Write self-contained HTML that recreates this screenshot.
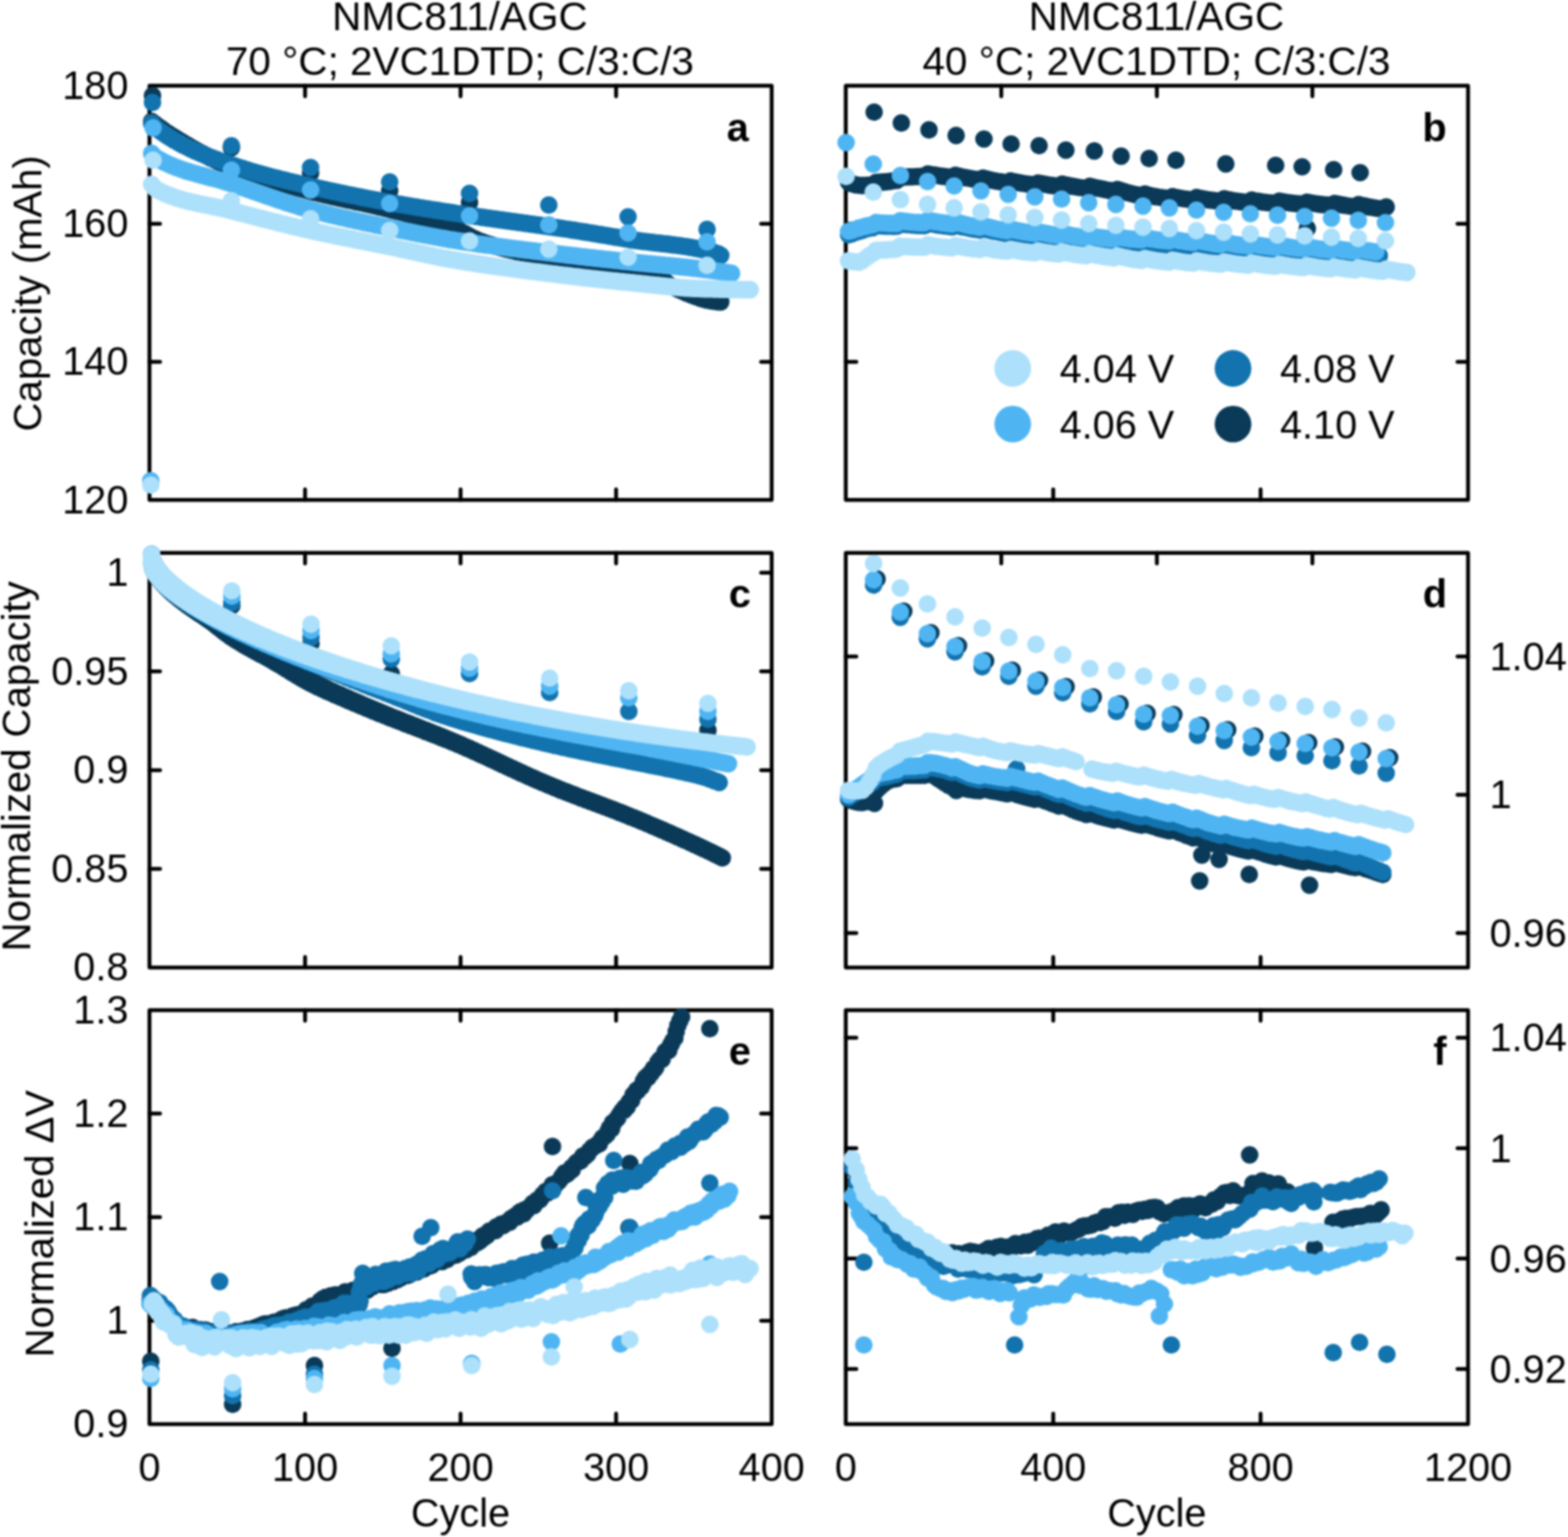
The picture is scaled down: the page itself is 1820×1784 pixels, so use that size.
<!DOCTYPE html>
<html><head><meta charset="utf-8"><title>NMC811/AGC capacity and normalized data</title>
<style>html,body{margin:0;padding:0;background:#fff;}svg{display:block;}#w{filter:blur(0.8px);}
text{font-family:'Liberation Sans', Arial, Helvetica, sans-serif;fill:#000;}</style></head>
<body><div id="w"><svg width="1820" height="1784" viewBox="0 0 1820 1784">
<rect width="1820" height="1784" fill="#fff"/>
<path d="M354.1 99.5V111.8M534.6 99.5V111.8M715.1 99.5V111.8M354.1 580.2V567.9M534.6 580.2V567.9M715.1 580.2V567.9M173.5 259.7H185.8M173.5 420H185.8M895.7 259.7H883.4M895.7 420H883.4" stroke="#000" stroke-width="4.5" stroke-linecap="round" fill="none"/>
<rect x="173.5" y="99.5" width="722.2" height="480.7" fill="none" stroke="#000" stroke-width="4.5" stroke-linejoin="round"/>
<path d="M1162.2 99.5V111.8M1342.8 99.5V111.8M1523.3 99.5V111.8M1222.5 580.2V567.9M1463.2 580.2V567.9M981.7 259.7H994M981.7 420H994M1704 259.7H1691.7M1704 420H1691.7" stroke="#000" stroke-width="4.5" stroke-linecap="round" fill="none"/>
<rect x="981.7" y="99.5" width="722.3" height="480.7" fill="none" stroke="#000" stroke-width="4.5" stroke-linejoin="round"/>
<path d="M354.1 641.8V654.1M534.6 641.8V654.1M715.1 641.8V654.1M354.1 1123V1110.7M534.6 1123V1110.7M715.1 1123V1110.7M173.5 664.7H185.8M173.5 779.3H185.8M173.5 893.9H185.8M173.5 1008.4H185.8M895.7 664.7H883.4M895.7 779.3H883.4M895.7 893.9H883.4M895.7 1008.4H883.4" stroke="#000" stroke-width="4.5" stroke-linecap="round" fill="none"/>
<rect x="173.5" y="641.8" width="722.2" height="481.2" fill="none" stroke="#000" stroke-width="4.5" stroke-linejoin="round"/>
<path d="M1162.2 641.8V654.1M1342.8 641.8V654.1M1523.3 641.8V654.1M1222.5 1123V1110.7M1463.2 1123V1110.7M981.7 762.1H994M981.7 922.5H994M981.7 1082.9H994M1704 762.1H1691.7M1704 922.5H1691.7M1704 1082.9H1691.7" stroke="#000" stroke-width="4.5" stroke-linecap="round" fill="none"/>
<rect x="981.7" y="641.8" width="722.3" height="481.2" fill="none" stroke="#000" stroke-width="4.5" stroke-linejoin="round"/>
<path d="M354.1 1172.5V1184.8M534.6 1172.5V1184.8M715.1 1172.5V1184.8M354.1 1653V1640.7M534.6 1653V1640.7M715.1 1653V1640.7M173.5 1292.6H185.8M173.5 1412.8H185.8M173.5 1532.9H185.8M895.7 1292.6H883.4M895.7 1412.8H883.4M895.7 1532.9H883.4" stroke="#000" stroke-width="4.5" stroke-linecap="round" fill="none"/>
<rect x="173.5" y="1172.5" width="722.2" height="480.5" fill="none" stroke="#000" stroke-width="4.5" stroke-linejoin="round"/>
<path d="M1222.5 1172.5V1184.8M1463.2 1172.5V1184.8M1222.5 1653V1640.7M1463.2 1653V1640.7M981.7 1204.5H994M981.7 1332.7H994M981.7 1460.8H994M981.7 1588.9H994M1704 1204.5H1691.7M1704 1332.7H1691.7M1704 1460.8H1691.7M1704 1588.9H1691.7" stroke="#000" stroke-width="4.5" stroke-linecap="round" fill="none"/>
<rect x="981.7" y="1172.5" width="722.3" height="480.5" fill="none" stroke="#000" stroke-width="4.5" stroke-linejoin="round"/>
<path d="M176 141h.01M177.8 142.4h.01M179.6 143.7h.01M181.4 145.1h.01M183.2 146.4h.01M185 147.7h.01M186.8 149h.01M188.6 150.3h.01M190.4 151.6h.01M192.2 152.9h.01M194 154.1h.01M195.8 155.3h.01M197.6 156.5h.01M199.4 157.6h.01M201.2 158.7h.01M203 159.8h.01M204.8 160.9h.01M206.6 162h.01M208.4 163.1h.01M210.2 164.2h.01M212 165.3h.01M213.8 166.4h.01M215.6 167.4h.01M217.4 168.5h.01M219.2 169.5h.01M221 170.6h.01M222.8 171.6h.01M224.6 172.6h.01M226.4 173.6h.01M228.2 174.6h.01M230 175.6h.01M231.8 176.6h.01M233.6 177.6h.01M235.4 178.5h.01M237.2 179.5h.01M239 180.4h.01M240.8 181.4h.01M242.6 182.3h.01M244.4 183.2h.01M246.2 184.1h.01M248 184.9h.01M249.8 185.8h.01M251.6 186.7h.01M253.4 187.5h.01M255.2 188.3h.01M257 189.1h.01M258.8 189.9h.01M260.6 190.7h.01M262.4 191.5h.01M264.2 192.2h.01M266 193h.01M267.8 193.7h.01M269.6 194.4h.01M271.4 195.1h.01M273.2 195.8h.01M275 196.4h.01M276.8 197.1h.01M278.6 197.8h.01M280.4 198.4h.01M282.2 199.1h.01M284 199.7h.01M285.8 200.3h.01M287.6 200.9h.01M289.4 201.6h.01M291.2 202.2h.01M293 202.8h.01M294.8 203.4h.01M296.6 203.9h.01M298.4 204.5h.01M300.2 205.1h.01M302 205.7h.01M303.8 206.2h.01M305.6 206.8h.01M307.4 207.3h.01M309.2 207.9h.01M311 208.4h.01M312.8 209h.01M314.6 209.5h.01M316.4 210h.01M318.2 210.5h.01M320 211.1h.01M321.8 211.6h.01M323.6 212.1h.01M325.4 212.6h.01M327.2 213.1h.01M329 213.6h.01M330.8 214.1h.01M332.6 214.6h.01M334.4 215.1h.01M336.2 215.6h.01M338 216.1h.01M339.8 216.5h.01M341.6 217h.01M343.4 217.5h.01M345.2 218h.01M347 218.5h.01M348.8 218.9h.01M350.6 219.4h.01M352.4 219.9h.01M354.2 220.3h.01M356 220.8h.01M357.8 221.3h.01M359.6 221.8h.01M361.4 222.2h.01M363.2 222.7h.01M365 223.2h.01M366.8 223.6h.01M368.6 224.1h.01M370.4 224.5h.01M372.2 224.9h.01M374 225.4h.01M375.8 225.8h.01M377.6 226.2h.01M379.4 226.6h.01M381.2 227.1h.01M383 227.5h.01M384.8 227.9h.01M386.6 228.3h.01M388.4 228.7h.01M390.2 229.1h.01M392 229.5h.01M393.8 229.9h.01M395.6 230.3h.01M397.4 230.7h.01M399.2 231.1h.01M401 231.5h.01M402.8 231.9h.01M404.6 232.2h.01M406.4 232.6h.01M408.2 233h.01M410 233.4h.01M411.8 233.8h.01M413.6 234.2h.01M415.4 234.6h.01M417.2 235h.01M419 235.4h.01M420.8 235.7h.01M422.6 236.1h.01M424.4 236.5h.01M426.2 236.9h.01M428 237.3h.01M429.8 237.7h.01M431.6 238.1h.01M433.4 238.5h.01M435.2 239h.01M437 239.4h.01M438.8 239.8h.01M440.6 240.2h.01M442.4 240.6h.01M444.2 241.1h.01M446 241.5h.01M447.8 242h.01M449.6 242.4h.01M451.4 242.8h.01M453.2 243.3h.01M455 243.8h.01M456.8 244.2h.01M458.6 244.7h.01M460.4 245.1h.01M462.2 245.6h.01M464 246h.01M465.8 246.4h.01M467.6 246.9h.01M469.4 247.3h.01M471.2 247.8h.01M473 248.2h.01M474.8 248.7h.01M476.6 249.2h.01M478.4 249.6h.01M480.2 250.1h.01M482 250.5h.01M483.8 251h.01M485.6 251.5h.01M487.4 252h.01M489.2 252.5h.01M491 252.9h.01M492.8 253.4h.01M494.6 253.9h.01M496.4 254.5h.01M498.2 255h.01M500 255.5h.01M501.8 256h.01M503.6 256.6h.01M505.4 257.1h.01M507.2 257.7h.01M509 258.3h.01M510.8 258.8h.01M512.6 259.4h.01M514.4 260h.01M516.2 260.7h.01M518 261.3h.01M519.8 261.9h.01M521.6 262.6h.01M523.4 263.3h.01M525.2 264.1h.01M527 264.9h.01M528.8 265.8h.01M530.6 266.6h.01M532.4 267.5h.01M534.2 268.5h.01M536 269.4h.01M537.8 270.4h.01M539.6 271.3h.01M541.4 272.3h.01M543.2 273.3h.01M545 274.2h.01M546.8 275.1h.01M548.6 276.1h.01M550.4 276.9h.01M552.2 277.8h.01M554 278.6h.01M555.8 279.4h.01M557.6 280.1h.01M559.4 280.8h.01M561.2 281.4h.01M563 282h.01M564.8 282.6h.01M566.6 283.2h.01M568.4 283.8h.01M570.2 284.3h.01M572 284.9h.01M573.8 285.4h.01M575.6 285.9h.01M577.4 286.4h.01M579.2 286.9h.01M581 287.4h.01M582.8 287.9h.01M584.6 288.4h.01M586.4 288.8h.01M588.2 289.3h.01M590 289.7h.01M591.8 290.1h.01M593.6 290.6h.01M595.4 291h.01M597.2 291.4h.01M599 291.8h.01M600.8 292.2h.01M602.6 292.6h.01M604.4 292.9h.01M606.2 293.3h.01M608 293.7h.01M609.8 294h.01M611.6 294.4h.01M613.4 294.7h.01M615.2 295.1h.01M617 295.4h.01M618.8 295.7h.01M620.6 296.1h.01M622.4 296.4h.01M624.2 296.7h.01M626 297h.01M627.8 297.3h.01M629.6 297.6h.01M631.4 297.9h.01M633.2 298.2h.01M635 298.5h.01M636.8 298.8h.01M638.6 299h.01M640.4 299.3h.01M642.2 299.6h.01M644 299.9h.01M645.8 300.1h.01M647.6 300.4h.01M649.4 300.6h.01M651.2 300.9h.01M653 301.1h.01M654.8 301.3h.01M656.6 301.5h.01M658.4 301.7h.01M660.2 302h.01M662 302.2h.01M663.8 302.4h.01M665.6 302.6h.01M667.4 302.8h.01M669.2 302.9h.01M671 303.1h.01M672.8 303.3h.01M674.6 303.5h.01M676.4 303.7h.01M678.2 303.8h.01M680 304h.01M681.8 304.2h.01M683.6 304.4h.01M685.4 304.6h.01M687.2 304.7h.01M689 304.9h.01M690.8 305.1h.01M692.6 305.3h.01M694.4 305.5h.01M696.2 305.6h.01M698 305.8h.01M699.8 306h.01M701.6 306.2h.01M703.4 306.4h.01M705.2 306.6h.01M707 306.9h.01M708.8 307.1h.01M710.6 307.3h.01M712.4 307.5h.01M714.2 307.8h.01M716 308h.01M717.8 308.2h.01M719.6 308.5h.01M721.4 308.8h.01M723.2 309h.01M725 309.3h.01M726.8 309.6h.01M728.6 309.9h.01M730.4 310.2h.01M732.2 310.6h.01M734 310.9h.01M735.8 311.2h.01M737.6 311.6h.01M739.4 312h.01M741.2 312.4h.01M743 312.8h.01M744.8 313.2h.01M746.6 313.7h.01M748.4 314.2h.01M750.2 314.7h.01M752 315.2h.01M753.8 315.8h.01M755.6 316.4h.01M757.4 317h.01M759.2 317.7h.01M761 318.4h.01M762.8 319.4h.01M764.6 320.6h.01M766.4 321.9h.01M768.2 323.4h.01M770 324.9h.01M771.8 326.4h.01M773.6 328h.01M775.4 329.4h.01M777.2 330.8h.01M779 331.9h.01M780.8 332.9h.01M782.6 333.7h.01M784.4 334.6h.01M786.2 335.4h.01M788 336.2h.01M789.8 337h.01M791.6 337.8h.01M793.4 338.6h.01M795.2 339.4h.01M797 340.2h.01M798.8 340.9h.01M800.6 341.6h.01M802.4 342.4h.01M804.2 343.1h.01M806 343.7h.01M807.8 344.4h.01M809.6 345h.01M811.4 345.6h.01M813.2 346.2h.01M815 346.8h.01M816.8 347.3h.01M818.6 347.8h.01M820.4 348.2h.01M822.2 348.6h.01M824 349h.01M825.8 349.3h.01M827.6 349.6h.01M829.4 349.9h.01M831.2 350.1h.01M833 350.3h.01M834.8 350.4h.01M836.6 350.5h.01M177 111h.01M268.6 171.6h.01M360.5 200.7h.01M452.3 221.6h.01M545 235h.01" stroke="#0a3a58" stroke-width="20.4" stroke-linecap="round" fill="none"/>
<path d="M176 143h.01M177.8 145.1h.01M179.6 147.2h.01M181.4 148.8h.01M183.2 150.2h.01M185 151.5h.01M186.8 152.8h.01M188.6 154h.01M190.4 155.3h.01M192.2 156.5h.01M194 157.7h.01M195.8 158.8h.01M197.6 160h.01M199.4 161.1h.01M201.2 162.2h.01M203 163.2h.01M204.8 164.3h.01M206.6 165.3h.01M208.4 166.3h.01M210.2 167.2h.01M212 168.2h.01M213.8 169.1h.01M215.6 170h.01M217.4 170.9h.01M219.2 171.8h.01M221 172.7h.01M222.8 173.5h.01M224.6 174.3h.01M226.4 175.2h.01M228.2 175.9h.01M230 176.7h.01M231.8 177.5h.01M233.6 178.3h.01M235.4 179h.01M237.2 179.7h.01M239 180.5h.01M240.8 181.2h.01M242.6 181.9h.01M244.4 182.6h.01M246.2 183.2h.01M248 183.9h.01M249.8 184.6h.01M251.6 185.3h.01M253.4 185.9h.01M255.2 186.6h.01M257 187.2h.01M258.8 187.8h.01M260.6 188.5h.01M262.4 189.1h.01M264.2 189.8h.01M266 190.4h.01M267.8 191h.01M269.6 191.6h.01M271.4 192.3h.01M273.2 192.9h.01M275 193.5h.01M276.8 194.1h.01M278.6 194.7h.01M280.4 195.3h.01M282.2 195.8h.01M284 196.4h.01M285.8 197h.01M287.6 197.5h.01M289.4 198.1h.01M291.2 198.6h.01M293 199.2h.01M294.8 199.7h.01M296.6 200.2h.01M298.4 200.7h.01M300.2 201.2h.01M302 201.7h.01M303.8 202.2h.01M305.6 202.7h.01M307.4 203.2h.01M309.2 203.7h.01M311 204.2h.01M312.8 204.7h.01M314.6 205.2h.01M316.4 205.6h.01M318.2 206.1h.01M320 206.5h.01M321.8 207h.01M323.6 207.5h.01M325.4 207.9h.01M327.2 208.4h.01M329 208.8h.01M330.8 209.3h.01M332.6 209.7h.01M334.4 210.1h.01M336.2 210.6h.01M338 211h.01M339.8 211.4h.01M341.6 211.9h.01M343.4 212.3h.01M345.2 212.7h.01M347 213.1h.01M348.8 213.6h.01M350.6 214h.01M352.4 214.4h.01M354.2 214.8h.01M356 215.2h.01M357.8 215.7h.01M359.6 216.1h.01M361.4 216.5h.01M363.2 216.9h.01M365 217.3h.01M366.8 217.8h.01M368.6 218.2h.01M370.4 218.6h.01M372.2 219h.01M374 219.4h.01M375.8 219.8h.01M377.6 220.2h.01M379.4 220.6h.01M381.2 221h.01M383 221.4h.01M384.8 221.8h.01M386.6 222.2h.01M388.4 222.5h.01M390.2 222.9h.01M392 223.3h.01M393.8 223.7h.01M395.6 224.1h.01M397.4 224.5h.01M399.2 224.8h.01M401 225.2h.01M402.8 225.6h.01M404.6 225.9h.01M406.4 226.3h.01M408.2 226.7h.01M410 227h.01M411.8 227.4h.01M413.6 227.8h.01M415.4 228.1h.01M417.2 228.5h.01M419 228.8h.01M420.8 229.2h.01M422.6 229.5h.01M424.4 229.9h.01M426.2 230.2h.01M428 230.6h.01M429.8 230.9h.01M431.6 231.3h.01M433.4 231.6h.01M435.2 231.9h.01M437 232.3h.01M438.8 232.6h.01M440.6 233h.01M442.4 233.3h.01M444.2 233.6h.01M446 234h.01M447.8 234.3h.01M449.6 234.6h.01M451.4 234.9h.01M453.2 235.3h.01M455 235.6h.01M456.8 235.9h.01M458.6 236.2h.01M460.4 236.5h.01M462.2 236.9h.01M464 237.2h.01M465.8 237.5h.01M467.6 237.8h.01M469.4 238.1h.01M471.2 238.4h.01M473 238.7h.01M474.8 239h.01M476.6 239.3h.01M478.4 239.6h.01M480.2 239.9h.01M482 240.2h.01M483.8 240.5h.01M485.6 240.8h.01M487.4 241.1h.01M489.2 241.4h.01M491 241.7h.01M492.8 242h.01M494.6 242.3h.01M496.4 242.6h.01M498.2 242.8h.01M500 243.1h.01M501.8 243.4h.01M503.6 243.7h.01M505.4 244h.01M507.2 244.3h.01M509 244.5h.01M510.8 244.8h.01M512.6 245.1h.01M514.4 245.4h.01M516.2 245.7h.01M518 245.9h.01M519.8 246.2h.01M521.6 246.5h.01M523.4 246.8h.01M525.2 247h.01M527 247.3h.01M528.8 247.6h.01M530.6 247.9h.01M532.4 248.1h.01M534.2 248.4h.01M536 248.7h.01M537.8 249h.01M539.6 249.2h.01M541.4 249.5h.01M543.2 249.8h.01M545 250.1h.01M546.8 250.3h.01M548.6 250.6h.01M550.4 250.9h.01M552.2 251.1h.01M554 251.4h.01M555.8 251.6h.01M557.6 251.9h.01M559.4 252.2h.01M561.2 252.4h.01M563 252.7h.01M564.8 252.9h.01M566.6 253.2h.01M568.4 253.4h.01M570.2 253.7h.01M572 254h.01M573.8 254.2h.01M575.6 254.5h.01M577.4 254.7h.01M579.2 255h.01M581 255.2h.01M582.8 255.5h.01M584.6 255.7h.01M586.4 256h.01M588.2 256.2h.01M590 256.5h.01M591.8 256.7h.01M593.6 257h.01M595.4 257.2h.01M597.2 257.4h.01M599 257.7h.01M600.8 257.9h.01M602.6 258.2h.01M604.4 258.4h.01M606.2 258.7h.01M608 258.9h.01M609.8 259.2h.01M611.6 259.4h.01M613.4 259.7h.01M615.2 259.9h.01M617 260.2h.01M618.8 260.4h.01M620.6 260.7h.01M622.4 260.9h.01M624.2 261.2h.01M626 261.4h.01M627.8 261.7h.01M629.6 261.9h.01M631.4 262.2h.01M633.2 262.5h.01M635 262.7h.01M636.8 263h.01M638.6 263.2h.01M640.4 263.5h.01M642.2 263.7h.01M644 264h.01M645.8 264.3h.01M647.6 264.5h.01M649.4 264.8h.01M651.2 265.1h.01M653 265.3h.01M654.8 265.6h.01M656.6 265.9h.01M658.4 266.1h.01M660.2 266.4h.01M662 266.7h.01M663.8 267h.01M665.6 267.2h.01M667.4 267.5h.01M669.2 267.8h.01M671 268.1h.01M672.8 268.4h.01M674.6 268.7h.01M676.4 268.9h.01M678.2 269.2h.01M680 269.5h.01M681.8 269.8h.01M683.6 270.1h.01M685.4 270.4h.01M687.2 270.7h.01M689 271h.01M690.8 271.3h.01M692.6 271.6h.01M694.4 271.9h.01M696.2 272.2h.01M698 272.5h.01M699.8 272.8h.01M701.6 273.1h.01M703.4 273.4h.01M705.2 273.7h.01M707 274h.01M708.8 274.3h.01M710.6 274.6h.01M712.4 274.9h.01M714.2 275.2h.01M716 275.5h.01M717.8 275.8h.01M719.6 276.1h.01M721.4 276.4h.01M723.2 276.7h.01M725 277h.01M726.8 277.3h.01M728.6 277.6h.01M730.4 277.9h.01M732.2 278.2h.01M734 278.5h.01M735.8 278.7h.01M737.6 279h.01M739.4 279.3h.01M741.2 279.5h.01M743 279.7h.01M744.8 280h.01M746.6 280.2h.01M748.4 280.4h.01M750.2 280.6h.01M752 280.8h.01M753.8 281.1h.01M755.6 281.3h.01M757.4 281.5h.01M759.2 281.7h.01M761 281.9h.01M762.8 282.1h.01M764.6 282.3h.01M766.4 282.5h.01M768.2 282.7h.01M770 282.9h.01M771.8 283.1h.01M773.6 283.3h.01M775.4 283.5h.01M777.2 283.7h.01M779 283.9h.01M780.8 284.2h.01M782.6 284.4h.01M784.4 284.6h.01M786.2 284.9h.01M788 285.1h.01M789.8 285.3h.01M791.6 285.6h.01M793.4 285.9h.01M795.2 286.1h.01M797 286.4h.01M798.8 286.7h.01M800.6 287h.01M802.4 287.3h.01M804.2 287.6h.01M806 287.9h.01M807.8 288.3h.01M809.6 288.6h.01M811.4 289h.01M813.2 289.3h.01M815 289.7h.01M816.8 290.1h.01M818.6 290.5h.01M820.4 291h.01M822.2 291.4h.01M824 291.9h.01M825.8 292.3h.01M827.6 292.8h.01M829.4 293.3h.01M831.2 293.9h.01M833 294.4h.01M834.8 295.3h.01M836.6 296.5h.01M177 119h.01M268.6 169.3h.01M360.5 194.4h.01M452.3 211.1h.01M545 224.5h.01M637 238h.01M729 251.6h.01M820.7 266.2h.01" stroke="#1273ae" stroke-width="20.4" stroke-linecap="round" fill="none"/>
<path d="M176 178h.01M177.8 180h.01M179.6 181.9h.01M181.4 183.2h.01M183.2 184.3h.01M185 185.3h.01M186.8 186.3h.01M188.6 187.2h.01M190.4 188.2h.01M192.2 189h.01M194 189.9h.01M195.8 190.7h.01M197.6 191.5h.01M199.4 192.3h.01M201.2 193h.01M203 193.8h.01M204.8 194.5h.01M206.6 195.1h.01M208.4 195.8h.01M210.2 196.4h.01M212 197h.01M213.8 197.6h.01M215.6 198.2h.01M217.4 198.8h.01M219.2 199.3h.01M221 199.9h.01M222.8 200.4h.01M224.6 200.9h.01M226.4 201.4h.01M228.2 201.9h.01M230 202.4h.01M231.8 202.9h.01M233.6 203.4h.01M235.4 203.8h.01M237.2 204.3h.01M239 204.8h.01M240.8 205.2h.01M242.6 205.7h.01M244.4 206.2h.01M246.2 206.7h.01M248 207.1h.01M249.8 207.6h.01M251.6 208.1h.01M253.4 208.6h.01M255.2 209.1h.01M257 209.6h.01M258.8 210.1h.01M260.6 210.7h.01M262.4 211.2h.01M264.2 211.8h.01M266 212.3h.01M267.8 212.9h.01M269.6 213.5h.01M271.4 214.1h.01M273.2 214.8h.01M275 215.4h.01M276.8 216h.01M278.6 216.6h.01M280.4 217.2h.01M282.2 217.9h.01M284 218.5h.01M285.8 219.1h.01M287.6 219.7h.01M289.4 220.4h.01M291.2 221h.01M293 221.6h.01M294.8 222.3h.01M296.6 222.9h.01M298.4 223.5h.01M300.2 224.1h.01M302 224.8h.01M303.8 225.4h.01M305.6 226h.01M307.4 226.7h.01M309.2 227.3h.01M311 227.9h.01M312.8 228.5h.01M314.6 229.1h.01M316.4 229.8h.01M318.2 230.4h.01M320 231h.01M321.8 231.6h.01M323.6 232.2h.01M325.4 232.8h.01M327.2 233.4h.01M329 234h.01M330.8 234.6h.01M332.6 235.2h.01M334.4 235.7h.01M336.2 236.3h.01M338 236.9h.01M339.8 237.5h.01M341.6 238h.01M343.4 238.6h.01M345.2 239.1h.01M347 239.7h.01M348.8 240.2h.01M350.6 240.7h.01M352.4 241.2h.01M354.2 241.8h.01M356 242.3h.01M357.8 242.8h.01M359.6 243.3h.01M361.4 243.7h.01M363.2 244.2h.01M365 244.7h.01M366.8 245.2h.01M368.6 245.6h.01M370.4 246.1h.01M372.2 246.6h.01M374 247h.01M375.8 247.5h.01M377.6 247.9h.01M379.4 248.4h.01M381.2 248.8h.01M383 249.2h.01M384.8 249.7h.01M386.6 250.1h.01M388.4 250.5h.01M390.2 251h.01M392 251.4h.01M393.8 251.8h.01M395.6 252.2h.01M397.4 252.6h.01M399.2 253h.01M401 253.4h.01M402.8 253.8h.01M404.6 254.2h.01M406.4 254.7h.01M408.2 255h.01M410 255.4h.01M411.8 255.8h.01M413.6 256.2h.01M415.4 256.6h.01M417.2 257h.01M419 257.4h.01M420.8 257.8h.01M422.6 258.2h.01M424.4 258.6h.01M426.2 258.9h.01M428 259.3h.01M429.8 259.7h.01M431.6 260.1h.01M433.4 260.5h.01M435.2 260.8h.01M437 261.2h.01M438.8 261.6h.01M440.6 262h.01M442.4 262.3h.01M444.2 262.7h.01M446 263.1h.01M447.8 263.5h.01M449.6 263.8h.01M451.4 264.2h.01M453.2 264.6h.01M455 265h.01M456.8 265.3h.01M458.6 265.7h.01M460.4 266.1h.01M462.2 266.5h.01M464 266.8h.01M465.8 267.2h.01M467.6 267.6h.01M469.4 268h.01M471.2 268.3h.01M473 268.7h.01M474.8 269.1h.01M476.6 269.4h.01M478.4 269.8h.01M480.2 270.2h.01M482 270.5h.01M483.8 270.9h.01M485.6 271.3h.01M487.4 271.6h.01M489.2 272h.01M491 272.3h.01M492.8 272.7h.01M494.6 273h.01M496.4 273.4h.01M498.2 273.7h.01M500 274.1h.01M501.8 274.4h.01M503.6 274.8h.01M505.4 275.1h.01M507.2 275.4h.01M509 275.8h.01M510.8 276.1h.01M512.6 276.4h.01M514.4 276.7h.01M516.2 277h.01M518 277.3h.01M519.8 277.7h.01M521.6 278h.01M523.4 278.3h.01M525.2 278.6h.01M527 278.8h.01M528.8 279.1h.01M530.6 279.4h.01M532.4 279.7h.01M534.2 280h.01M536 280.2h.01M537.8 280.5h.01M539.6 280.8h.01M541.4 281.1h.01M543.2 281.3h.01M545 281.6h.01M546.8 281.9h.01M548.6 282.1h.01M550.4 282.4h.01M552.2 282.6h.01M554 282.9h.01M555.8 283.2h.01M557.6 283.4h.01M559.4 283.7h.01M561.2 283.9h.01M563 284.2h.01M564.8 284.4h.01M566.6 284.6h.01M568.4 284.9h.01M570.2 285.1h.01M572 285.4h.01M573.8 285.6h.01M575.6 285.8h.01M577.4 286.1h.01M579.2 286.3h.01M581 286.6h.01M582.8 286.8h.01M584.6 287h.01M586.4 287.2h.01M588.2 287.5h.01M590 287.7h.01M591.8 287.9h.01M593.6 288.2h.01M595.4 288.4h.01M597.2 288.6h.01M599 288.8h.01M600.8 289.1h.01M602.6 289.3h.01M604.4 289.5h.01M606.2 289.7h.01M608 289.9h.01M609.8 290.2h.01M611.6 290.4h.01M613.4 290.6h.01M615.2 290.8h.01M617 291h.01M618.8 291.3h.01M620.6 291.5h.01M622.4 291.7h.01M624.2 291.9h.01M626 292.1h.01M627.8 292.3h.01M629.6 292.6h.01M631.4 292.8h.01M633.2 293h.01M635 293.2h.01M636.8 293.4h.01M638.6 293.6h.01M640.4 293.8h.01M642.2 294.1h.01M644 294.3h.01M645.8 294.5h.01M647.6 294.7h.01M649.4 294.9h.01M651.2 295.1h.01M653 295.4h.01M654.8 295.6h.01M656.6 295.8h.01M658.4 296h.01M660.2 296.2h.01M662 296.4h.01M663.8 296.6h.01M665.6 296.8h.01M667.4 297h.01M669.2 297.2h.01M671 297.5h.01M672.8 297.7h.01M674.6 297.9h.01M676.4 298.1h.01M678.2 298.3h.01M680 298.5h.01M681.8 298.7h.01M683.6 298.9h.01M685.4 299.1h.01M687.2 299.3h.01M689 299.5h.01M690.8 299.7h.01M692.6 299.9h.01M694.4 300.1h.01M696.2 300.3h.01M698 300.5h.01M699.8 300.7h.01M701.6 300.9h.01M703.4 301.1h.01M705.2 301.3h.01M707 301.4h.01M708.8 301.6h.01M710.6 301.8h.01M712.4 302h.01M714.2 302.2h.01M716 302.4h.01M717.8 302.6h.01M719.6 302.8h.01M721.4 303h.01M723.2 303.2h.01M725 303.4h.01M726.8 303.6h.01M728.6 303.8h.01M730.4 303.9h.01M732.2 304.1h.01M734 304.3h.01M735.8 304.5h.01M737.6 304.7h.01M739.4 304.9h.01M741.2 305h.01M743 305.2h.01M744.8 305.4h.01M746.6 305.6h.01M748.4 305.7h.01M750.2 305.9h.01M752 306.1h.01M753.8 306.2h.01M755.6 306.4h.01M757.4 306.6h.01M759.2 306.8h.01M761 306.9h.01M762.8 307.1h.01M764.6 307.3h.01M766.4 307.4h.01M768.2 307.6h.01M770 307.8h.01M771.8 307.9h.01M773.6 308.1h.01M775.4 308.3h.01M777.2 308.4h.01M779 308.6h.01M780.8 308.8h.01M782.6 309h.01M784.4 309.1h.01M786.2 309.3h.01M788 309.5h.01M789.8 309.7h.01M791.6 309.9h.01M793.4 310h.01M795.2 310.2h.01M797 310.4h.01M798.8 310.6h.01M800.6 310.8h.01M802.4 311h.01M804.2 311.2h.01M806 311.4h.01M807.8 311.6h.01M809.6 311.8h.01M811.4 312h.01M813.2 312.2h.01M815 312.4h.01M816.8 312.7h.01M818.6 312.9h.01M820.4 313.1h.01M822.2 313.4h.01M824 313.6h.01M825.8 313.8h.01M827.6 314.1h.01M829.4 314.3h.01M831.2 314.6h.01M833 314.9h.01M834.8 315.1h.01M836.6 315.4h.01M838.4 315.6h.01M840.2 315.9h.01M842 316.2h.01M843.8 316.5h.01M845.6 316.7h.01M847.4 317h.01M849.2 317.3h.01M177.7 148.5h.01M268.6 197.5h.01M360.5 220.5h.01M452.3 236.2h.01M545 250.6h.01M637 261h.01M729 270.4h.01M820.7 280.8h.01M175 558h.01" stroke="#4fb5f2" stroke-width="20.4" stroke-linecap="round" fill="none"/>
<path d="M176 214h.01M177.8 216.2h.01M179.6 218.4h.01M181.4 219.7h.01M183.2 220.7h.01M185 221.6h.01M186.8 222.5h.01M188.6 223.4h.01M190.4 224.2h.01M192.2 225h.01M194 225.7h.01M195.8 226.5h.01M197.6 227.2h.01M199.4 227.8h.01M201.2 228.5h.01M203 229.1h.01M204.8 229.7h.01M206.6 230.3h.01M208.4 230.8h.01M210.2 231.4h.01M212 231.9h.01M213.8 232.4h.01M215.6 232.9h.01M217.4 233.3h.01M219.2 233.8h.01M221 234.2h.01M222.8 234.6h.01M224.6 235h.01M226.4 235.4h.01M228.2 235.8h.01M230 236.2h.01M231.8 236.6h.01M233.6 237h.01M235.4 237.3h.01M237.2 237.7h.01M239 238h.01M240.8 238.4h.01M242.6 238.8h.01M244.4 239.1h.01M246.2 239.5h.01M248 239.8h.01M249.8 240.2h.01M251.6 240.6h.01M253.4 240.9h.01M255.2 241.3h.01M257 241.7h.01M258.8 242.1h.01M260.6 242.5h.01M262.4 242.9h.01M264.2 243.4h.01M266 243.8h.01M267.8 244.3h.01M269.6 244.8h.01M271.4 245.2h.01M273.2 245.7h.01M275 246.2h.01M276.8 246.7h.01M278.6 247.2h.01M280.4 247.6h.01M282.2 248.1h.01M284 248.6h.01M285.8 249.1h.01M287.6 249.5h.01M289.4 250h.01M291.2 250.5h.01M293 250.9h.01M294.8 251.4h.01M296.6 251.9h.01M298.4 252.3h.01M300.2 252.8h.01M302 253.3h.01M303.8 253.7h.01M305.6 254.2h.01M307.4 254.7h.01M309.2 255.1h.01M311 255.6h.01M312.8 256h.01M314.6 256.5h.01M316.4 256.9h.01M318.2 257.4h.01M320 257.8h.01M321.8 258.3h.01M323.6 258.7h.01M325.4 259.2h.01M327.2 259.6h.01M329 260.1h.01M330.8 260.5h.01M332.6 261h.01M334.4 261.4h.01M336.2 261.8h.01M338 262.3h.01M339.8 262.7h.01M341.6 263.1h.01M343.4 263.5h.01M345.2 264h.01M347 264.4h.01M348.8 264.8h.01M350.6 265.2h.01M352.4 265.7h.01M354.2 266.1h.01M356 266.5h.01M357.8 266.9h.01M359.6 267.3h.01M361.4 267.7h.01M363.2 268.1h.01M365 268.5h.01M366.8 268.9h.01M368.6 269.3h.01M370.4 269.7h.01M372.2 270.1h.01M374 270.5h.01M375.8 270.8h.01M377.6 271.2h.01M379.4 271.6h.01M381.2 272h.01M383 272.4h.01M384.8 272.7h.01M386.6 273.1h.01M388.4 273.5h.01M390.2 273.9h.01M392 274.2h.01M393.8 274.6h.01M395.6 275h.01M397.4 275.3h.01M399.2 275.7h.01M401 276h.01M402.8 276.4h.01M404.6 276.8h.01M406.4 277.1h.01M408.2 277.5h.01M410 277.8h.01M411.8 278.2h.01M413.6 278.6h.01M415.4 278.9h.01M417.2 279.3h.01M419 279.6h.01M420.8 280h.01M422.6 280.3h.01M424.4 280.7h.01M426.2 281h.01M428 281.4h.01M429.8 281.8h.01M431.6 282.1h.01M433.4 282.5h.01M435.2 282.8h.01M437 283.2h.01M438.8 283.6h.01M440.6 283.9h.01M442.4 284.3h.01M444.2 284.6h.01M446 285h.01M447.8 285.4h.01M449.6 285.7h.01M451.4 286.1h.01M453.2 286.5h.01M455 286.9h.01M456.8 287.2h.01M458.6 287.6h.01M460.4 288h.01M462.2 288.4h.01M464 288.8h.01M465.8 289.2h.01M467.6 289.6h.01M469.4 289.9h.01M471.2 290.3h.01M473 290.7h.01M474.8 291.1h.01M476.6 291.5h.01M478.4 291.9h.01M480.2 292.3h.01M482 292.7h.01M483.8 293.1h.01M485.6 293.5h.01M487.4 293.9h.01M489.2 294.3h.01M491 294.7h.01M492.8 295.1h.01M494.6 295.5h.01M496.4 295.8h.01M498.2 296.2h.01M500 296.6h.01M501.8 297h.01M503.6 297.4h.01M505.4 297.7h.01M507.2 298.1h.01M509 298.5h.01M510.8 298.8h.01M512.6 299.2h.01M514.4 299.5h.01M516.2 299.9h.01M518 300.2h.01M519.8 300.5h.01M521.6 300.9h.01M523.4 301.2h.01M525.2 301.5h.01M527 301.8h.01M528.8 302.1h.01M530.6 302.4h.01M532.4 302.7h.01M534.2 303h.01M536 303.3h.01M537.8 303.6h.01M539.6 303.9h.01M541.4 304.2h.01M543.2 304.5h.01M545 304.8h.01M546.8 305.1h.01M548.6 305.3h.01M550.4 305.6h.01M552.2 305.9h.01M554 306.2h.01M555.8 306.5h.01M557.6 306.7h.01M559.4 307h.01M561.2 307.3h.01M563 307.5h.01M564.8 307.8h.01M566.6 308.1h.01M568.4 308.3h.01M570.2 308.6h.01M572 308.8h.01M573.8 309.1h.01M575.6 309.4h.01M577.4 309.6h.01M579.2 309.9h.01M581 310.1h.01M582.8 310.4h.01M584.6 310.6h.01M586.4 310.9h.01M588.2 311.1h.01M590 311.3h.01M591.8 311.6h.01M593.6 311.8h.01M595.4 312.1h.01M597.2 312.3h.01M599 312.6h.01M600.8 312.8h.01M602.6 313h.01M604.4 313.3h.01M606.2 313.5h.01M608 313.7h.01M609.8 314h.01M611.6 314.2h.01M613.4 314.4h.01M615.2 314.7h.01M617 314.9h.01M618.8 315.1h.01M620.6 315.4h.01M622.4 315.6h.01M624.2 315.8h.01M626 316h.01M627.8 316.3h.01M629.6 316.5h.01M631.4 316.7h.01M633.2 316.9h.01M635 317.2h.01M636.8 317.4h.01M638.6 317.6h.01M640.4 317.8h.01M642.2 318.1h.01M644 318.3h.01M645.8 318.5h.01M647.6 318.7h.01M649.4 318.9h.01M651.2 319.2h.01M653 319.4h.01M654.8 319.6h.01M656.6 319.8h.01M658.4 320h.01M660.2 320.3h.01M662 320.5h.01M663.8 320.7h.01M665.6 320.9h.01M667.4 321.1h.01M669.2 321.3h.01M671 321.5h.01M672.8 321.7h.01M674.6 322h.01M676.4 322.2h.01M678.2 322.4h.01M680 322.6h.01M681.8 322.8h.01M683.6 323h.01M685.4 323.2h.01M687.2 323.4h.01M689 323.6h.01M690.8 323.8h.01M692.6 324h.01M694.4 324.2h.01M696.2 324.4h.01M698 324.6h.01M699.8 324.8h.01M701.6 325h.01M703.4 325.2h.01M705.2 325.4h.01M707 325.6h.01M708.8 325.7h.01M710.6 325.9h.01M712.4 326.1h.01M714.2 326.3h.01M716 326.5h.01M717.8 326.7h.01M719.6 326.9h.01M721.4 327h.01M723.2 327.2h.01M725 327.4h.01M726.8 327.6h.01M728.6 327.8h.01M730.4 327.9h.01M732.2 328.1h.01M734 328.3h.01M735.8 328.5h.01M737.6 328.7h.01M739.4 328.9h.01M741.2 329h.01M743 329.2h.01M744.8 329.4h.01M746.6 329.6h.01M748.4 329.8h.01M750.2 330h.01M752 330.2h.01M753.8 330.4h.01M755.6 330.6h.01M757.4 330.7h.01M759.2 330.9h.01M761 331.1h.01M762.8 331.3h.01M764.6 331.5h.01M766.4 331.7h.01M768.2 331.9h.01M770 332h.01M771.8 332.2h.01M773.6 332.4h.01M775.4 332.6h.01M777.2 332.7h.01M779 332.9h.01M780.8 333h.01M782.6 333.2h.01M784.4 333.3h.01M786.2 333.5h.01M788 333.6h.01M789.8 333.8h.01M791.6 333.9h.01M793.4 334h.01M795.2 334.2h.01M797 334.3h.01M798.8 334.4h.01M800.6 334.5h.01M802.4 334.6h.01M804.2 334.7h.01M806 334.8h.01M807.8 334.8h.01M809.6 334.9h.01M811.4 335h.01M813.2 335h.01M815 335.1h.01M816.8 335.2h.01M818.6 335.2h.01M820.4 335.3h.01M822.2 335.3h.01M824 335.4h.01M825.8 335.4h.01M827.6 335.5h.01M829.4 335.5h.01M831.2 335.6h.01M833 335.6h.01M834.8 335.7h.01M836.6 335.7h.01M838.4 335.8h.01M840.2 335.8h.01M842 335.8h.01M843.8 335.9h.01M845.6 335.9h.01M847.4 336h.01M849.2 336h.01M851 336h.01M852.8 336.1h.01M854.6 336.1h.01M856.4 336.1h.01M858.2 336.1h.01M860 336.1h.01M861.8 336.2h.01M863.6 336.2h.01M865.4 336.2h.01M867.2 336.2h.01M869 336.2h.01M870.8 336.2h.01M177.7 186h.01M268.6 233h.01M360.5 253.9h.01M452.3 267.5h.01M545 279.8h.01M637 289.2h.01M729 298.6h.01M820.7 308h.01M175 563h.01" stroke="#ade0fb" stroke-width="20.4" stroke-linecap="round" fill="none"/>
<path d="M985 211.5h.01M989 213.2h.01M993 214.5h.01M997 215.1h.01M1001 215.3h.01M1005 215.2h.01M1009 215h.01M1013 214.5h.01M1017 211.6h.01M1021 211.5h.01M1025 211.3h.01M1029 211h.01M1033 210.5h.01M1037 209.9h.01M1041 209.2h.01M1045 205.5h.01M1049 205.5h.01M1053 205.4h.01M1057 205.2h.01M1061 205.1h.01M1065 205h.01M1069 204.8h.01M1073 204.7h.01M1077 201.9h.01M1081 202.6h.01M1085 203.3h.01M1089 203.9h.01M1093 204.5h.01M1097 205h.01M1101 205.4h.01M1105 205.8h.01M1109 203.4h.01M1113 204.4h.01M1117 205.4h.01M1121 206.2h.01M1125 207h.01M1129 207.7h.01M1133 208.3h.01M1137 208.8h.01M1141 206.6h.01M1145 207.7h.01M1149 208.7h.01M1153 209.6h.01M1157 210.4h.01M1161 211h.01M1165 211.6h.01M1169 212h.01M1173 210h.01M1177 210.9h.01M1181 211.8h.01M1185 212.5h.01M1189 213.1h.01M1193 213.7h.01M1197 214.1h.01M1201 214.4h.01M1205 212.4h.01M1209 213.3h.01M1213 214h.01M1217 214.7h.01M1221 215.3h.01M1225 215.8h.01M1229 216.2h.01M1233 213.6h.01M1237 214.6h.01M1241 215.5h.01M1245 216.3h.01M1249 217h.01M1253 217.6h.01M1257 218.1h.01M1261 218.6h.01M1265 216.2h.01M1269 217.2h.01M1273 218.2h.01M1277 219h.01M1281 219.8h.01M1285 220.6h.01M1289 221.3h.01M1293 222h.01M1297 220h.01M1301 221.3h.01M1305 222.5h.01M1309 223.7h.01M1313 224.7h.01M1317 225.7h.01M1321 226.5h.01M1325 227.2h.01M1329 225.3h.01M1333 226.4h.01M1337 227.4h.01M1341 228.3h.01M1345 228.9h.01M1349 229.5h.01M1353 230h.01M1357 230.3h.01M1361 228.2h.01M1365 229.1h.01M1369 229.9h.01M1373 230.6h.01M1377 231.1h.01M1381 231.6h.01M1385 232h.01M1389 229.2h.01M1393 230.2h.01M1397 231h.01M1401 231.7h.01M1405 232.3h.01M1409 232.8h.01M1413 233.2h.01M1417 233.5h.01M1421 230.8h.01M1425 231.7h.01M1429 232.5h.01M1433 233.2h.01M1437 233.7h.01M1441 234.2h.01M1445 234.6h.01M1449 234.8h.01M1453 232.3h.01M1457 233.1h.01M1461 233.8h.01M1465 234.5h.01M1469 235h.01M1473 235.4h.01M1477 235.7h.01M1481 235.9h.01M1485 233.4h.01M1489 234.2h.01M1493 234.9h.01M1497 235.5h.01M1501 236h.01M1505 236.4h.01M1509 236.7h.01M1513 236.9h.01M1517 234.6h.01M1521 235.4h.01M1525 236.1h.01M1529 236.7h.01M1533 237.2h.01M1537 237.6h.01M1541 238h.01M1545 238.3h.01M1549 236.1h.01M1553 237h.01M1557 237.8h.01M1561 238.4h.01M1565 239.1h.01M1569 239.6h.01M1573 240h.01M1577 237.4h.01M1581 238.4h.01M1585 239.3h.01M1589 240.2h.01M1593 240.9h.01M1597 241.6h.01M1601 242.1h.01M1605 242.6h.01M1609 240.2h.01M1014.6 130.1h.01M1046.2 142.7h.01M1078.3 150.8h.01M1109.8 157.3h.01M1142.1 161.4h.01M1173.6 167.1h.01M1206.1 169.1h.01M1237.2 174.2h.01M1270.2 175.2h.01M1301.3 181.3h.01M1333.8 184h.01M1364.9 186h.01M1422.8 190.2h.01M1480.7 191.9h.01M1511.4 193.6h.01M1548 197h.01M1578.7 200.4h.01M1517.4 265.2h.01" stroke="#0a3a58" stroke-width="20.4" stroke-linecap="round" fill="none"/>
<path d="M985 272.5h.01M989 271.3h.01M993 269.9h.01M997 268.6h.01M1001 267.2h.01M1005 266h.01M1009 265h.01M1013 264.3h.01M1017 261.6h.01M1021 262h.01M1025 262.3h.01M1029 262.5h.01M1033 262.6h.01M1037 262.7h.01M1041 262.6h.01M1045 259.6h.01M1049 260.2h.01M1053 260.7h.01M1057 261.1h.01M1061 261.4h.01M1065 261.7h.01M1069 261.9h.01M1073 262h.01M1077 259.2h.01M1081 259.9h.01M1085 260.6h.01M1089 261.3h.01M1093 261.9h.01M1097 262.4h.01M1101 262.9h.01M1105 263.4h.01M1109 261.1h.01M1113 262.2h.01M1117 263.2h.01M1121 264.1h.01M1125 265h.01M1129 265.7h.01M1133 266.4h.01M1137 267h.01M1141 265h.01M1145 266.2h.01M1149 267.3h.01M1153 268.3h.01M1157 269.1h.01M1161 269.9h.01M1165 270.5h.01M1169 271h.01M1173 269.1h.01M1177 270.1h.01M1181 271h.01M1185 271.8h.01M1189 272.6h.01M1193 273.2h.01M1197 273.7h.01M1201 274.2h.01M1205 272.3h.01M1209 273.3h.01M1213 274.2h.01M1217 275h.01M1221 275.7h.01M1225 276.3h.01M1229 276.9h.01M1233 274.4h.01M1237 275.4h.01M1241 276.4h.01M1245 277.3h.01M1249 278h.01M1253 278.7h.01M1257 279.2h.01M1261 279.7h.01M1265 277.2h.01M1269 278.2h.01M1273 279.1h.01M1277 279.8h.01M1281 280.5h.01M1285 281h.01M1289 281.4h.01M1293 281.7h.01M1297 279.3h.01M1301 280.2h.01M1305 280.9h.01M1309 281.6h.01M1313 282.1h.01M1317 282.6h.01M1321 282.9h.01M1325 283.2h.01M1329 280.9h.01M1333 281.7h.01M1337 282.5h.01M1341 283.2h.01M1345 283.7h.01M1349 284.2h.01M1353 284.6h.01M1357 284.9h.01M1361 282.8h.01M1365 283.7h.01M1369 284.5h.01M1373 285.2h.01M1377 285.8h.01M1381 286.3h.01M1385 286.7h.01M1389 284h.01M1393 285h.01M1397 285.8h.01M1401 286.6h.01M1405 287.3h.01M1409 287.9h.01M1413 288.3h.01M1417 288.7h.01M1421 286.1h.01M1425 287.1h.01M1429 287.9h.01M1433 288.6h.01M1437 289.2h.01M1441 289.7h.01M1445 290.1h.01M1449 290.4h.01M1453 287.9h.01M1457 288.7h.01M1461 289.5h.01M1465 290.1h.01M1469 290.7h.01M1473 291.1h.01M1477 291.5h.01M1481 291.7h.01M1485 289.3h.01M1489 290.1h.01M1493 290.8h.01M1497 291.4h.01M1501 291.9h.01M1505 292.4h.01M1509 292.7h.01M1513 292.9h.01M1517 290.6h.01M1521 291.4h.01M1525 292.1h.01M1529 292.7h.01M1533 293.2h.01M1537 293.7h.01M1541 294h.01M1545 294.2h.01M1549 292h.01M1553 292.9h.01M1557 293.6h.01M1561 294.2h.01M1565 294.7h.01M1569 295.1h.01M1573 295.5h.01M1577 292.7h.01M1581 293.6h.01M1585 294.5h.01M1589 295.2h.01M1593 295.8h.01M1597 296.3h.01M1601 296.7h.01" stroke="#1273ae" stroke-width="20.4" stroke-linecap="round" fill="none"/>
<path d="M985 268.4h.01M989 267.3h.01M993 266.1h.01M997 264.8h.01M1001 263.6h.01M1005 262.5h.01M1009 261.6h.01M1013 260.9h.01M1017 258.2h.01M1021 258.6h.01M1025 258.9h.01M1029 259.1h.01M1033 259.2h.01M1037 259.3h.01M1041 259.2h.01M1045 256.2h.01M1049 256.8h.01M1053 257.3h.01M1057 257.7h.01M1061 258.1h.01M1065 258.3h.01M1069 258.5h.01M1073 258.6h.01M1077 255.8h.01M1081 256.5h.01M1085 257.2h.01M1089 257.9h.01M1093 258.5h.01M1097 259h.01M1101 259.6h.01M1105 260h.01M1109 257.7h.01M1113 258.8h.01M1117 259.8h.01M1121 260.8h.01M1125 261.7h.01M1129 262.4h.01M1133 263.1h.01M1137 263.8h.01M1141 261.7h.01M1145 262.9h.01M1149 264h.01M1153 265h.01M1157 265.9h.01M1161 266.6h.01M1165 267.3h.01M1169 267.8h.01M1173 265.8h.01M1177 266.8h.01M1181 267.7h.01M1185 268.5h.01M1189 269.2h.01M1193 269.8h.01M1197 270.4h.01M1201 270.8h.01M1205 268.9h.01M1209 269.9h.01M1213 270.8h.01M1217 271.5h.01M1221 272.2h.01M1225 272.8h.01M1229 273.3h.01M1233 270.8h.01M1237 271.9h.01M1241 272.8h.01M1245 273.6h.01M1249 274.3h.01M1253 274.9h.01M1257 275.4h.01M1261 275.8h.01M1265 273.3h.01M1269 274.3h.01M1273 275.1h.01M1277 275.8h.01M1281 276.3h.01M1285 276.8h.01M1289 277.2h.01M1293 277.4h.01M1297 274.9h.01M1301 275.7h.01M1305 276.4h.01M1309 277h.01M1313 277.5h.01M1317 277.8h.01M1321 278.1h.01M1325 278.3h.01M1329 276h.01M1333 276.7h.01M1337 277.4h.01M1341 278.1h.01M1345 278.6h.01M1349 279h.01M1353 279.4h.01M1357 279.7h.01M1361 277.5h.01M1365 278.4h.01M1369 279.2h.01M1373 279.9h.01M1377 280.5h.01M1381 281h.01M1385 281.4h.01M1389 278.7h.01M1393 279.7h.01M1397 280.6h.01M1401 281.4h.01M1405 282.1h.01M1409 282.7h.01M1413 283.2h.01M1417 283.6h.01M1421 281h.01M1425 282h.01M1429 282.8h.01M1433 283.6h.01M1437 284.2h.01M1441 284.7h.01M1445 285.1h.01M1449 285.5h.01M1453 283h.01M1457 283.9h.01M1461 284.7h.01M1465 285.4h.01M1469 285.9h.01M1473 286.4h.01M1477 286.8h.01M1481 287.1h.01M1485 284.7h.01M1489 285.6h.01M1493 286.3h.01M1497 287h.01M1501 287.6h.01M1505 288h.01M1509 288.4h.01M1513 288.7h.01M1517 286.4h.01M1521 287.2h.01M1525 288h.01M1529 288.6h.01M1533 289.2h.01M1537 289.6h.01M1541 290h.01M1545 290.2h.01M1549 288.1h.01M1553 288.9h.01M1557 289.7h.01M1561 290.3h.01M1565 290.8h.01M1569 291.3h.01M1573 291.6h.01M1577 288.9h.01M1581 289.8h.01M1585 290.6h.01M1589 291.3h.01M1593 292h.01M1597 292.5h.01M982.1 165.5h.01M1013.6 190.5h.01M1045.1 203.7h.01M1076.6 210.8h.01M1107.5 215.9h.01M1138.6 221.6h.01M1170.2 225.6h.01M1201.1 228.5h.01M1232.2 231.1h.01M1263.7 235.2h.01M1295.2 237.2h.01M1326.7 239.3h.01M1357.3 241.3h.01M1388.8 243.9h.01M1420.3 246.4h.01M1451.3 248.1h.01M1482.8 249.8h.01M1514.3 251.5h.01M1545.5 253.2h.01M1576.6 255.8h.01M1608.1 258.4h.01" stroke="#4fb5f2" stroke-width="20.4" stroke-linecap="round" fill="none"/>
<path d="M985 302.8h.01M989 303.5h.01M993 304h.01M997 304.3h.01M1001 302.7h.01M1005 299.9h.01M1009 296.7h.01M1013 294.1h.01M1017 290.5h.01M1021 290.4h.01M1025 290.2h.01M1029 290h.01M1033 289.8h.01M1037 289.5h.01M1041 289.1h.01M1045 285.8h.01M1049 286.1h.01M1053 286.3h.01M1057 286.6h.01M1061 286.7h.01M1065 286.9h.01M1069 287h.01M1073 287h.01M1077 284.2h.01M1081 284.9h.01M1085 285.6h.01M1089 286.1h.01M1093 286.6h.01M1097 287h.01M1101 287.4h.01M1105 287.6h.01M1109 285.2h.01M1113 286h.01M1117 286.8h.01M1121 287.5h.01M1125 288.1h.01M1129 288.7h.01M1133 289.1h.01M1137 289.5h.01M1141 287.2h.01M1145 288.1h.01M1149 288.9h.01M1153 289.7h.01M1157 290.3h.01M1161 290.8h.01M1165 291.2h.01M1169 291.6h.01M1173 289.4h.01M1177 290.2h.01M1181 291h.01M1185 291.7h.01M1189 292.2h.01M1193 292.7h.01M1197 293.1h.01M1201 293.3h.01M1205 291.3h.01M1209 292.1h.01M1213 292.9h.01M1217 293.5h.01M1221 294.1h.01M1225 294.5h.01M1229 294.9h.01M1233 292.3h.01M1237 293.2h.01M1241 294.1h.01M1245 294.8h.01M1249 295.5h.01M1253 296h.01M1257 296.5h.01M1261 296.9h.01M1265 294.4h.01M1269 295.4h.01M1273 296.2h.01M1277 297h.01M1281 297.7h.01M1285 298.3h.01M1289 298.8h.01M1293 299.2h.01M1297 297h.01M1301 298h.01M1305 299h.01M1309 299.8h.01M1313 300.6h.01M1317 301.2h.01M1321 301.7h.01M1325 302.2h.01M1329 300h.01M1333 300.9h.01M1337 301.8h.01M1341 302.5h.01M1345 303h.01M1349 303.5h.01M1353 303.9h.01M1357 304.2h.01M1361 302h.01M1365 302.8h.01M1369 303.5h.01M1373 304.1h.01M1377 304.7h.01M1381 305.1h.01M1385 305.4h.01M1389 302.6h.01M1393 303.5h.01M1397 304.2h.01M1401 304.9h.01M1405 305.5h.01M1409 305.9h.01M1413 306.3h.01M1417 306.6h.01M1421 303.9h.01M1425 304.8h.01M1429 305.5h.01M1433 306.1h.01M1437 306.7h.01M1441 307.1h.01M1445 307.5h.01M1449 307.7h.01M1453 305.2h.01M1457 306h.01M1461 306.8h.01M1465 307.4h.01M1469 308h.01M1473 308.4h.01M1477 308.8h.01M1481 309h.01M1485 306.6h.01M1489 307.5h.01M1493 308.2h.01M1497 308.9h.01M1501 309.4h.01M1505 309.9h.01M1509 310.2h.01M1513 310.5h.01M1517 308.2h.01M1521 309h.01M1525 309.8h.01M1529 310.4h.01M1533 310.9h.01M1537 311.4h.01M1541 311.7h.01M1545 312h.01M1549 309.8h.01M1553 310.6h.01M1557 311.3h.01M1561 312h.01M1565 312.5h.01M1569 312.9h.01M1573 313.3h.01M1577 310.6h.01M1581 311.5h.01M1585 312.3h.01M1589 313h.01M1593 313.6h.01M1597 314.1h.01M1601 314.5h.01M1605 314.8h.01M1609 312.3h.01M1613 313.2h.01M1617 314h.01M1621 314.7h.01M1625 315.3h.01M1629 315.8h.01M1633 316.2h.01M982.1 204.7h.01M1013.6 223h.01M1045.1 231.7h.01M1076.6 237.2h.01M1107.5 241.3h.01M1138.6 246h.01M1170.2 249.4h.01M1201.1 252.5h.01M1232.2 255.5h.01M1263.7 259.6h.01M1295.2 261.6h.01M1326.7 263.7h.01M1357.3 265.2h.01M1388.8 267.7h.01M1420.3 269.5h.01M1451.3 271.5h.01M1482.8 272.8h.01M1514.3 273.7h.01M1545.5 275.2h.01M1576.6 276.8h.01M1608.1 279.6h.01" stroke="#ade0fb" stroke-width="20.4" stroke-linecap="round" fill="none"/>
<path d="M176 643.5h.01M176 653.5h.01M177.8 651.7h.01M177.8 661.6h.01M179.6 655.5h.01M179.6 665.3h.01M181.4 658.6h.01M181.4 668.2h.01M183.2 661.3h.01M183.2 670.9h.01M185 663.8h.01M185 673.2h.01M186.8 666.1h.01M186.8 675.4h.01M188.6 668.2h.01M188.6 677.5h.01M190.4 670.3h.01M190.4 679.4h.01M192.2 672.3h.01M192.2 681.3h.01M194 674.2h.01M194 683.1h.01M195.8 676h.01M195.8 684.8h.01M197.6 677.8h.01M197.6 686.5h.01M199.4 679.5h.01M199.4 688.2h.01M201.2 681.2h.01M201.2 689.8h.01M203 682.9h.01M203 691.3h.01M204.8 684.5h.01M204.8 692.8h.01M206.6 686.1h.01M206.6 694.3h.01M208.4 687.6h.01M208.4 695.8h.01M210.2 689.1h.01M210.2 697.2h.01M212 690.6h.01M212 698.6h.01M213.8 692.1h.01M213.8 700h.01M215.6 693.6h.01M215.6 701.4h.01M217.4 695h.01M217.4 702.7h.01M219.2 696.4h.01M219.2 704h.01M221 697.7h.01M221 705.3h.01M222.8 699.1h.01M222.8 706.5h.01M224.6 700.4h.01M224.6 707.8h.01M226.4 701.7h.01M226.4 709h.01M228.2 703h.01M228.2 710.2h.01M230 704.3h.01M230 711.5h.01M231.8 705.6h.01M231.8 712.7h.01M233.6 706.9h.01M233.6 713.9h.01M235.4 708.2h.01M235.4 715.1h.01M237.2 709.5h.01M237.2 716.3h.01M239 710.8h.01M239 717.5h.01M240.8 712.1h.01M240.8 718.7h.01M242.6 713.4h.01M242.6 720h.01M244.4 714.7h.01M244.4 721.3h.01M246.2 716.1h.01M246.2 722.6h.01M248 717.6h.01M248 723.9h.01M249.8 719h.01M249.8 725.3h.01M251.6 720.5h.01M251.6 726.7h.01M253.4 722h.01M253.4 728.2h.01M255.2 723.5h.01M255.2 729.6h.01M257 725h.01M257 731h.01M258.8 726.5h.01M258.8 732.5h.01M260.6 728h.01M260.6 733.9h.01M262.4 729.4h.01M262.4 735.2h.01M264.2 730.8h.01M264.2 736.6h.01M266 732.2h.01M266 737.9h.01M267.8 733.5h.01M267.8 739.2h.01M269.6 734.8h.01M269.6 740.4h.01M271.4 736.1h.01M271.4 741.6h.01M273.2 737.3h.01M273.2 742.7h.01M275 738.5h.01M275 743.8h.01M276.8 739.6h.01M276.8 744.9h.01M278.6 740.8h.01M278.6 746h.01M280.4 741.9h.01M280.4 747.1h.01M282.2 743h.01M282.2 748.2h.01M284 744.1h.01M284 749.2h.01M285.8 745.2h.01M285.8 750.2h.01M287.6 746.3h.01M287.6 751.3h.01M289.4 747.3h.01M289.4 752.3h.01M291.2 748.4h.01M291.2 753.3h.01M293 749.4h.01M293 754.3h.01M294.8 750.5h.01M294.8 755.2h.01M296.6 751.5h.01M296.6 756.2h.01M298.4 752.6h.01M298.4 757.2h.01M300.2 753.6h.01M300.2 758.2h.01M302 754.6h.01M302 759.2h.01M303.8 755.6h.01M303.8 760.1h.01M305.6 756.7h.01M305.6 761.1h.01M307.4 757.7h.01M307.4 762.1h.01M309.2 758.7h.01M309.2 763.1h.01M311 759.8h.01M311 764.1h.01M312.8 760.8h.01M312.8 765.1h.01M314.6 761.9h.01M314.6 766.1h.01M316.4 763h.01M316.4 767.1h.01M318.2 764h.01M318.2 768.2h.01M320 765.1h.01M320 769.2h.01M321.8 766.2h.01M321.8 770.3h.01M323.6 767.4h.01M323.6 771.3h.01M325.4 768.5h.01M325.4 772.4h.01M327.2 769.6h.01M327.2 773.5h.01M329 770.8h.01M329 774.6h.01M330.8 771.9h.01M330.8 775.7h.01M332.6 773.1h.01M332.6 776.8h.01M334.4 774.2h.01M334.4 777.9h.01M336.2 775.4h.01M336.2 779.1h.01M338 776.5h.01M338 780.2h.01M339.8 777.7h.01M339.8 781.3h.01M341.6 778.8h.01M341.6 782.4h.01M343.4 779.9h.01M343.4 783.5h.01M345.2 781.1h.01M345.2 784.5h.01M347 782.2h.01M347 785.6h.01M348.8 783.3h.01M348.8 786.7h.01M350.6 784.4h.01M350.6 787.7h.01M352.4 785.4h.01M352.4 788.7h.01M354.2 786.5h.01M354.2 789.8h.01M356 787.5h.01M356 790.7h.01M357.8 788.5h.01M357.8 791.7h.01M359.6 789.5h.01M359.6 792.7h.01M361.4 790.5h.01M361.4 793.6h.01M363.2 791.4h.01M363.2 794.5h.01M365 792.3h.01M365 795.4h.01M366.8 793.2h.01M366.8 796.3h.01M368.6 794.2h.01M368.6 797.2h.01M370.4 795h.01M370.4 798h.01M372.2 795.9h.01M372.2 798.9h.01M374 796.8h.01M374 799.7h.01M375.8 797.7h.01M375.8 800.6h.01M377.6 798.5h.01M377.6 801.4h.01M379.4 799.4h.01M379.4 802.2h.01M381.2 800.3h.01M381.2 803h.01M383 801.1h.01M383 803.8h.01M384.8 801.9h.01M384.8 804.6h.01M386.6 802.8h.01M386.6 805.4h.01M388.4 803.6h.01M388.4 806.2h.01M390.2 804.4h.01M390.2 807h.01M392 805.2h.01M392 807.8h.01M393.8 806h.01M393.8 808.6h.01M395.6 806.8h.01M395.6 809.3h.01M397.4 807.6h.01M397.4 810.1h.01M399.2 808.4h.01M399.2 810.9h.01M401 809.2h.01M401 811.7h.01M402.8 810h.01M402.8 812.4h.01M404.6 810.8h.01M404.6 813.2h.01M406.4 811.6h.01M406.4 813.9h.01M408.2 812.4h.01M408.2 814.7h.01M410 813.2h.01M410 815.5h.01M411.8 813.9h.01M411.8 816.2h.01M413.6 814.7h.01M413.6 817h.01M415.4 815.5h.01M415.4 817.8h.01M417.2 816.3h.01M417.2 818.5h.01M419 817.1h.01M419 819.3h.01M420.8 817.9h.01M420.8 820.1h.01M422.6 818.7h.01M422.6 820.8h.01M424.4 819.4h.01M424.4 821.6h.01M426.2 820.2h.01M426.2 822.3h.01M428 821h.01M428 823.1h.01M429.8 821.8h.01M429.8 823.8h.01M431.6 822.5h.01M431.6 824.5h.01M433.4 823.3h.01M433.4 825.3h.01M435.2 824h.01M435.2 826h.01M437 824.8h.01M437 826.7h.01M438.8 825.5h.01M438.8 827.5h.01M440.6 826.3h.01M440.6 828.2h.01M442.4 827h.01M442.4 828.9h.01M444.2 827.8h.01M444.2 829.6h.01M446 828.5h.01M446 830.3h.01M447.8 829.2h.01M447.8 831.1h.01M449.6 830h.01M449.6 831.8h.01M451.4 830.7h.01M451.4 832.5h.01M453.2 831.4h.01M453.2 833.2h.01M455 832.1h.01M455 833.9h.01M456.8 832.9h.01M456.8 834.6h.01M458.6 833.6h.01M458.6 835.3h.01M460.4 834.3h.01M460.4 836h.01M462.2 835h.01M462.2 836.7h.01M464 835.7h.01M464 837.4h.01M465.8 836.4h.01M465.8 838.1h.01M467.6 837.2h.01M467.6 838.8h.01M469.4 837.9h.01M469.4 839.5h.01M471.2 838.6h.01M471.2 840.2h.01M473 839.3h.01M473 840.9h.01M474.8 840h.01M474.8 841.6h.01M476.6 840.7h.01M476.6 842.2h.01M478.4 841.4h.01M478.4 842.9h.01M480.2 842.1h.01M480.2 843.6h.01M482 842.8h.01M482 844.3h.01M483.8 843.6h.01M483.8 845h.01M485.6 844.3h.01M485.6 845.7h.01M487.4 845h.01M487.4 846.4h.01M489.2 845.7h.01M489.2 847.1h.01M491 846.4h.01M491 847.8h.01M492.8 847.1h.01M492.8 848.5h.01M494.6 847.8h.01M494.6 849.2h.01M496.4 848.5h.01M496.4 849.9h.01M498.2 849.2h.01M498.2 850.6h.01M500 850h.01M500 851.3h.01M501.8 850.7h.01M501.8 852h.01M503.6 851.4h.01M503.6 852.7h.01M505.4 852.1h.01M505.4 853.4h.01M507.2 852.8h.01M507.2 854.1h.01M509 853.6h.01M509 854.8h.01M510.8 854.3h.01M510.8 855.5h.01M512.6 855h.01M512.6 856.2h.01M514.4 855.7h.01M514.4 857h.01M516.2 856.5h.01M516.2 857.7h.01M518 857.2h.01M518 858.4h.01M519.8 857.9h.01M519.8 859.1h.01M521.6 858.7h.01M521.6 859.8h.01M523.4 859.4h.01M523.4 860.6h.01M525.2 860.2h.01M525.2 861.3h.01M527 860.9h.01M527 862.1h.01M528.8 861.7h.01M528.8 862.8h.01M530.6 862.5h.01M530.6 863.6h.01M532.4 863.3h.01M532.4 864.3h.01M534.2 864h.01M534.2 865.1h.01M536 864.8h.01M536 865.9h.01M537.8 865.6h.01M537.8 866.7h.01M539.6 866.4h.01M539.6 867.4h.01M541.4 867.2h.01M541.4 868.2h.01M543.2 868h.01M543.2 869h.01M545 868.8h.01M545 869.8h.01M546.8 869.6h.01M546.8 870.6h.01M548.6 870.5h.01M548.6 871.4h.01M550.4 871.3h.01M550.4 872.2h.01M552.2 872.1h.01M552.2 873h.01M554 872.9h.01M554 873.9h.01M555.8 873.7h.01M555.8 874.7h.01M557.6 874.6h.01M557.6 875.5h.01M559.4 875.4h.01M559.4 876.3h.01M561.2 876.2h.01M561.2 877.1h.01M563 877.1h.01M563 878h.01M564.8 877.9h.01M564.8 878.8h.01M566.6 878.8h.01M566.6 879.6h.01M568.4 879.6h.01M568.4 880.5h.01M570.2 880.5h.01M570.2 881.3h.01M572 881.3h.01M572 882.1h.01M573.8 882.1h.01M573.8 883h.01M575.6 883h.01M575.6 883.8h.01M577.4 883.8h.01M577.4 884.7h.01M579.2 884.7h.01M579.2 885.5h.01M581 885.5h.01M581 886.3h.01M582.8 886.4h.01M582.8 887.2h.01M584.6 887.2h.01M584.6 888h.01M586.4 888.1h.01M586.4 888.8h.01M588.2 888.9h.01M588.2 889.7h.01M590 889.8h.01M590 890.5h.01M591.8 890.6h.01M591.8 891.4h.01M593.6 891.5h.01M593.6 892.2h.01M595.4 892.3h.01M595.4 893h.01M597.2 893.1h.01M597.2 893.9h.01M599 894h.01M599 894.7h.01M600.8 894.8h.01M600.8 895.5h.01M602.6 895.6h.01M602.6 896.3h.01M604.4 896.5h.01M604.4 897.2h.01M606.2 897.3h.01M606.2 898h.01M608 898.1h.01M608 898.8h.01M609.8 899h.01M609.8 899.6h.01M611.6 899.8h.01M611.6 900.4h.01M613.4 900.6h.01M613.4 901.2h.01M615.2 901.4h.01M615.2 902.1h.01M617 902.2h.01M617 902.9h.01M618.8 903h.01M618.8 903.7h.01M620.6 903.8h.01M620.6 904.4h.01M622.4 904.6h.01M622.4 905.2h.01M624.2 905.4h.01M624.2 906h.01M626 906.2h.01M626 906.8h.01M627.8 907h.01M627.8 907.6h.01M629.6 907.8h.01M629.6 908.4h.01M631.4 908.5h.01M631.4 909.1h.01M633.2 909.3h.01M633.2 909.9h.01M635 910.1h.01M635 910.6h.01M636.8 910.8h.01M636.8 911.4h.01M638.6 911.6h.01M638.6 912.1h.01M640.4 912.3h.01M640.4 912.9h.01M642.2 913.1h.01M642.2 913.6h.01M644 913.8h.01M644 914.3h.01M645.8 914.5h.01M645.8 915.1h.01M647.6 915.3h.01M647.6 915.8h.01M649.4 916h.01M649.4 916.5h.01M651.2 916.7h.01M651.2 917.2h.01M653 917.4h.01M653 917.9h.01M654.8 918.1h.01M654.8 918.6h.01M656.6 918.8h.01M656.6 919.3h.01M658.4 919.5h.01M658.4 920h.01M660.2 920.2h.01M660.2 920.7h.01M662 920.9h.01M662 921.4h.01M663.8 921.6h.01M663.8 922.1h.01M665.6 922.3h.01M665.6 922.8h.01M667.4 923h.01M667.4 923.5h.01M669.2 923.7h.01M669.2 924.1h.01M671 924.4h.01M671 924.8h.01M672.8 925.1h.01M672.8 925.5h.01M674.6 925.7h.01M674.6 926.2h.01M676.4 926.4h.01M676.4 926.9h.01M678.2 927.1h.01M678.2 927.5h.01M680 927.8h.01M680 928.2h.01M681.8 928.5h.01M681.8 928.9h.01M683.6 929.1h.01M683.6 929.5h.01M685.4 929.8h.01M685.4 930.2h.01M687.2 930.5h.01M687.2 930.9h.01M689 931.2h.01M689 931.6h.01M690.8 931.8h.01M690.8 932.2h.01M692.6 932.5h.01M692.6 932.9h.01M694.4 933.2h.01M694.4 933.6h.01M696.2 933.9h.01M696.2 934.3h.01M698 934.5h.01M698 934.9h.01M699.8 935.2h.01M699.8 935.6h.01M701.6 935.9h.01M701.6 936.3h.01M703.4 936.6h.01M703.4 937h.01M705.2 937.3h.01M705.2 937.6h.01M707 938h.01M707 938.3h.01M708.8 938.7h.01M708.8 939h.01M710.6 939.3h.01M710.6 939.7h.01M712.4 940h.01M712.4 940.4h.01M714.2 940.7h.01M714.2 941.1h.01M716 941.4h.01M716 941.8h.01M717.8 942.1h.01M717.8 942.5h.01M719.6 942.8h.01M719.6 943.2h.01M721.4 943.5h.01M721.4 943.9h.01M723.2 944.3h.01M723.2 944.6h.01M725 945h.01M725 945.3h.01M726.8 945.7h.01M726.8 946h.01M728.6 946.4h.01M728.6 946.7h.01M730.4 947.1h.01M730.4 947.5h.01M732.2 947.9h.01M732.2 948.2h.01M734 948.6h.01M734 948.9h.01M735.8 949.3h.01M735.8 949.6h.01M737.6 950.1h.01M737.6 950.4h.01M739.4 950.8h.01M739.4 951.1h.01M741.2 951.6h.01M741.2 951.9h.01M743 952.3h.01M743 952.6h.01M744.8 953.1h.01M744.8 953.4h.01M746.6 953.8h.01M746.6 954.1h.01M748.4 954.6h.01M748.4 954.9h.01M750.2 955.3h.01M750.2 955.6h.01M752 956.1h.01M752 956.4h.01M753.8 956.9h.01M753.8 957.1h.01M755.6 957.6h.01M755.6 957.9h.01M757.4 958.4h.01M757.4 958.7h.01M759.2 959.2h.01M759.2 959.4h.01M761 959.9h.01M761 960.2h.01M762.8 960.7h.01M762.8 961h.01M764.6 961.5h.01M764.6 961.7h.01M766.4 962.3h.01M766.4 962.5h.01M768.2 963.1h.01M768.2 963.3h.01M770 963.8h.01M770 964.1h.01M771.8 964.6h.01M771.8 964.9h.01M773.6 965.4h.01M773.6 965.7h.01M775.4 966.2h.01M775.4 966.4h.01M777.2 967h.01M777.2 967.2h.01M779 967.8h.01M779 968h.01M780.8 968.6h.01M780.8 968.8h.01M782.6 969.4h.01M782.6 969.6h.01M784.4 970.2h.01M784.4 970.4h.01M786.2 971h.01M786.2 971.2h.01M788 971.8h.01M788 972h.01M789.8 972.6h.01M789.8 972.8h.01M791.6 973.4h.01M791.6 973.7h.01M793.4 974.3h.01M793.4 974.5h.01M795.2 975.1h.01M795.2 975.3h.01M797 975.9h.01M797 976.1h.01M798.8 976.7h.01M798.8 976.9h.01M800.6 977.5h.01M800.6 977.7h.01M802.4 978.4h.01M802.4 978.6h.01M804.2 979.2h.01M804.2 979.4h.01M806 980h.01M806 980.2h.01M807.8 980.8h.01M807.8 981h.01M809.6 981.7h.01M809.6 981.9h.01M811.4 982.5h.01M811.4 982.7h.01M813.2 983.3h.01M813.2 983.5h.01M815 984.2h.01M815 984.4h.01M816.8 985h.01M816.8 985.2h.01M818.6 985.9h.01M818.6 986h.01M820.4 986.7h.01M820.4 986.9h.01M822.2 987.6h.01M822.2 987.7h.01M824 988.4h.01M824 988.6h.01M825.8 989.3h.01M825.8 989.4h.01M827.6 990.2h.01M827.6 990.3h.01M829.4 991.1h.01M829.4 991.2h.01M831.2 992h.01M831.2 992.1h.01M833 992.9h.01M833 993.1h.01M834.8 993.8h.01M834.8 994h.01M836.6 994.8h.01M836.6 994.9h.01M838.4 995.7h.01M838.4 995.8h.01M269.1 703h.01M361 747.1h.01M454.2 782h.01M821.7 847.7h.01" stroke="#0a3a58" stroke-width="20.4" stroke-linecap="round" fill="none"/>
<path d="M176 643.5h.01M176 653.5h.01M177.8 651.6h.01M177.8 661.4h.01M179.6 655.3h.01M179.6 665h.01M181.4 658.2h.01M181.4 667.9h.01M183.2 660.8h.01M183.2 670.4h.01M185 663.2h.01M185 672.7h.01M186.8 665.4h.01M186.8 674.7h.01M188.6 667.5h.01M188.6 676.7h.01M190.4 669.4h.01M190.4 678.5h.01M192.2 671.3h.01M192.2 680.3h.01M194 673.1h.01M194 682h.01M195.8 674.8h.01M195.8 683.6h.01M197.6 676.4h.01M197.6 685.2h.01M199.4 678.1h.01M199.4 686.7h.01M201.2 679.6h.01M201.2 688.2h.01M203 681.2h.01M203 689.6h.01M204.8 682.7h.01M204.8 691h.01M206.6 684.1h.01M206.6 692.4h.01M208.4 685.6h.01M208.4 693.7h.01M210.2 687h.01M210.2 695.1h.01M212 688.4h.01M212 696.3h.01M213.8 689.7h.01M213.8 697.6h.01M215.6 691.1h.01M215.6 698.9h.01M217.4 692.4h.01M217.4 700.1h.01M219.2 693.7h.01M219.2 701.3h.01M221 694.9h.01M221 702.5h.01M222.8 696.2h.01M222.8 703.7h.01M224.6 697.4h.01M224.6 704.8h.01M226.4 698.6h.01M226.4 705.9h.01M228.2 699.9h.01M228.2 707.1h.01M230 701h.01M230 708.2h.01M231.8 702.2h.01M231.8 709.3h.01M233.6 703.4h.01M233.6 710.4h.01M235.4 704.5h.01M235.4 711.4h.01M237.2 705.7h.01M237.2 712.5h.01M239 706.8h.01M239 713.5h.01M240.8 707.9h.01M240.8 714.6h.01M242.6 709h.01M242.6 715.6h.01M244.4 710.1h.01M244.4 716.6h.01M246.2 711.2h.01M246.2 717.6h.01M248 712.3h.01M248 718.6h.01M249.8 713.3h.01M249.8 719.6h.01M251.6 714.4h.01M251.6 720.6h.01M253.4 715.4h.01M253.4 721.6h.01M255.2 716.4h.01M255.2 722.5h.01M257 717.5h.01M257 723.5h.01M258.8 718.5h.01M258.8 724.4h.01M260.6 719.5h.01M260.6 725.4h.01M262.4 720.5h.01M262.4 726.3h.01M264.2 721.5h.01M264.2 727.2h.01M266 722.5h.01M266 728.1h.01M267.8 723.4h.01M267.8 729.1h.01M269.6 724.4h.01M269.6 730h.01M271.4 725.4h.01M271.4 730.9h.01M273.2 726.3h.01M273.2 731.8h.01M275 727.2h.01M275 732.6h.01M276.8 728.2h.01M276.8 733.5h.01M278.6 729.1h.01M278.6 734.4h.01M280.4 730h.01M280.4 735.2h.01M282.2 730.9h.01M282.2 736.1h.01M284 731.9h.01M284 736.9h.01M285.8 732.8h.01M285.8 737.8h.01M287.6 733.6h.01M287.6 738.6h.01M289.4 734.5h.01M289.4 739.5h.01M291.2 735.4h.01M291.2 740.3h.01M293 736.3h.01M293 741.1h.01M294.8 737.2h.01M294.8 741.9h.01M296.6 738h.01M296.6 742.7h.01M298.4 738.9h.01M298.4 743.5h.01M300.2 739.7h.01M300.2 744.3h.01M302 740.6h.01M302 745.1h.01M303.8 741.4h.01M303.8 745.9h.01M305.6 742.3h.01M305.6 746.7h.01M307.4 743.1h.01M307.4 747.5h.01M309.2 743.9h.01M309.2 748.3h.01M311 744.7h.01M311 749h.01M312.8 745.6h.01M312.8 749.8h.01M314.6 746.4h.01M314.6 750.6h.01M316.4 747.2h.01M316.4 751.3h.01M318.2 748h.01M318.2 752.1h.01M320 748.8h.01M320 752.9h.01M321.8 749.6h.01M321.8 753.6h.01M323.6 750.4h.01M323.6 754.4h.01M325.4 751.2h.01M325.4 755.1h.01M327.2 752h.01M327.2 755.9h.01M329 752.8h.01M329 756.6h.01M330.8 753.5h.01M330.8 757.3h.01M332.6 754.3h.01M332.6 758.1h.01M334.4 755.1h.01M334.4 758.8h.01M336.2 755.9h.01M336.2 759.5h.01M338 756.6h.01M338 760.3h.01M339.8 757.4h.01M339.8 761h.01M341.6 758.2h.01M341.6 761.7h.01M343.4 758.9h.01M343.4 762.5h.01M345.2 759.7h.01M345.2 763.2h.01M347 760.5h.01M347 763.9h.01M348.8 761.2h.01M348.8 764.6h.01M350.6 762h.01M350.6 765.3h.01M352.4 762.7h.01M352.4 766h.01M354.2 763.5h.01M354.2 766.8h.01M356 764.2h.01M356 767.5h.01M357.8 765h.01M357.8 768.2h.01M359.6 765.7h.01M359.6 768.9h.01M361.4 766.5h.01M361.4 769.6h.01M363.2 767.2h.01M363.2 770.3h.01M365 768h.01M365 771h.01M366.8 768.7h.01M366.8 771.7h.01M368.6 769.5h.01M368.6 772.5h.01M370.4 770.2h.01M370.4 773.2h.01M372.2 771h.01M372.2 773.9h.01M374 771.7h.01M374 774.6h.01M375.8 772.5h.01M375.8 775.3h.01M377.6 773.2h.01M377.6 776.1h.01M379.4 774h.01M379.4 776.8h.01M381.2 774.7h.01M381.2 777.5h.01M383 775.5h.01M383 778.2h.01M384.8 776.2h.01M384.8 779h.01M386.6 777h.01M386.6 779.7h.01M388.4 777.8h.01M388.4 780.4h.01M390.2 778.5h.01M390.2 781.1h.01M392 779.3h.01M392 781.9h.01M393.8 780h.01M393.8 782.6h.01M395.6 780.8h.01M395.6 783.3h.01M397.4 781.6h.01M397.4 784.1h.01M399.2 782.3h.01M399.2 784.8h.01M401 783.1h.01M401 785.5h.01M402.8 783.8h.01M402.8 786.3h.01M404.6 784.6h.01M404.6 787h.01M406.4 785.4h.01M406.4 787.7h.01M408.2 786.1h.01M408.2 788.5h.01M410 786.9h.01M410 789.2h.01M411.8 787.6h.01M411.8 789.9h.01M413.6 788.4h.01M413.6 790.6h.01M415.4 789.1h.01M415.4 791.4h.01M417.2 789.9h.01M417.2 792.1h.01M419 790.6h.01M419 792.8h.01M420.8 791.4h.01M420.8 793.6h.01M422.6 792.1h.01M422.6 794.3h.01M424.4 792.9h.01M424.4 795h.01M426.2 793.6h.01M426.2 795.7h.01M428 794.4h.01M428 796.4h.01M429.8 795.1h.01M429.8 797.2h.01M431.6 795.9h.01M431.6 797.9h.01M433.4 796.6h.01M433.4 798.6h.01M435.2 797.3h.01M435.2 799.3h.01M437 798.1h.01M437 800h.01M438.8 798.8h.01M438.8 800.7h.01M440.6 799.5h.01M440.6 801.4h.01M442.4 800.3h.01M442.4 802.1h.01M444.2 801h.01M444.2 802.9h.01M446 801.7h.01M446 803.6h.01M447.8 802.4h.01M447.8 804.3h.01M449.6 803.1h.01M449.6 805h.01M451.4 803.9h.01M451.4 805.6h.01M453.2 804.6h.01M453.2 806.3h.01M455 805.3h.01M455 807.1h.01M456.8 806h.01M456.8 807.8h.01M458.6 806.8h.01M458.6 808.5h.01M460.4 807.5h.01M460.4 809.2h.01M462.2 808.3h.01M462.2 809.9h.01M464 809h.01M464 810.7h.01M465.8 809.8h.01M465.8 811.4h.01M467.6 810.5h.01M467.6 812.1h.01M469.4 811.3h.01M469.4 812.9h.01M471.2 812h.01M471.2 813.6h.01M473 812.8h.01M473 814.3h.01M474.8 813.5h.01M474.8 815.1h.01M476.6 814.3h.01M476.6 815.8h.01M478.4 815h.01M478.4 816.5h.01M480.2 815.8h.01M480.2 817.3h.01M482 816.5h.01M482 818h.01M483.8 817.3h.01M483.8 818.7h.01M485.6 818h.01M485.6 819.5h.01M487.4 818.8h.01M487.4 820.2h.01M489.2 819.5h.01M489.2 820.9h.01M491 820.2h.01M491 821.6h.01M492.8 821h.01M492.8 822.3h.01M494.6 821.7h.01M494.6 823h.01M496.4 822.4h.01M496.4 823.7h.01M498.2 823.1h.01M498.2 824.4h.01M500 823.8h.01M500 825.1h.01M501.8 824.5h.01M501.8 825.8h.01M503.6 825.2h.01M503.6 826.5h.01M505.4 825.9h.01M505.4 827.2h.01M507.2 826.5h.01M507.2 827.8h.01M509 827.2h.01M509 828.5h.01M510.8 827.9h.01M510.8 829.1h.01M512.6 828.5h.01M512.6 829.7h.01M514.4 829.1h.01M514.4 830.3h.01M516.2 829.8h.01M516.2 831h.01M518 830.4h.01M518 831.5h.01M519.8 831h.01M519.8 832.1h.01M521.6 831.6h.01M521.6 832.7h.01M523.4 832.1h.01M523.4 833.3h.01M525.2 832.7h.01M525.2 833.8h.01M527 833.3h.01M527 834.4h.01M528.8 833.9h.01M528.8 835h.01M530.6 834.4h.01M530.6 835.5h.01M532.4 835h.01M532.4 836.1h.01M534.2 835.6h.01M534.2 836.6h.01M536 836.1h.01M536 837.2h.01M537.8 836.7h.01M537.8 837.7h.01M539.6 837.2h.01M539.6 838.3h.01M541.4 837.8h.01M541.4 838.8h.01M543.2 838.3h.01M543.2 839.3h.01M545 838.9h.01M545 839.8h.01M546.8 839.4h.01M546.8 840.4h.01M548.6 839.9h.01M548.6 840.9h.01M550.4 840.5h.01M550.4 841.4h.01M552.2 841h.01M552.2 841.9h.01M554 841.5h.01M554 842.4h.01M555.8 842h.01M555.8 843h.01M557.6 842.5h.01M557.6 843.5h.01M559.4 843.1h.01M559.4 844h.01M561.2 843.6h.01M561.2 844.5h.01M563 844.1h.01M563 845h.01M564.8 844.6h.01M564.8 845.5h.01M566.6 845.1h.01M566.6 846h.01M568.4 845.6h.01M568.4 846.5h.01M570.2 846.1h.01M570.2 846.9h.01M572 846.6h.01M572 847.4h.01M573.8 847.1h.01M573.8 847.9h.01M575.6 847.6h.01M575.6 848.4h.01M577.4 848.1h.01M577.4 848.9h.01M579.2 848.5h.01M579.2 849.3h.01M581 849h.01M581 849.8h.01M582.8 849.5h.01M582.8 850.3h.01M584.6 850h.01M584.6 850.8h.01M586.4 850.4h.01M586.4 851.2h.01M588.2 850.9h.01M588.2 851.7h.01M590 851.4h.01M590 852.1h.01M591.8 851.9h.01M591.8 852.6h.01M593.6 852.3h.01M593.6 853.1h.01M595.4 852.8h.01M595.4 853.5h.01M597.2 853.2h.01M597.2 854h.01M599 853.7h.01M599 854.4h.01M600.8 854.2h.01M600.8 854.9h.01M602.6 854.6h.01M602.6 855.3h.01M604.4 855.1h.01M604.4 855.8h.01M606.2 855.5h.01M606.2 856.2h.01M608 856h.01M608 856.6h.01M609.8 856.4h.01M609.8 857.1h.01M611.6 856.9h.01M611.6 857.5h.01M613.4 857.3h.01M613.4 858h.01M615.2 857.8h.01M615.2 858.4h.01M617 858.2h.01M617 858.8h.01M618.8 858.6h.01M618.8 859.3h.01M620.6 859.1h.01M620.6 859.7h.01M622.4 859.5h.01M622.4 860.1h.01M624.2 859.9h.01M624.2 860.5h.01M626 860.4h.01M626 861h.01M627.8 860.8h.01M627.8 861.4h.01M629.6 861.2h.01M629.6 861.8h.01M631.4 861.7h.01M631.4 862.2h.01M633.2 862.1h.01M633.2 862.7h.01M635 862.5h.01M635 863.1h.01M636.8 862.9h.01M636.8 863.5h.01M638.6 863.4h.01M638.6 863.9h.01M640.4 863.8h.01M640.4 864.3h.01M642.2 864.2h.01M642.2 864.8h.01M644 864.6h.01M644 865.2h.01M645.8 865.1h.01M645.8 865.6h.01M647.6 865.5h.01M647.6 866h.01M649.4 865.9h.01M649.4 866.4h.01M651.2 866.3h.01M651.2 866.8h.01M653 866.7h.01M653 867.2h.01M654.8 867.1h.01M654.8 867.6h.01M656.6 867.5h.01M656.6 868h.01M658.4 867.9h.01M658.4 868.4h.01M660.2 868.3h.01M660.2 868.8h.01M662 868.7h.01M662 869.2h.01M663.8 869.1h.01M663.8 869.6h.01M665.6 869.5h.01M665.6 870h.01M667.4 869.9h.01M667.4 870.3h.01M669.2 870.3h.01M669.2 870.7h.01M671 870.6h.01M671 871.1h.01M672.8 871h.01M672.8 871.5h.01M674.6 871.4h.01M674.6 871.9h.01M676.4 871.8h.01M676.4 872.2h.01M678.2 872.2h.01M678.2 872.6h.01M680 872.5h.01M680 873h.01M681.8 872.9h.01M681.8 873.3h.01M683.6 873.3h.01M683.6 873.7h.01M685.4 873.7h.01M685.4 874.1h.01M687.2 874h.01M687.2 874.4h.01M689 874.4h.01M689 874.8h.01M690.8 874.8h.01M690.8 875.2h.01M692.6 875.1h.01M692.6 875.5h.01M694.4 875.5h.01M694.4 875.9h.01M696.2 875.9h.01M696.2 876.3h.01M698 876.2h.01M698 876.6h.01M699.8 876.6h.01M699.8 877h.01M701.6 877h.01M701.6 877.4h.01M703.4 877.3h.01M703.4 877.7h.01M705.2 877.7h.01M705.2 878.1h.01M707 878.1h.01M707 878.4h.01M708.8 878.4h.01M708.8 878.8h.01M710.6 878.8h.01M710.6 879.2h.01M712.4 879.2h.01M712.4 879.5h.01M714.2 879.5h.01M714.2 879.9h.01M716 879.9h.01M716 880.2h.01M717.8 880.3h.01M717.8 880.6h.01M719.6 880.6h.01M719.6 881h.01M721.4 881h.01M721.4 881.3h.01M723.2 881.4h.01M723.2 881.7h.01M725 881.7h.01M725 882.1h.01M726.8 882.1h.01M726.8 882.4h.01M728.6 882.5h.01M728.6 882.8h.01M730.4 882.9h.01M730.4 883.2h.01M732.2 883.2h.01M732.2 883.5h.01M734 883.6h.01M734 883.9h.01M735.8 884h.01M735.8 884.3h.01M737.6 884.3h.01M737.6 884.6h.01M739.4 884.7h.01M739.4 885h.01M741.2 885h.01M741.2 885.3h.01M743 885.4h.01M743 885.7h.01M744.8 885.8h.01M744.8 886.1h.01M746.6 886.1h.01M746.6 886.4h.01M748.4 886.5h.01M748.4 886.8h.01M750.2 886.9h.01M750.2 887.1h.01M752 887.2h.01M752 887.5h.01M753.8 887.6h.01M753.8 887.8h.01M755.6 887.9h.01M755.6 888.2h.01M757.4 888.3h.01M757.4 888.6h.01M759.2 888.7h.01M759.2 888.9h.01M761 889h.01M761 889.3h.01M762.8 889.4h.01M762.8 889.6h.01M764.6 889.8h.01M764.6 890h.01M766.4 890.1h.01M766.4 890.4h.01M768.2 890.5h.01M768.2 890.7h.01M770 890.9h.01M770 891.1h.01M771.8 891.2h.01M771.8 891.5h.01M773.6 891.6h.01M773.6 891.8h.01M775.4 892h.01M775.4 892.2h.01M777.2 892.3h.01M777.2 892.6h.01M779 892.7h.01M779 893h.01M780.8 893.1h.01M780.8 893.3h.01M782.6 893.5h.01M782.6 893.7h.01M784.4 893.9h.01M784.4 894.1h.01M786.2 894.3h.01M786.2 894.5h.01M788 894.7h.01M788 894.9h.01M789.8 895h.01M789.8 895.3h.01M791.6 895.4h.01M791.6 895.7h.01M793.4 895.8h.01M793.4 896.1h.01M795.2 896.2h.01M795.2 896.5h.01M797 896.7h.01M797 896.9h.01M798.8 897.1h.01M798.8 897.3h.01M800.6 897.5h.01M800.6 897.7h.01M802.4 897.9h.01M802.4 898.1h.01M804.2 898.3h.01M804.2 898.5h.01M806 898.8h.01M806 898.9h.01M807.8 899.2h.01M807.8 899.4h.01M809.6 899.6h.01M809.6 899.8h.01M811.4 900.1h.01M811.4 900.3h.01M813.2 900.5h.01M813.2 900.7h.01M815 901h.01M815 901.2h.01M816.8 901.6h.01M816.8 901.7h.01M818.6 902.1h.01M818.6 902.3h.01M820.4 902.7h.01M820.4 902.9h.01M822.2 903.4h.01M822.2 903.5h.01M824 904h.01M824 904.2h.01M825.8 904.7h.01M825.8 904.9h.01M827.6 905.4h.01M827.6 905.5h.01M829.4 906.1h.01M829.4 906.2h.01M831.2 906.7h.01M831.2 906.9h.01M833 907.4h.01M833 907.6h.01M834.8 908.1h.01M834.8 908.3h.01M269.1 699.8h.01M361 740h.01M454.2 765h.01M545 781.9h.01M638 803.9h.01M729.9 825.8h.01M821.7 835h.01" stroke="#1273ae" stroke-width="20.4" stroke-linecap="round" fill="none"/>
<path d="M176 643.5h.01M176 653.5h.01M177.8 651.5h.01M177.8 661.4h.01M179.6 655.2h.01M179.6 665h.01M181.4 658.2h.01M181.4 667.8h.01M183.2 660.7h.01M183.2 670.3h.01M185 663.1h.01M185 672.5h.01M186.8 665.2h.01M186.8 674.6h.01M188.6 667.3h.01M188.6 676.5h.01M190.4 669.2h.01M190.4 678.3h.01M192.2 671h.01M192.2 680.1h.01M194 672.8h.01M194 681.7h.01M195.8 674.5h.01M195.8 683.3h.01M197.6 676.1h.01M197.6 684.9h.01M199.4 677.7h.01M199.4 686.4h.01M201.2 679.3h.01M201.2 687.8h.01M203 680.8h.01M203 689.2h.01M204.8 682.3h.01M204.8 690.6h.01M206.6 683.7h.01M206.6 692h.01M208.4 685.1h.01M208.4 693.3h.01M210.2 686.5h.01M210.2 694.6h.01M212 687.9h.01M212 695.9h.01M213.8 689.2h.01M213.8 697.1h.01M215.6 690.5h.01M215.6 698.3h.01M217.4 691.8h.01M217.4 699.5h.01M219.2 693.1h.01M219.2 700.7h.01M221 694.3h.01M221 701.9h.01M222.8 695.6h.01M222.8 703h.01M224.6 696.8h.01M224.6 704.2h.01M226.4 698h.01M226.4 705.3h.01M228.2 699.2h.01M228.2 706.4h.01M230 700.4h.01M230 707.5h.01M231.8 701.5h.01M231.8 708.6h.01M233.6 702.7h.01M233.6 709.6h.01M235.4 703.8h.01M235.4 710.7h.01M237.2 704.9h.01M237.2 711.7h.01M239 706h.01M239 712.8h.01M240.8 707.1h.01M240.8 713.8h.01M242.6 708.2h.01M242.6 714.8h.01M244.4 709.3h.01M244.4 715.8h.01M246.2 710.4h.01M246.2 716.8h.01M248 711.4h.01M248 717.8h.01M249.8 712.5h.01M249.8 718.8h.01M251.6 713.5h.01M251.6 719.7h.01M253.4 714.5h.01M253.4 720.7h.01M255.2 715.5h.01M255.2 721.6h.01M257 716.6h.01M257 722.6h.01M258.8 717.6h.01M258.8 723.5h.01M260.6 718.5h.01M260.6 724.4h.01M262.4 719.5h.01M262.4 725.4h.01M264.2 720.5h.01M264.2 726.3h.01M266 721.5h.01M266 727.2h.01M267.8 722.4h.01M267.8 728.1h.01M269.6 723.4h.01M269.6 729h.01M271.4 724.3h.01M271.4 729.9h.01M273.2 725.3h.01M273.2 730.7h.01M275 726.2h.01M275 731.6h.01M276.8 727.2h.01M276.8 732.5h.01M278.6 728.1h.01M278.6 733.3h.01M280.4 729h.01M280.4 734.2h.01M282.2 729.9h.01M282.2 735.1h.01M284 730.8h.01M284 735.9h.01M285.8 731.7h.01M285.8 736.7h.01M287.6 732.6h.01M287.6 737.6h.01M289.4 733.5h.01M289.4 738.4h.01M291.2 734.4h.01M291.2 739.3h.01M293 735.3h.01M293 740.1h.01M294.8 736.1h.01M294.8 740.9h.01M296.6 737h.01M296.6 741.7h.01M298.4 737.9h.01M298.4 742.5h.01M300.2 738.7h.01M300.2 743.3h.01M302 739.6h.01M302 744.1h.01M303.8 740.4h.01M303.8 744.9h.01M305.6 741.3h.01M305.6 745.7h.01M307.4 742.1h.01M307.4 746.5h.01M309.2 743h.01M309.2 747.3h.01M311 743.8h.01M311 748.1h.01M312.8 744.6h.01M312.8 748.9h.01M314.6 745.5h.01M314.6 749.7h.01M316.4 746.3h.01M316.4 750.4h.01M318.2 747.1h.01M318.2 751.2h.01M320 747.9h.01M320 752h.01M321.8 748.7h.01M321.8 752.7h.01M323.6 749.5h.01M323.6 753.5h.01M325.4 750.3h.01M325.4 754.2h.01M327.2 751.1h.01M327.2 755h.01M329 751.9h.01M329 755.7h.01M330.8 752.7h.01M330.8 756.5h.01M332.6 753.5h.01M332.6 757.2h.01M334.4 754.2h.01M334.4 758h.01M336.2 755h.01M336.2 758.7h.01M338 755.8h.01M338 759.4h.01M339.8 756.6h.01M339.8 760.1h.01M341.6 757.3h.01M341.6 760.9h.01M343.4 758.1h.01M343.4 761.6h.01M345.2 758.8h.01M345.2 762.3h.01M347 759.6h.01M347 763h.01M348.8 760.3h.01M348.8 763.7h.01M350.6 761.1h.01M350.6 764.4h.01M352.4 761.8h.01M352.4 765.1h.01M354.2 762.6h.01M354.2 765.8h.01M356 763.3h.01M356 766.5h.01M357.8 764h.01M357.8 767.2h.01M359.6 764.7h.01M359.6 767.9h.01M361.4 765.5h.01M361.4 768.6h.01M363.2 766.2h.01M363.2 769.3h.01M365 766.9h.01M365 770h.01M366.8 767.6h.01M366.8 770.7h.01M368.6 768.3h.01M368.6 771.3h.01M370.4 769h.01M370.4 772h.01M372.2 769.7h.01M372.2 772.7h.01M374 770.4h.01M374 773.4h.01M375.8 771.2h.01M375.8 774h.01M377.6 771.9h.01M377.6 774.7h.01M379.4 772.5h.01M379.4 775.4h.01M381.2 773.2h.01M381.2 776h.01M383 773.9h.01M383 776.7h.01M384.8 774.6h.01M384.8 777.3h.01M386.6 775.3h.01M386.6 778h.01M388.4 776h.01M388.4 778.6h.01M390.2 776.7h.01M390.2 779.3h.01M392 777.4h.01M392 779.9h.01M393.8 778h.01M393.8 780.6h.01M395.6 778.7h.01M395.6 781.2h.01M397.4 779.4h.01M397.4 781.9h.01M399.2 780h.01M399.2 782.5h.01M401 780.7h.01M401 783.2h.01M402.8 781.4h.01M402.8 783.8h.01M404.6 782h.01M404.6 784.4h.01M406.4 782.7h.01M406.4 785.1h.01M408.2 783.4h.01M408.2 785.7h.01M410 784h.01M410 786.3h.01M411.8 784.7h.01M411.8 787h.01M413.6 785.3h.01M413.6 787.6h.01M415.4 786h.01M415.4 788.2h.01M417.2 786.6h.01M417.2 788.8h.01M419 787.2h.01M419 789.4h.01M420.8 787.9h.01M420.8 790.1h.01M422.6 788.5h.01M422.6 790.7h.01M424.4 789.2h.01M424.4 791.3h.01M426.2 789.8h.01M426.2 791.9h.01M428 790.4h.01M428 792.5h.01M429.8 791h.01M429.8 793.1h.01M431.6 791.7h.01M431.6 793.7h.01M433.4 792.3h.01M433.4 794.3h.01M435.2 792.9h.01M435.2 794.9h.01M437 793.5h.01M437 795.5h.01M438.8 794.1h.01M438.8 796.1h.01M440.6 794.8h.01M440.6 796.7h.01M442.4 795.4h.01M442.4 797.3h.01M444.2 796h.01M444.2 797.8h.01M446 796.6h.01M446 798.4h.01M447.8 797.2h.01M447.8 799h.01M449.6 797.8h.01M449.6 799.6h.01M451.4 798.4h.01M451.4 800.2h.01M453.2 799h.01M453.2 800.7h.01M455 799.6h.01M455 801.3h.01M456.8 800.1h.01M456.8 801.9h.01M458.6 800.7h.01M458.6 802.4h.01M460.4 801.3h.01M460.4 803h.01M462.2 801.9h.01M462.2 803.6h.01M464 802.5h.01M464 804.1h.01M465.8 803h.01M465.8 804.7h.01M467.6 803.6h.01M467.6 805.2h.01M469.4 804.2h.01M469.4 805.8h.01M471.2 804.8h.01M471.2 806.3h.01M473 805.3h.01M473 806.9h.01M474.8 805.9h.01M474.8 807.4h.01M476.6 806.4h.01M476.6 808h.01M478.4 807h.01M478.4 808.5h.01M480.2 807.5h.01M480.2 809h.01M482 808.1h.01M482 809.6h.01M483.8 808.6h.01M483.8 810.1h.01M485.6 809.2h.01M485.6 810.6h.01M487.4 809.7h.01M487.4 811.2h.01M489.2 810.3h.01M489.2 811.7h.01M491 810.8h.01M491 812.2h.01M492.8 811.3h.01M492.8 812.7h.01M494.6 811.9h.01M494.6 813.2h.01M496.4 812.4h.01M496.4 813.7h.01M498.2 812.9h.01M498.2 814.3h.01M500 813.4h.01M500 814.8h.01M501.8 814h.01M501.8 815.3h.01M503.6 814.5h.01M503.6 815.8h.01M505.4 815h.01M505.4 816.3h.01M507.2 815.5h.01M507.2 816.8h.01M509 816h.01M509 817.2h.01M510.8 816.5h.01M510.8 817.7h.01M512.6 817h.01M512.6 818.2h.01M514.4 817.5h.01M514.4 818.7h.01M516.2 818h.01M516.2 819.2h.01M518 818.5h.01M518 819.7h.01M519.8 819h.01M519.8 820.1h.01M521.6 819.5h.01M521.6 820.6h.01M523.4 819.9h.01M523.4 821.1h.01M525.2 820.4h.01M525.2 821.6h.01M527 820.9h.01M527 822h.01M528.8 821.4h.01M528.8 822.5h.01M530.6 821.8h.01M530.6 822.9h.01M532.4 822.3h.01M532.4 823.4h.01M534.2 822.8h.01M534.2 823.9h.01M536 823.3h.01M536 824.3h.01M537.8 823.7h.01M537.8 824.8h.01M539.6 824.2h.01M539.6 825.2h.01M541.4 824.6h.01M541.4 825.7h.01M543.2 825.1h.01M543.2 826.1h.01M545 825.5h.01M545 826.5h.01M546.8 826h.01M546.8 827h.01M548.6 826.4h.01M548.6 827.4h.01M550.4 826.9h.01M550.4 827.9h.01M552.2 827.3h.01M552.2 828.3h.01M554 827.8h.01M554 828.7h.01M555.8 828.2h.01M555.8 829.1h.01M557.6 828.7h.01M557.6 829.6h.01M559.4 829.1h.01M559.4 830h.01M561.2 829.5h.01M561.2 830.4h.01M563 830h.01M563 830.8h.01M564.8 830.4h.01M564.8 831.3h.01M566.6 830.8h.01M566.6 831.7h.01M568.4 831.2h.01M568.4 832.1h.01M570.2 831.7h.01M570.2 832.5h.01M572 832.1h.01M572 832.9h.01M573.8 832.5h.01M573.8 833.3h.01M575.6 832.9h.01M575.6 833.7h.01M577.4 833.3h.01M577.4 834.1h.01M579.2 833.7h.01M579.2 834.6h.01M581 834.2h.01M581 835h.01M582.8 834.6h.01M582.8 835.4h.01M584.6 835h.01M584.6 835.8h.01M586.4 835.4h.01M586.4 836.2h.01M588.2 835.8h.01M588.2 836.5h.01M590 836.2h.01M590 836.9h.01M591.8 836.6h.01M591.8 837.3h.01M593.6 837h.01M593.6 837.7h.01M595.4 837.4h.01M595.4 838.1h.01M597.2 837.8h.01M597.2 838.5h.01M599 838.2h.01M599 838.9h.01M600.8 838.6h.01M600.8 839.3h.01M602.6 839h.01M602.6 839.7h.01M604.4 839.4h.01M604.4 840h.01M606.2 839.7h.01M606.2 840.4h.01M608 840.1h.01M608 840.8h.01M609.8 840.5h.01M609.8 841.2h.01M611.6 840.9h.01M611.6 841.6h.01M613.4 841.3h.01M613.4 841.9h.01M615.2 841.7h.01M615.2 842.3h.01M617 842h.01M617 842.7h.01M618.8 842.4h.01M618.8 843h.01M620.6 842.8h.01M620.6 843.4h.01M622.4 843.2h.01M622.4 843.8h.01M624.2 843.5h.01M624.2 844.1h.01M626 843.9h.01M626 844.5h.01M627.8 844.3h.01M627.8 844.9h.01M629.6 844.7h.01M629.6 845.2h.01M631.4 845h.01M631.4 845.6h.01M633.2 845.4h.01M633.2 846h.01M635 845.8h.01M635 846.3h.01M636.8 846.1h.01M636.8 846.7h.01M638.6 846.5h.01M638.6 847h.01M640.4 846.8h.01M640.4 847.4h.01M642.2 847.2h.01M642.2 847.7h.01M644 847.6h.01M644 848.1h.01M645.8 847.9h.01M645.8 848.4h.01M647.6 848.3h.01M647.6 848.8h.01M649.4 848.6h.01M649.4 849.1h.01M651.2 849h.01M651.2 849.5h.01M653 849.3h.01M653 849.8h.01M654.8 849.7h.01M654.8 850.2h.01M656.6 850h.01M656.6 850.5h.01M658.4 850.4h.01M658.4 850.9h.01M660.2 850.7h.01M660.2 851.2h.01M662 851.1h.01M662 851.6h.01M663.8 851.4h.01M663.8 851.9h.01M665.6 851.8h.01M665.6 852.3h.01M667.4 852.1h.01M667.4 852.6h.01M669.2 852.5h.01M669.2 852.9h.01M671 852.8h.01M671 853.3h.01M672.8 853.2h.01M672.8 853.6h.01M674.6 853.5h.01M674.6 854h.01M676.4 853.9h.01M676.4 854.3h.01M678.2 854.2h.01M678.2 854.6h.01M680 854.5h.01M680 855h.01M681.8 854.9h.01M681.8 855.3h.01M683.6 855.2h.01M683.6 855.6h.01M685.4 855.5h.01M685.4 856h.01M687.2 855.9h.01M687.2 856.3h.01M689 856.2h.01M689 856.6h.01M690.8 856.6h.01M690.8 857h.01M692.6 856.9h.01M692.6 857.3h.01M694.4 857.2h.01M694.4 857.6h.01M696.2 857.6h.01M696.2 857.9h.01M698 857.9h.01M698 858.3h.01M699.8 858.2h.01M699.8 858.6h.01M701.6 858.6h.01M701.6 858.9h.01M703.4 858.9h.01M703.4 859.3h.01M705.2 859.2h.01M705.2 859.6h.01M707 859.6h.01M707 859.9h.01M708.8 859.9h.01M708.8 860.2h.01M710.6 860.2h.01M710.6 860.6h.01M712.4 860.5h.01M712.4 860.9h.01M714.2 860.9h.01M714.2 861.2h.01M716 861.2h.01M716 861.5h.01M717.8 861.5h.01M717.8 861.9h.01M719.6 861.9h.01M719.6 862.2h.01M721.4 862.2h.01M721.4 862.5h.01M723.2 862.5h.01M723.2 862.8h.01M725 862.8h.01M725 863.2h.01M726.8 863.2h.01M726.8 863.5h.01M728.6 863.5h.01M728.6 863.8h.01M730.4 863.8h.01M730.4 864.1h.01M732.2 864.1h.01M732.2 864.5h.01M734 864.5h.01M734 864.8h.01M735.8 864.8h.01M735.8 865.1h.01M737.6 865.1h.01M737.6 865.4h.01M739.4 865.5h.01M739.4 865.8h.01M741.2 865.8h.01M741.2 866.1h.01M743 866.1h.01M743 866.4h.01M744.8 866.5h.01M744.8 866.8h.01M746.6 866.8h.01M746.6 867.1h.01M748.4 867.2h.01M748.4 867.4h.01M750.2 867.5h.01M750.2 867.8h.01M752 867.9h.01M752 868.1h.01M753.8 868.2h.01M753.8 868.5h.01M755.6 868.6h.01M755.6 868.8h.01M757.4 868.9h.01M757.4 869.2h.01M759.2 869.3h.01M759.2 869.5h.01M761 869.6h.01M761 869.9h.01M762.8 870h.01M762.8 870.2h.01M764.6 870.3h.01M764.6 870.6h.01M766.4 870.7h.01M766.4 870.9h.01M768.2 871h.01M768.2 871.3h.01M770 871.4h.01M770 871.6h.01M771.8 871.7h.01M771.8 872h.01M773.6 872.1h.01M773.6 872.3h.01M775.4 872.4h.01M775.4 872.7h.01M777.2 872.8h.01M777.2 873h.01M779 873.2h.01M779 873.4h.01M780.8 873.5h.01M780.8 873.8h.01M782.6 873.9h.01M782.6 874.1h.01M784.4 874.2h.01M784.4 874.5h.01M786.2 874.6h.01M786.2 874.8h.01M788 875h.01M788 875.2h.01M789.8 875.3h.01M789.8 875.5h.01M791.6 875.7h.01M791.6 875.9h.01M793.4 876.1h.01M793.4 876.3h.01M795.2 876.4h.01M795.2 876.6h.01M797 876.8h.01M797 877h.01M798.8 877.1h.01M798.8 877.4h.01M800.6 877.5h.01M800.6 877.7h.01M802.4 877.9h.01M802.4 878.1h.01M804.2 878.2h.01M804.2 878.4h.01M806 878.6h.01M806 878.8h.01M807.8 879h.01M807.8 879.2h.01M809.6 879.3h.01M809.6 879.5h.01M811.4 879.7h.01M811.4 879.9h.01M813.2 880.1h.01M813.2 880.2h.01M815 880.4h.01M815 880.6h.01M816.8 880.8h.01M816.8 881h.01M818.6 881.1h.01M818.6 881.3h.01M820.4 881.5h.01M820.4 881.7h.01M822.2 881.9h.01M822.2 882h.01M824 882.2h.01M824 882.4h.01M825.8 882.6h.01M825.8 882.8h.01M827.6 882.9h.01M827.6 883.1h.01M829.4 883.3h.01M829.4 883.5h.01M831.2 883.7h.01M831.2 883.8h.01M833 884h.01M833 884.2h.01M834.8 884.4h.01M834.8 884.5h.01M836.6 884.7h.01M836.6 884.9h.01M838.4 885.1h.01M838.4 885.2h.01M840.2 885.4h.01M840.2 885.6h.01M842 885.8h.01M842 885.9h.01M843.8 886.1h.01M843.8 886.3h.01M845.6 886.5h.01M845.6 886.6h.01M269.1 692h.01M361 732h.01M454.2 759h.01M545 775.7h.01M638 796.5h.01M729.9 810.1h.01M821.7 825.8h.01" stroke="#4fb5f2" stroke-width="20.4" stroke-linecap="round" fill="none"/>
<path d="M176 643.5h.01M176 653.5h.01M177.8 651.5h.01M177.8 661.4h.01M179.6 655.1h.01M179.6 664.9h.01M181.4 658.1h.01M181.4 667.7h.01M183.2 660.6h.01M183.2 670.2h.01M185 662.9h.01M185 672.4h.01M186.8 665.1h.01M186.8 674.4h.01M188.6 667.1h.01M188.6 676.3h.01M190.4 668.9h.01M190.4 678.1h.01M192.2 670.8h.01M192.2 679.8h.01M194 672.5h.01M194 681.4h.01M195.8 674.2h.01M195.8 683h.01M197.6 675.8h.01M197.6 684.5h.01M199.4 677.3h.01M199.4 686h.01M201.2 678.8h.01M201.2 687.4h.01M203 680.3h.01M203 688.8h.01M204.8 681.8h.01M204.8 690.1h.01M206.6 683.2h.01M206.6 691.4h.01M208.4 684.5h.01M208.4 692.7h.01M210.2 685.9h.01M210.2 694h.01M212 687.2h.01M212 695.2h.01M213.8 688.5h.01M213.8 696.4h.01M215.6 689.8h.01M215.6 697.6h.01M217.4 691.1h.01M217.4 698.8h.01M219.2 692.3h.01M219.2 699.9h.01M221 693.5h.01M221 701.1h.01M222.8 694.7h.01M222.8 702.2h.01M224.6 695.9h.01M224.6 703.3h.01M226.4 697.1h.01M226.4 704.3h.01M228.2 698.2h.01M228.2 705.4h.01M230 699.3h.01M230 706.5h.01M231.8 700.5h.01M231.8 707.5h.01M233.6 701.6h.01M233.6 708.5h.01M235.4 702.6h.01M235.4 709.5h.01M237.2 703.7h.01M237.2 710.6h.01M239 704.8h.01M239 711.5h.01M240.8 705.9h.01M240.8 712.5h.01M242.6 706.9h.01M242.6 713.5h.01M244.4 707.9h.01M244.4 714.5h.01M246.2 709h.01M246.2 715.4h.01M248 710h.01M248 716.3h.01M249.8 711h.01M249.8 717.3h.01M251.6 712h.01M251.6 718.2h.01M253.4 712.9h.01M253.4 719.1h.01M255.2 713.9h.01M255.2 720h.01M257 714.9h.01M257 720.9h.01M258.8 715.8h.01M258.8 721.8h.01M260.6 716.8h.01M260.6 722.7h.01M262.4 717.7h.01M262.4 723.6h.01M264.2 718.7h.01M264.2 724.4h.01M266 719.6h.01M266 725.3h.01M267.8 720.5h.01M267.8 726.1h.01M269.6 721.4h.01M269.6 727h.01M271.4 722.3h.01M271.4 727.8h.01M273.2 723.2h.01M273.2 728.6h.01M275 724.1h.01M275 729.5h.01M276.8 725h.01M276.8 730.3h.01M278.6 725.8h.01M278.6 731.1h.01M280.4 726.7h.01M280.4 731.9h.01M282.2 727.6h.01M282.2 732.7h.01M284 728.4h.01M284 733.5h.01M285.8 729.3h.01M285.8 734.3h.01M287.6 730.1h.01M287.6 735.1h.01M289.4 731h.01M289.4 735.9h.01M291.2 731.8h.01M291.2 736.7h.01M293 732.6h.01M293 737.4h.01M294.8 733.4h.01M294.8 738.2h.01M296.6 734.2h.01M296.6 738.9h.01M298.4 735.1h.01M298.4 739.7h.01M300.2 735.9h.01M300.2 740.5h.01M302 736.7h.01M302 741.2h.01M303.8 737.4h.01M303.8 741.9h.01M305.6 738.2h.01M305.6 742.7h.01M307.4 739h.01M307.4 743.4h.01M309.2 739.8h.01M309.2 744.1h.01M311 740.6h.01M311 744.9h.01M312.8 741.3h.01M312.8 745.6h.01M314.6 742.1h.01M314.6 746.3h.01M316.4 742.9h.01M316.4 747h.01M318.2 743.6h.01M318.2 747.7h.01M320 744.4h.01M320 748.4h.01M321.8 745.1h.01M321.8 749.1h.01M323.6 745.8h.01M323.6 749.8h.01M325.4 746.6h.01M325.4 750.5h.01M327.2 747.3h.01M327.2 751.2h.01M329 748h.01M329 751.9h.01M330.8 748.8h.01M330.8 752.6h.01M332.6 749.5h.01M332.6 753.2h.01M334.4 750.2h.01M334.4 753.9h.01M336.2 750.9h.01M336.2 754.6h.01M338 751.6h.01M338 755.2h.01M339.8 752.3h.01M339.8 755.9h.01M341.6 753h.01M341.6 756.6h.01M343.4 753.7h.01M343.4 757.2h.01M345.2 754.4h.01M345.2 757.9h.01M347 755.1h.01M347 758.5h.01M348.8 755.8h.01M348.8 759.2h.01M350.6 756.5h.01M350.6 759.8h.01M352.4 757.1h.01M352.4 760.5h.01M354.2 757.8h.01M354.2 761.1h.01M356 758.5h.01M356 761.7h.01M357.8 759.1h.01M357.8 762.4h.01M359.6 759.8h.01M359.6 763h.01M361.4 760.5h.01M361.4 763.6h.01M363.2 761.1h.01M363.2 764.2h.01M365 761.8h.01M365 764.8h.01M366.8 762.4h.01M366.8 765.5h.01M368.6 763.1h.01M368.6 766.1h.01M370.4 763.7h.01M370.4 766.7h.01M372.2 764.4h.01M372.2 767.3h.01M374 765h.01M374 767.9h.01M375.8 765.6h.01M375.8 768.5h.01M377.6 766.3h.01M377.6 769.1h.01M379.4 766.9h.01M379.4 769.7h.01M381.2 767.5h.01M381.2 770.3h.01M383 768.1h.01M383 770.9h.01M384.8 768.7h.01M384.8 771.5h.01M386.6 769.4h.01M386.6 772h.01M388.4 770h.01M388.4 772.6h.01M390.2 770.6h.01M390.2 773.2h.01M392 771.2h.01M392 773.8h.01M393.8 771.8h.01M393.8 774.4h.01M395.6 772.4h.01M395.6 774.9h.01M397.4 773h.01M397.4 775.5h.01M399.2 773.6h.01M399.2 776.1h.01M401 774.2h.01M401 776.6h.01M402.8 774.8h.01M402.8 777.2h.01M404.6 775.4h.01M404.6 777.8h.01M406.4 775.9h.01M406.4 778.3h.01M408.2 776.5h.01M408.2 778.9h.01M410 777.1h.01M410 779.4h.01M411.8 777.7h.01M411.8 780h.01M413.6 778.2h.01M413.6 780.5h.01M415.4 778.8h.01M415.4 781.1h.01M417.2 779.4h.01M417.2 781.6h.01M419 780h.01M419 782.1h.01M420.8 780.5h.01M420.8 782.7h.01M422.6 781.1h.01M422.6 783.2h.01M424.4 781.6h.01M424.4 783.8h.01M426.2 782.2h.01M426.2 784.3h.01M428 782.7h.01M428 784.8h.01M429.8 783.3h.01M429.8 785.3h.01M431.6 783.8h.01M431.6 785.9h.01M433.4 784.4h.01M433.4 786.4h.01M435.2 784.9h.01M435.2 786.9h.01M437 785.5h.01M437 787.4h.01M438.8 786h.01M438.8 787.9h.01M440.6 786.5h.01M440.6 788.5h.01M442.4 787.1h.01M442.4 789h.01M444.2 787.6h.01M444.2 789.5h.01M446 788.1h.01M446 790h.01M447.8 788.7h.01M447.8 790.5h.01M449.6 789.2h.01M449.6 791h.01M451.4 789.7h.01M451.4 791.5h.01M453.2 790.2h.01M453.2 792h.01M455 790.7h.01M455 792.5h.01M456.8 791.3h.01M456.8 793h.01M458.6 791.8h.01M458.6 793.5h.01M460.4 792.3h.01M460.4 794h.01M462.2 792.8h.01M462.2 794.5h.01M464 793.3h.01M464 795h.01M465.8 793.8h.01M465.8 795.4h.01M467.6 794.3h.01M467.6 795.9h.01M469.4 794.8h.01M469.4 796.4h.01M471.2 795.3h.01M471.2 796.9h.01M473 795.8h.01M473 797.4h.01M474.8 796.3h.01M474.8 797.8h.01M476.6 796.8h.01M476.6 798.3h.01M478.4 797.3h.01M478.4 798.8h.01M480.2 797.8h.01M480.2 799.3h.01M482 798.2h.01M482 799.7h.01M483.8 798.7h.01M483.8 800.2h.01M485.6 799.2h.01M485.6 800.7h.01M487.4 799.7h.01M487.4 801.1h.01M489.2 800.2h.01M489.2 801.6h.01M491 800.6h.01M491 802h.01M492.8 801.1h.01M492.8 802.5h.01M494.6 801.6h.01M494.6 802.9h.01M496.4 802.1h.01M496.4 803.4h.01M498.2 802.5h.01M498.2 803.9h.01M500 803h.01M500 804.3h.01M501.8 803.4h.01M501.8 804.8h.01M503.6 803.9h.01M503.6 805.2h.01M505.4 804.4h.01M505.4 805.6h.01M507.2 804.8h.01M507.2 806.1h.01M509 805.3h.01M509 806.5h.01M510.8 805.7h.01M510.8 807h.01M512.6 806.2h.01M512.6 807.4h.01M514.4 806.6h.01M514.4 807.8h.01M516.2 807.1h.01M516.2 808.3h.01M518 807.5h.01M518 808.7h.01M519.8 808h.01M519.8 809.1h.01M521.6 808.4h.01M521.6 809.6h.01M523.4 808.9h.01M523.4 810h.01M525.2 809.3h.01M525.2 810.4h.01M527 809.7h.01M527 810.9h.01M528.8 810.2h.01M528.8 811.3h.01M530.6 810.6h.01M530.6 811.7h.01M532.4 811h.01M532.4 812.1h.01M534.2 811.5h.01M534.2 812.5h.01M536 811.9h.01M536 813h.01M537.8 812.3h.01M537.8 813.4h.01M539.6 812.8h.01M539.6 813.8h.01M541.4 813.2h.01M541.4 814.2h.01M543.2 813.6h.01M543.2 814.6h.01M545 814h.01M545 815h.01M546.8 814.4h.01M546.8 815.4h.01M548.6 814.9h.01M548.6 815.8h.01M550.4 815.3h.01M550.4 816.2h.01M552.2 815.7h.01M552.2 816.6h.01M554 816.1h.01M554 817h.01M555.8 816.5h.01M555.8 817.4h.01M557.6 816.9h.01M557.6 817.8h.01M559.4 817.3h.01M559.4 818.2h.01M561.2 817.7h.01M561.2 818.6h.01M563 818.1h.01M563 819h.01M564.8 818.5h.01M564.8 819.4h.01M566.6 818.9h.01M566.6 819.8h.01M568.4 819.3h.01M568.4 820.2h.01M570.2 819.7h.01M570.2 820.6h.01M572 820.1h.01M572 821h.01M573.8 820.5h.01M573.8 821.3h.01M575.6 820.9h.01M575.6 821.7h.01M577.4 821.3h.01M577.4 822.1h.01M579.2 821.7h.01M579.2 822.5h.01M581 822.1h.01M581 822.9h.01M582.8 822.5h.01M582.8 823.2h.01M584.6 822.8h.01M584.6 823.6h.01M586.4 823.2h.01M586.4 824h.01M588.2 823.6h.01M588.2 824.4h.01M590 824h.01M590 824.7h.01M591.8 824.4h.01M591.8 825.1h.01M593.6 824.7h.01M593.6 825.5h.01M595.4 825.1h.01M595.4 825.8h.01M597.2 825.5h.01M597.2 826.2h.01M599 825.9h.01M599 826.6h.01M600.8 826.2h.01M600.8 826.9h.01M602.6 826.6h.01M602.6 827.3h.01M604.4 827h.01M604.4 827.7h.01M606.2 827.3h.01M606.2 828h.01M608 827.7h.01M608 828.4h.01M609.8 828.1h.01M609.8 828.7h.01M611.6 828.4h.01M611.6 829.1h.01M613.4 828.8h.01M613.4 829.4h.01M615.2 829.1h.01M615.2 829.8h.01M617 829.5h.01M617 830.1h.01M618.8 829.8h.01M618.8 830.5h.01M620.6 830.2h.01M620.6 830.8h.01M622.4 830.6h.01M622.4 831.2h.01M624.2 830.9h.01M624.2 831.5h.01M626 831.3h.01M626 831.9h.01M627.8 831.6h.01M627.8 832.2h.01M629.6 832h.01M629.6 832.5h.01M631.4 832.3h.01M631.4 832.9h.01M633.2 832.6h.01M633.2 833.2h.01M635 833h.01M635 833.6h.01M636.8 833.3h.01M636.8 833.9h.01M638.6 833.7h.01M638.6 834.2h.01M640.4 834h.01M640.4 834.6h.01M642.2 834.3h.01M642.2 834.9h.01M644 834.7h.01M644 835.2h.01M645.8 835h.01M645.8 835.5h.01M647.6 835.3h.01M647.6 835.9h.01M649.4 835.7h.01M649.4 836.2h.01M651.2 836h.01M651.2 836.5h.01M653 836.3h.01M653 836.8h.01M654.8 836.7h.01M654.8 837.2h.01M656.6 837h.01M656.6 837.5h.01M658.4 837.3h.01M658.4 837.8h.01M660.2 837.6h.01M660.2 838.1h.01M662 838h.01M662 838.4h.01M663.8 838.3h.01M663.8 838.8h.01M665.6 838.6h.01M665.6 839.1h.01M667.4 838.9h.01M667.4 839.4h.01M669.2 839.2h.01M669.2 839.7h.01M671 839.6h.01M671 840h.01M672.8 839.9h.01M672.8 840.3h.01M674.6 840.2h.01M674.6 840.6h.01M676.4 840.5h.01M676.4 840.9h.01M678.2 840.8h.01M678.2 841.2h.01M680 841.1h.01M680 841.5h.01M681.8 841.4h.01M681.8 841.8h.01M683.6 841.7h.01M683.6 842.1h.01M685.4 842h.01M685.4 842.5h.01M687.2 842.3h.01M687.2 842.7h.01M689 842.6h.01M689 843h.01M690.8 842.9h.01M690.8 843.3h.01M692.6 843.2h.01M692.6 843.6h.01M694.4 843.5h.01M694.4 843.9h.01M696.2 843.8h.01M696.2 844.2h.01M698 844.1h.01M698 844.5h.01M699.8 844.4h.01M699.8 844.8h.01M701.6 844.7h.01M701.6 845.1h.01M703.4 845h.01M703.4 845.4h.01M705.2 845.3h.01M705.2 845.7h.01M707 845.6h.01M707 846h.01M708.8 845.9h.01M708.8 846.2h.01M710.6 846.2h.01M710.6 846.5h.01M712.4 846.5h.01M712.4 846.8h.01M714.2 846.8h.01M714.2 847.1h.01M716 847h.01M716 847.4h.01M717.8 847.3h.01M717.8 847.7h.01M719.6 847.6h.01M719.6 847.9h.01M721.4 847.9h.01M721.4 848.2h.01M723.2 848.2h.01M723.2 848.5h.01M725 848.4h.01M725 848.8h.01M726.8 848.7h.01M726.8 849h.01M728.6 849h.01M728.6 849.3h.01M730.4 849.3h.01M730.4 849.6h.01M732.2 849.5h.01M732.2 849.8h.01M734 849.8h.01M734 850.1h.01M735.8 850.1h.01M735.8 850.4h.01M737.6 850.4h.01M737.6 850.7h.01M739.4 850.6h.01M739.4 850.9h.01M741.2 850.9h.01M741.2 851.2h.01M743 851.2h.01M743 851.4h.01M744.8 851.4h.01M744.8 851.7h.01M746.6 851.7h.01M746.6 852h.01M748.4 851.9h.01M748.4 852.2h.01M750.2 852.2h.01M750.2 852.5h.01M752 852.5h.01M752 852.7h.01M753.8 852.7h.01M753.8 853h.01M755.6 853h.01M755.6 853.3h.01M757.4 853.2h.01M757.4 853.5h.01M759.2 853.5h.01M759.2 853.8h.01M761 853.8h.01M761 854h.01M762.8 854h.01M762.8 854.3h.01M764.6 854.3h.01M764.6 854.5h.01M766.4 854.5h.01M766.4 854.8h.01M768.2 854.8h.01M768.2 855h.01M770 855h.01M770 855.3h.01M771.8 855.3h.01M771.8 855.5h.01M773.6 855.5h.01M773.6 855.7h.01M775.4 855.8h.01M775.4 856h.01M777.2 856h.01M777.2 856.2h.01M779 856.2h.01M779 856.5h.01M780.8 856.5h.01M780.8 856.7h.01M782.6 856.7h.01M782.6 857h.01M784.4 857h.01M784.4 857.2h.01M786.2 857.2h.01M786.2 857.4h.01M788 857.4h.01M788 857.7h.01M789.8 857.7h.01M789.8 857.9h.01M791.6 857.9h.01M791.6 858.1h.01M793.4 858.2h.01M793.4 858.4h.01M795.2 858.4h.01M795.2 858.6h.01M797 858.6h.01M797 858.8h.01M798.8 858.8h.01M798.8 859.1h.01M800.6 859.1h.01M800.6 859.3h.01M802.4 859.3h.01M802.4 859.5h.01M804.2 859.5h.01M804.2 859.7h.01M806 859.8h.01M806 860h.01M807.8 860h.01M807.8 860.2h.01M809.6 860.2h.01M809.6 860.4h.01M811.4 860.4h.01M811.4 860.6h.01M813.2 860.7h.01M813.2 860.9h.01M815 860.9h.01M815 861.1h.01M816.8 861.1h.01M816.8 861.3h.01M818.6 861.3h.01M818.6 861.5h.01M820.4 861.5h.01M820.4 861.7h.01M822.2 861.8h.01M822.2 861.9h.01M824 862h.01M824 862.2h.01M825.8 862.2h.01M825.8 862.4h.01M827.6 862.4h.01M827.6 862.6h.01M829.4 862.6h.01M829.4 862.8h.01M831.2 862.8h.01M831.2 863h.01M833 863h.01M833 863.2h.01M834.8 863.3h.01M834.8 863.4h.01M836.6 863.5h.01M836.6 863.6h.01M838.4 863.7h.01M838.4 863.8h.01M840.2 863.9h.01M840.2 864h.01M842 864.1h.01M842 864.2h.01M843.8 864.3h.01M843.8 864.4h.01M845.6 864.5h.01M845.6 864.7h.01M847.4 864.7h.01M847.4 864.9h.01M849.2 864.9h.01M849.2 865.1h.01M851 865.1h.01M851 865.3h.01M852.8 865.3h.01M852.8 865.5h.01M854.6 865.5h.01M854.6 865.6h.01M856.4 865.7h.01M856.4 865.8h.01M858.2 865.9h.01M858.2 866h.01M860 866.1h.01M860 866.2h.01M861.8 866.3h.01M861.8 866.4h.01M863.6 866.5h.01M863.6 866.6h.01M865.4 866.7h.01M865.4 866.8h.01M867.2 866.9h.01M867.2 867h.01M269.1 685.9h.01M361 724.5h.01M454.2 749.6h.01M545 768.4h.01M638 787.1h.01M729.9 801.8h.01M821.7 816.4h.01" stroke="#ade0fb" stroke-width="20.4" stroke-linecap="round" fill="none"/>
<path d="M985 927.5h.01M989 929.4h.01M993 930.5h.01M997 931.2h.01M1001 931.5h.01M1005 930.4h.01M1009 927.9h.01M1013 924.3h.01M1017 917.7h.01M1021 913.9h.01M1025 910.3h.01M1029 907.3h.01M1033 905.2h.01M1037 904.4h.01M1041 903.7h.01M1045 900.1h.01M1049 900.1h.01M1053 900.1h.01M1057 900.1h.01M1061 900h.01M1065 900h.01M1069 900h.01M1073 900h.01M1077 897.3h.01M1081 898.9h.01M1085 901.1h.01M1089 903.7h.01M1093 906.4h.01M1097 909.1h.01M1101 911.6h.01M1105 913.5h.01M1109 912.1h.01M1113 913.5h.01M1117 914.6h.01M1121 915.6h.01M1125 916.3h.01M1129 917h.01M1133 917.5h.01M1137 917.9h.01M1141 915.6h.01M1145 916.6h.01M1149 917.5h.01M1153 918.3h.01M1157 919.1h.01M1161 919.9h.01M1165 920.6h.01M1169 921.3h.01M1173 919.6h.01M1177 921h.01M1181 922.3h.01M1185 923.5h.01M1189 924.7h.01M1193 925.8h.01M1197 926.9h.01M1201 927.9h.01M1205 926.5h.01M1209 928.1h.01M1213 929.6h.01M1217 931.1h.01M1221 932.6h.01M1225 934.1h.01M1229 935.5h.01M1233 934h.01M1237 936h.01M1241 937.9h.01M1245 939.7h.01M1249 941.3h.01M1253 942.8h.01M1257 944.1h.01M1261 945.2h.01M1265 943.4h.01M1269 945h.01M1273 946.4h.01M1277 947.7h.01M1281 948.9h.01M1285 949.9h.01M1289 950.9h.01M1293 951.7h.01M1297 949.9h.01M1301 951.3h.01M1305 952.6h.01M1309 953.9h.01M1313 955.1h.01M1317 956.1h.01M1321 957h.01M1325 957.9h.01M1329 956.1h.01M1333 957.5h.01M1337 958.8h.01M1341 960.1h.01M1345 961.2h.01M1349 962.3h.01M1353 963.3h.01M1357 964.3h.01M1361 962.9h.01M1365 964.5h.01M1369 966.2h.01M1373 967.8h.01M1377 969.5h.01M1381 971h.01M1385 972.5h.01M1389 970.8h.01M1393 972.8h.01M1397 974.7h.01M1401 976.5h.01M1405 978h.01M1409 979.4h.01M1413 980.5h.01M1417 981.6h.01M1421 979.6h.01M1425 981.1h.01M1429 982.5h.01M1433 983.8h.01M1437 985h.01M1441 986h.01M1445 987h.01M1449 987.9h.01M1453 985.9h.01M1457 987.4h.01M1461 988.7h.01M1465 990.1h.01M1469 991.3h.01M1473 992.5h.01M1477 993.6h.01M1481 994.5h.01M1485 992.8h.01M1489 994.3h.01M1493 995.7h.01M1497 997h.01M1501 998.1h.01M1505 999h.01M1509 999.8h.01M1513 1000.4h.01M1517 998.4h.01M1521 999.4h.01M1525 1000.3h.01M1529 1001.1h.01M1533 1001.8h.01M1537 1002.4h.01M1541 1002.9h.01M1545 1003.3h.01M1549 1001.4h.01M1553 1002.4h.01M1557 1003.4h.01M1561 1004.4h.01M1565 1005.3h.01M1569 1006.3h.01M1573 1007.1h.01M1577 1005.1h.01M1581 1006.6h.01M1585 1008.2h.01M1589 1009.6h.01M1593 1011.1h.01M1597 1012.4h.01M1601 1013.7h.01M1605 1015h.01M1018 672h.01M1049 709.5h.01M1080.5 734.5h.01M1112.5 749.5h.01M1144 767h.01M1175 778h.01M1206.5 789.5h.01M1237.5 797h.01M1269 809h.01M1300 817h.01M1331.5 828h.01M1362.5 829.5h.01M1394 842h.01M1425 847h.01M1456.5 854.5h.01M1487.5 859.5h.01M1519 862h.01M1550 867h.01M1581.5 872h.01M1613 879.5h.01M1392.5 1022.5h.01M1450 1015h.01M1520 1027.5h.01M1415 997.5h.01M1395 992.5h.01M1110 917.5h.01M1015 932.5h.01" stroke="#0a3a58" stroke-width="20.4" stroke-linecap="round" fill="none"/>
<path d="M985 925.5h.01M989 922.8h.01M993 920.2h.01M997 917.5h.01M1001 915h.01M1005 912.5h.01M1009 910.2h.01M1013 908.1h.01M1017 903.9h.01M1021 902.9h.01M1025 902.1h.01M1029 901.2h.01M1033 900.3h.01M1037 899.4h.01M1041 898.5h.01M1045 894.6h.01M1049 894.5h.01M1053 894.4h.01M1057 894.3h.01M1061 894.2h.01M1065 894.1h.01M1069 893.8h.01M1073 893.6h.01M1077 890.5h.01M1081 891h.01M1085 891.5h.01M1089 892.2h.01M1093 893.1h.01M1097 894.1h.01M1101 895.3h.01M1105 896.5h.01M1109 895.1h.01M1113 897.1h.01M1117 899h.01M1121 900.7h.01M1125 902.3h.01M1129 903.6h.01M1133 904.6h.01M1137 905.3h.01M1141 903.2h.01M1145 904.3h.01M1149 905.2h.01M1153 906.1h.01M1157 906.7h.01M1161 907.3h.01M1165 907.8h.01M1169 908.2h.01M1173 906.2h.01M1177 907.2h.01M1181 908.2h.01M1185 909.2h.01M1189 910.2h.01M1193 911.2h.01M1197 912.2h.01M1201 913.3h.01M1205 912h.01M1209 913.8h.01M1213 915.5h.01M1217 917.2h.01M1221 918.9h.01M1225 920.5h.01M1229 922h.01M1233 920.5h.01M1237 922.5h.01M1241 924.5h.01M1245 926.4h.01M1249 928.1h.01M1253 929.6h.01M1257 931h.01M1261 932.3h.01M1265 930.6h.01M1269 932.4h.01M1273 934.1h.01M1277 935.7h.01M1281 937.1h.01M1285 938.5h.01M1289 939.7h.01M1293 940.9h.01M1297 939.3h.01M1301 940.9h.01M1305 942.5h.01M1309 943.9h.01M1313 945.1h.01M1317 946.2h.01M1321 947.2h.01M1325 948.1h.01M1329 946.4h.01M1333 947.8h.01M1337 949.1h.01M1341 950.3h.01M1345 951.4h.01M1349 952.4h.01M1353 953.4h.01M1357 954.3h.01M1361 952.8h.01M1365 954.4h.01M1369 956h.01M1373 957.4h.01M1377 958.9h.01M1381 960.2h.01M1385 961.5h.01M1389 959.6h.01M1393 961.4h.01M1397 963.1h.01M1401 964.7h.01M1405 966.1h.01M1409 967.4h.01M1413 968.5h.01M1417 969.5h.01M1421 967.5h.01M1425 969h.01M1429 970.4h.01M1433 971.7h.01M1437 972.9h.01M1441 974h.01M1445 975h.01M1449 975.8h.01M1453 973.9h.01M1457 975.4h.01M1461 976.7h.01M1465 978h.01M1469 979.2h.01M1473 980.3h.01M1477 981.3h.01M1481 982.2h.01M1485 980.4h.01M1489 981.9h.01M1493 983.2h.01M1497 984.5h.01M1501 985.7h.01M1505 986.7h.01M1509 987.7h.01M1513 988.6h.01M1517 986.9h.01M1521 988.3h.01M1525 989.6h.01M1529 990.8h.01M1533 991.9h.01M1537 992.9h.01M1541 993.8h.01M1545 994.6h.01M1549 993.1h.01M1553 994.6h.01M1557 996.1h.01M1561 997.5h.01M1565 998.9h.01M1569 1000.2h.01M1573 1001.5h.01M1577 999.8h.01M1581 1001.8h.01M1585 1003.7h.01M1589 1005.6h.01M1593 1007.4h.01M1597 1009.2h.01M1601 1010.8h.01M1605 1012.5h.01M1014 679h.01M1045 716.5h.01M1076.5 741.5h.01M1108.5 756.5h.01M1140 774h.01M1171 785h.01M1202.5 796.5h.01M1233.5 804.1h.01M1265 817h.01M1296 825.9h.01M1327.5 837.8h.01M1358.5 840.2h.01M1390 853.6h.01M1421 859.5h.01M1452.5 867.9h.01M1483.5 873.8h.01M1515 877.2h.01M1546 883.1h.01M1577.5 889.1h.01M1609 897.5h.01M1180 892.5h.01" stroke="#1273ae" stroke-width="20.4" stroke-linecap="round" fill="none"/>
<path d="M985 922.5h.01M989 919.5h.01M993 916.5h.01M997 913.6h.01M1001 910.7h.01M1005 908h.01M1009 905.5h.01M1013 903.2h.01M1017 898.9h.01M1021 897.9h.01M1025 897h.01M1029 896.2h.01M1033 895.3h.01M1037 894.4h.01M1041 893.5h.01M1045 889.7h.01M1049 889.6h.01M1053 889.5h.01M1057 889.3h.01M1061 889.2h.01M1065 888.9h.01M1069 888.6h.01M1073 888.2h.01M1077 885.1h.01M1081 885.5h.01M1085 886h.01M1089 886.7h.01M1093 887.6h.01M1097 888.7h.01M1101 889.9h.01M1105 891.2h.01M1109 889.9h.01M1113 891.9h.01M1117 893.8h.01M1121 895.6h.01M1125 897.2h.01M1129 898.6h.01M1133 899.6h.01M1137 900.3h.01M1141 898.2h.01M1145 899.3h.01M1149 900.3h.01M1153 901.1h.01M1157 901.8h.01M1161 902.4h.01M1165 902.8h.01M1169 903.2h.01M1173 901.2h.01M1177 902.2h.01M1181 903.2h.01M1185 904.2h.01M1189 905.2h.01M1193 906.2h.01M1197 907.2h.01M1201 908.1h.01M1205 906.8h.01M1209 908.5h.01M1213 910.2h.01M1217 911.8h.01M1221 913.3h.01M1225 914.8h.01M1229 916.2h.01M1233 914.6h.01M1237 916.5h.01M1241 918.3h.01M1245 920h.01M1249 921.6h.01M1253 922.9h.01M1257 924.2h.01M1261 925.2h.01M1265 923.4h.01M1269 924.9h.01M1273 926.3h.01M1277 927.6h.01M1281 928.8h.01M1285 929.9h.01M1289 930.8h.01M1293 931.7h.01M1297 929.8h.01M1301 931.3h.01M1305 932.6h.01M1309 933.9h.01M1313 935.1h.01M1317 936.1h.01M1321 937.1h.01M1325 937.9h.01M1329 936.2h.01M1333 937.6h.01M1337 939h.01M1341 940.2h.01M1345 941.4h.01M1349 942.4h.01M1353 943.4h.01M1357 944.3h.01M1361 942.8h.01M1365 944.4h.01M1369 946h.01M1373 947.4h.01M1377 948.8h.01M1381 950.2h.01M1385 951.4h.01M1389 949.6h.01M1393 951.3h.01M1397 953h.01M1401 954.5h.01M1405 955.8h.01M1409 956.9h.01M1413 957.9h.01M1417 958.7h.01M1421 956.6h.01M1425 957.9h.01M1429 959.1h.01M1433 960.2h.01M1437 961.1h.01M1441 962h.01M1445 962.7h.01M1449 963.4h.01M1453 961.3h.01M1457 962.5h.01M1461 963.7h.01M1465 964.8h.01M1469 965.8h.01M1473 966.7h.01M1477 967.4h.01M1481 968.1h.01M1485 966.2h.01M1489 967.4h.01M1493 968.6h.01M1497 969.7h.01M1501 970.6h.01M1505 971.5h.01M1509 972.3h.01M1513 972.9h.01M1517 971.1h.01M1521 972.3h.01M1525 973.4h.01M1529 974.4h.01M1533 975.3h.01M1537 976.1h.01M1541 976.9h.01M1545 977.5h.01M1549 975.8h.01M1553 977.1h.01M1557 978.3h.01M1561 979.4h.01M1565 980.5h.01M1569 981.5h.01M1573 982.5h.01M1577 980.4h.01M1581 982h.01M1585 983.5h.01M1589 985h.01M1593 986.3h.01M1597 987.6h.01M1601 988.8h.01M1605 990h.01M1014 673h.01M1045 710.5h.01M1076.5 735.5h.01M1108.5 750.5h.01M1140 768h.01M1171 779h.01M1202.5 790.5h.01M1233.5 798h.01M1265 810h.01M1296 818h.01M1327.5 829h.01M1358.5 830.5h.01M1390 843h.01M1421 848h.01M1452.5 855.5h.01M1483.5 860.5h.01M1515 863h.01M1546 868h.01M1577.5 873h.01M1609 880.5h.01" stroke="#4fb5f2" stroke-width="20.4" stroke-linecap="round" fill="none"/>
<path d="M985 917.5h.01M989 918h.01M993 918.1h.01M997 917.8h.01M1001 917.2h.01M1005 913.5h.01M1009 907.3h.01M1013 900h.01M1017 891.1h.01M1021 887.5h.01M1025 884.9h.01M1029 882.5h.01M1033 880.3h.01M1037 878.2h.01M1041 876.3h.01M1045 871.6h.01M1049 870.7h.01M1053 869.7h.01M1057 868.6h.01M1061 867.5h.01M1065 866.3h.01M1069 865.2h.01M1073 864.1h.01M1077 860.5h.01M1081 860.6h.01M1085 861h.01M1089 861.5h.01M1093 862.1h.01M1097 862.6h.01M1101 863.1h.01M1105 863.5h.01M1109 861.2h.01M1113 862.3h.01M1117 863.3h.01M1121 864.2h.01M1125 865.1h.01M1129 866h.01M1133 867h.01M1137 867.9h.01M1141 866.3h.01M1145 867.8h.01M1149 869.2h.01M1153 870.5h.01M1157 871.6h.01M1161 872.4h.01M1165 873h.01M1169 873.5h.01M1173 871.5h.01M1177 872.5h.01M1181 873.4h.01M1185 874.2h.01M1189 874.9h.01M1193 875.5h.01M1197 876h.01M1201 876.4h.01M1205 874.6h.01M1209 875.7h.01M1213 876.8h.01M1217 877.8h.01M1221 878.8h.01M1225 879.7h.01M1229 880.6h.01M1233 878.5h.01M1237 880h.01M1241 881.4h.01M1245 882.8h.01M1249 884.1h.01M1267.5 892.7h.01M1271.5 893.7h.01M1275.5 894.7h.01M1279.5 895.6h.01M1283.5 896.3h.01M1287.5 897h.01M1291.5 897.6h.01M1295.5 895.3h.01M1299.5 896.5h.01M1303.5 897.6h.01M1307.5 898.6h.01M1311.5 899.5h.01M1315.5 900.4h.01M1319.5 901.2h.01M1323.5 901.9h.01M1327.5 899.7h.01M1331.5 901h.01M1335.5 902.2h.01M1339.5 903.3h.01M1343.5 904.3h.01M1347.5 905.3h.01M1351.5 906.1h.01M1355.5 906.8h.01M1359.5 904.8h.01M1363.5 906h.01M1367.5 907.2h.01M1371.5 908.3h.01M1375.5 909.2h.01M1379.5 910.1h.01M1383.5 910.8h.01M1387.5 911.5h.01M1391.5 909.5h.01M1395.5 910.8h.01M1399.5 912h.01M1403.5 913.1h.01M1407.5 914.1h.01M1411.5 915h.01M1415.5 915.9h.01M1419.5 916.8h.01M1423.5 915.2h.01M1427.5 916.6h.01M1431.5 918h.01M1435.5 919.3h.01M1439.5 920.5h.01M1443.5 921.6h.01M1447.5 922.6h.01M1451.5 923.4h.01M1455.5 921.9h.01M1459.5 923.3h.01M1463.5 924.4h.01M1467.5 925.5h.01M1471.5 926.4h.01M1475.5 927.2h.01M1479.5 927.9h.01M1483.5 925.7h.01M1487.5 926.9h.01M1491.5 928.1h.01M1495.5 929.2h.01M1499.5 930.2h.01M1503.5 931.1h.01M1507.5 931.9h.01M1511.5 932.7h.01M1515.5 930.7h.01M1519.5 932.2h.01M1523.5 933.5h.01M1527.5 934.8h.01M1531.5 936h.01M1535.5 937.1h.01M1539.5 938.2h.01M1543.5 939.1h.01M1547.5 937.3h.01M1551.5 938.8h.01M1555.5 940.2h.01M1559.5 941.5h.01M1563.5 942.7h.01M1567.5 943.7h.01M1571.5 944.7h.01M1575.5 945.6h.01M1579.5 943.9h.01M1583.5 945.3h.01M1587.5 946.6h.01M1591.5 947.9h.01M1595.5 949h.01M1599.5 950.1h.01M1603.5 951.1h.01M1607.5 952h.01M1611.5 950.5h.01M1615.5 951.9h.01M1619.5 953.4h.01M1623.5 954.7h.01M1627.5 955.9h.01M1631.5 957.1h.01M1014 654h.01M1045 682.5h.01M1076.5 701h.01M1108.5 716h.01M1140 729h.01M1171 740h.01M1202.5 748h.01M1233.5 760h.01M1265 776h.01M1296 778.5h.01M1327.5 785h.01M1358.5 791.5h.01M1390 796.5h.01M1421 805h.01M1452.5 810h.01M1483.5 816h.01M1515 820h.01M1546 823.5h.01M1577.5 833.5h.01M1609 839h.01" stroke="#ade0fb" stroke-width="20.4" stroke-linecap="round" fill="none"/>
<path d="M174.4 1509.4h.01M176.7 1510.2h.01M179.3 1510.5h.01M180.4 1509.4h.01M181.9 1512.8h.01M184.3 1515.7h.01M185.6 1513.5h.01M187.3 1519.4h.01M189 1519h.01M191.8 1519h.01M193.2 1525.8h.01M194.4 1526.1h.01M197.2 1526.2h.01M198.4 1531.5h.01M200.5 1532.2h.01M201.6 1534.3h.01M203.6 1536h.01M205.4 1539.4h.01M207.8 1538h.01M209.3 1538.6h.01M210.9 1539.5h.01M213 1540.1h.01M214.5 1542.3h.01M216.3 1543.6h.01M217.7 1543.2h.01M219.9 1542.1h.01M222 1542.9h.01M223.5 1540.7h.01M224.8 1544.6h.01M227.2 1544.9h.01M229.7 1545.1h.01M230.1 1543.6h.01M232.7 1543.5h.01M235.1 1547.4h.01M236.7 1545.3h.01M238.5 1543.8h.01M239.5 1545.8h.01M242 1546.1h.01M242.9 1545.6h.01M244.9 1545.6h.01M246.5 1546.4h.01M248.7 1548.4h.01M251 1547.3h.01M252.3 1548.7h.01M254.8 1548.3h.01M256.5 1549.8h.01M257.1 1549.5h.01M259.3 1547.6h.01M261.8 1548.9h.01M262.7 1548.7h.01M264.4 1547.2h.01M267.3 1547.6h.01M268.7 1549.1h.01M270.9 1549.3h.01M271.5 1547.5h.01M273.9 1545.6h.01M275.9 1548.2h.01M278.1 1549.6h.01M278.8 1545.7h.01M281.4 1544.9h.01M282.6 1546.7h.01M284.3 1547.3h.01M287.1 1543.1h.01M288.4 1546.4h.01M290.9 1543.2h.01M291.5 1545.7h.01M294.4 1541.7h.01M295.5 1543.7h.01M297.9 1540.4h.01M299.4 1543h.01M301.1 1539.1h.01M302.1 1539.1h.01M305.1 1537.4h.01M305.7 1538.4h.01M307.5 1536.8h.01M309.3 1538.1h.01M312.1 1537.1h.01M313.1 1536.1h.01M315.5 1538.7h.01M317.9 1534.7h.01M318.3 1537.1h.01M321.4 1534.7h.01M323 1536.3h.01M324.6 1535.8h.01M325.5 1532.2h.01M327.7 1530.9h.01M330.4 1529.9h.01M331.9 1529.6h.01M333.2 1530.7h.01M334.7 1530.7h.01M337.1 1529h.01M339.2 1527.6h.01M340.1 1528h.01M342.2 1526.6h.01M344.8 1529h.01M345.4 1526h.01M347.4 1525.7h.01M349.3 1525.2h.01M352 1523.8h.01M353.4 1523.9h.01M355.4 1520.2h.01M357.2 1523.6h.01M358.8 1519.1h.01M360.7 1520h.01M362.4 1515.9h.01M364.7 1518.7h.01M365.7 1515.7h.01M366.9 1516.4h.01M369.9 1513.4h.01M371.6 1510h.01M372.7 1509.2h.01M374.9 1507.4h.01M377.2 1508.3h.01M378.3 1505.7h.01M380.5 1508.5h.01M382.2 1505h.01M384.2 1503.9h.01M386.1 1505.6h.01M387.1 1504.7h.01M389.4 1502.9h.01M391.5 1503.3h.01M393.4 1504.9h.01M394 1503.5h.01M396.1 1503.7h.01M398.3 1501.8h.01M400.6 1499.4h.01M401.9 1500.4h.01M402.9 1502.1h.01M405.5 1502.4h.01M407.3 1499.3h.01M409.7 1497.8h.01M410.1 1500.5h.01M412.4 1498.2h.01M415 1497.6h.01M416.8 1498.7h.01M417.7 1495.3h.01M419.4 1499.4h.01M421.5 1494.8h.01M423.1 1498h.01M424.7 1496.9h.01M426.5 1497.3h.01M428.8 1492.1h.01M431.2 1493.2h.01M432.7 1493.4h.01M433.6 1490.8h.01M435.5 1490.5h.01M437.1 1489.3h.01M440.3 1489h.01M441.4 1488.5h.01M442.8 1491.1h.01M445.7 1489.1h.01M446.1 1491.1h.01M447.9 1487.4h.01M450.5 1489.3h.01M452.7 1487.3h.01M453.8 1487.8h.01M456.4 1487.4h.01M457.9 1482.8h.01M459.1 1484.1h.01M461.2 1485.2h.01M462.6 1483.7h.01M464.6 1483.6h.01M466.1 1481.5h.01M467.8 1479.5h.01M470.9 1479.3h.01M472.6 1479.7h.01M473.1 1480.3h.01M474.9 1479.8h.01M476.7 1478.3h.01M478.7 1475.9h.01M481.7 1475.9h.01M483 1476.5h.01M484 1476.2h.01M487 1472h.01M488.3 1471.9h.01M490.4 1469.9h.01M491.8 1473h.01M494 1468.8h.01M495.9 1468.7h.01M497.7 1469.2h.01M498.5 1469.6h.01M501.3 1468.6h.01M503.3 1465.7h.01M504 1464.3h.01M506.3 1464.8h.01M507.8 1464.3h.01M509.5 1461.3h.01M511.6 1461.8h.01M513.3 1464.3h.01M514.7 1462h.01M517.2 1459.5h.01M518.8 1462.1h.01M520.4 1460h.01M522.9 1457.4h.01M524.9 1457.8h.01M526 1457.4h.01M527.7 1456.5h.01M529.3 1456.7h.01M531.5 1452.4h.01M533.1 1454.7h.01M535.5 1451.8h.01M536.6 1450.3h.01M539.3 1448h.01M541 1450.7h.01M541.8 1447.1h.01M544.1 1448.3h.01M546.5 1448.1h.01M547.3 1442.9h.01M549.4 1443.5h.01M551.4 1440h.01M553.2 1442.8h.01M555.4 1441.6h.01M557.2 1440.4h.01M557.7 1438.9h.01M559.9 1434.7h.01M561.9 1436.6h.01M564 1432.4h.01M565.4 1434h.01M567.9 1429h.01M568.8 1429.1h.01M570.6 1429h.01M572.4 1428h.01M575.3 1428.3h.01M575.8 1424.1h.01M578.1 1425.2h.01M579.8 1422.3h.01M581.6 1421h.01M584.1 1422.5h.01M585.3 1421.5h.01M587.2 1419.6h.01M588.8 1418.3h.01M591.5 1418.8h.01M593.1 1414.4h.01M594.4 1414.6h.01M595.6 1413.6h.01M597.4 1411.7h.01M600.2 1412.8h.01M601.9 1408.6h.01M602.9 1407.1h.01M604.6 1406.3h.01M607.7 1409h.01M608.4 1404.5h.01M611.3 1404.7h.01M612.2 1402.8h.01M613.9 1401.9h.01M616.3 1400.1h.01M618.3 1396.6h.01M619.8 1399.4h.01M620.9 1395.4h.01M623.4 1393h.01M625.7 1392.2h.01M626.8 1392.6h.01M627.9 1390.8h.01M629.8 1386.7h.01M632.2 1385.5h.01M633.3 1383h.01M635.6 1384.5h.01M638.2 1381h.01M640.1 1380.7h.01M641 1375.3h.01M643.2 1374.6h.01M644.1 1376.2h.01M647.3 1372.3h.01M648.6 1371.2h.01M650.8 1368.6h.01M652.1 1365.7h.01M653.4 1365.6h.01M655.2 1361.5h.01M657.2 1363.4h.01M658.9 1362.4h.01M661.3 1359.7h.01M663.4 1355.2h.01M664.1 1357.8h.01M667 1352h.01M668.6 1350h.01M669.5 1348.9h.01M671.5 1348.6h.01M674.2 1347.2h.01M674.8 1344.7h.01M676.5 1341.8h.01M678.9 1342.5h.01M680.4 1340.1h.01M682 1339.7h.01M684.2 1335.5h.01M686.2 1333.9h.01M687.7 1331.6h.01M690.2 1330.5h.01M692.3 1329.2h.01M692.9 1328.8h.01M695.6 1327.7h.01M696.4 1325.2h.01M699.3 1320.6h.01M700.5 1320h.01M702 1319.1h.01M704.5 1316.7h.01M705.9 1312.7h.01M707.3 1309.3h.01M709.9 1310.2h.01M710.9 1303.2h.01M712.6 1302.7h.01M715.4 1299.1h.01M716.8 1298.1h.01M719.1 1293.8h.01M719.7 1293h.01M722 1289.4h.01M724.4 1288.8h.01M725.2 1285.5h.01M728 1284.8h.01M728.7 1281.8h.01M730.5 1278.6h.01M733.1 1277.4h.01M735 1270.5h.01M736.9 1269h.01M738.9 1265.5h.01M739.9 1266.3h.01M741.5 1263.7h.01M744.1 1261.8h.01M746.2 1257.8h.01M746.9 1254.7h.01M749 1251.3h.01M751.3 1249h.01M752.1 1250.9h.01M755.1 1245.1h.01M756.2 1245.6h.01M758.4 1240.3h.01M759.9 1240.8h.01M761.1 1239h.01M763.7 1232.7h.01M765.9 1229.9h.01M767.1 1230.2h.01M768.6 1229.5h.01M771.1 1223.6h.01M772.1 1220.8h.01M774.5 1218.8h.01M776.3 1219.3h.01M778.6 1212.8h.01M779.5 1211h.01M781.4 1207.4h.01M783.3 1204.9h.01M784.9 1197.5h.01M786.8 1190.4h.01M789 1185h.01M791.2 1180.2h.01M175 1580h.01M270 1630h.01M365 1585h.01M455 1565h.01M547.5 1512.5h.01M638 1443h.01M641.3 1330.7h.01M731 1350.4h.01M730 1425h.01M823.9 1194h.01" stroke="#0a3a58" stroke-width="20.4" stroke-linecap="round" fill="none"/>
<path d="M174.6 1503.7h.01M177.2 1506.4h.01M177.9 1507.9h.01M180.2 1509.9h.01M182.6 1511.9h.01M184.3 1513.2h.01M185.5 1511.9h.01M186.9 1516.3h.01M188.9 1516.8h.01M191.2 1520.4h.01M192.8 1519.5h.01M194.6 1521.5h.01M196.3 1527h.01M197.7 1531.3h.01M200.3 1530.2h.01M202.5 1531.7h.01M203.5 1537.7h.01M205.2 1538.4h.01M206.8 1538.8h.01M209.4 1538.2h.01M210.7 1540.6h.01M212.9 1539.2h.01M214.5 1543.9h.01M216.1 1543.4h.01M217.8 1542.3h.01M220 1543.5h.01M222.1 1544.9h.01M223.9 1545.5h.01M226 1543.5h.01M227.7 1544.9h.01M228.6 1543.6h.01M231.2 1546.3h.01M232 1546.5h.01M233.7 1545.8h.01M236.3 1547.5h.01M237.5 1544.8h.01M239.9 1549h.01M242 1547h.01M243.5 1549.1h.01M245.8 1548.2h.01M247.6 1547.6h.01M248.4 1547.7h.01M250.9 1550.8h.01M252.4 1550.1h.01M253.7 1549.3h.01M255.9 1549.1h.01M257.3 1550.2h.01M259.9 1550.4h.01M261.8 1549.6h.01M263.7 1550.2h.01M265.6 1549.5h.01M267.1 1548.5h.01M268 1552.2h.01M270.2 1547.7h.01M272.4 1552.1h.01M274.4 1552.3h.01M276.5 1549.5h.01M277.2 1547.4h.01M279.1 1550h.01M281.8 1546.7h.01M283.5 1550.2h.01M285.1 1546.7h.01M285.9 1549.4h.01M288.6 1547.2h.01M290 1545.2h.01M292.7 1548.8h.01M294.5 1548.3h.01M295.5 1548.1h.01M296.9 1546.8h.01M298.8 1544.9h.01M301.6 1544.7h.01M303.4 1545.1h.01M304.3 1543h.01M305.7 1544.2h.01M308.7 1542h.01M310 1545.4h.01M311.6 1544.8h.01M314.1 1542.2h.01M315.6 1539.6h.01M317.2 1542.6h.01M318.6 1538.7h.01M320.1 1538.7h.01M322.2 1541.5h.01M324.3 1539.7h.01M325.9 1538h.01M328.1 1539.7h.01M329.3 1537.7h.01M331.8 1539.8h.01M333.1 1536.4h.01M335.3 1534.7h.01M337.2 1538.3h.01M338.5 1535.3h.01M340 1534.9h.01M343.1 1534.5h.01M343.8 1532.8h.01M346.2 1535h.01M347.7 1532.6h.01M350.1 1530.1h.01M352.1 1531.4h.01M352.9 1532.4h.01M354.6 1528.7h.01M356.4 1530.7h.01M358 1529h.01M361.2 1528.5h.01M362.7 1529.7h.01M366.4 1525.4h.01M366.9 1527h.01M369.6 1522.1h.01M371.2 1527.5h.01M373.3 1523.9h.01M375.2 1524.2h.01M375.4 1521.5h.01M378.2 1523h.01M380.5 1523.8h.01M380.9 1520.7h.01M384.1 1520.6h.01M384.5 1523.9h.01M386.9 1518.4h.01M388.8 1517.8h.01M390 1520.1h.01M393.1 1517.6h.01M393.4 1517.6h.01M395.8 1516.8h.01M397.2 1519h.01M398.9 1512.6h.01M401.9 1517.7h.01M402.6 1512.7h.01M405.2 1518.2h.01M406.2 1514.7h.01M408 1515.8h.01M410.3 1512.4h.01M412.6 1513.2h.01M413.3 1511.8h.01M416.9 1514.5h.01M419 1493.8h.01M419.6 1490.1h.01M423.9 1486.8h.01M426 1493.2h.01M426.8 1487.1h.01M426.7 1485.4h.01M430.6 1486h.01M432.6 1482.9h.01M434.5 1489.3h.01M435.9 1481.4h.01M436.1 1479.2h.01M437.3 1486h.01M440.6 1485.7h.01M441.7 1480.6h.01M445.5 1487.3h.01M444.7 1484.5h.01M448 1475.5h.01M450 1478.2h.01M450.9 1485.4h.01M454 1475h.01M455.6 1474.2h.01M458.1 1480.2h.01M459 1473.5h.01M459 1478.7h.01M461.8 1481.6h.01M463.3 1476.5h.01M464.5 1477.2h.01M469.1 1474.1h.01M470.4 1472.5h.01M472.5 1475.7h.01M471.8 1478.1h.01M476.1 1470.4h.01M475.3 1470.8h.01M478.4 1477.7h.01M481.4 1469.9h.01M480.5 1472h.01M484 1467.2h.01M485.9 1474.4h.01M486.2 1466.1h.01M490.3 1463.4h.01M489.8 1462.6h.01M493.7 1461.1h.01M493.3 1465.6h.01M497.3 1466h.01M498 1466.7h.01M498.8 1460.5h.01M501.4 1460.7h.01M502.6 1455.3h.01M507 1456.1h.01M507.2 1462h.01M508.3 1455h.01M511 1450.8h.01M511 1456.1h.01M514 1449.1h.01M515.5 1454.9h.01M518.9 1452h.01M518.9 1454.7h.01M520.6 1452.9h.01M522.3 1454h.01M526.1 1448.4h.01M526.8 1448.3h.01M529.3 1447.3h.01M531.2 1441.4h.01M532.1 1447.9h.01M534 1449.5h.01M536.1 1441.4h.01M539.1 1441.9h.01M539.8 1443.5h.01M542.6 1438.1h.01M417 1500h.01M418 1510h.01M421 1478h.01M546.9 1478.6h.01M547.5 1482.6h.01M550.8 1487.6h.01M551.5 1482.7h.01M554.3 1480h.01M553.9 1483.6h.01M557 1479.6h.01M557.8 1480h.01M559.8 1480.5h.01M561.3 1479.8h.01M563.7 1479.5h.01M566.5 1481.4h.01M566.7 1483.1h.01M570.1 1480.4h.01M570 1482.4h.01M573.6 1483.9h.01M575.3 1481.2h.01M576.2 1478h.01M577.4 1482.2h.01M580.3 1477.5h.01M581.1 1477.2h.01M584.4 1476.2h.01M584.5 1477.1h.01M587 1479.3h.01M589.3 1477.1h.01M592.1 1479.6h.01M591.9 1474.4h.01M594.4 1472.5h.01M597 1477.6h.01M597.7 1478.2h.01M600.1 1472.2h.01M602.1 1475.3h.01M604.1 1477.1h.01M606.4 1472.1h.01M607 1468.4h.01M608.8 1469h.01M609.9 1473.5h.01M611.5 1467.5h.01M614.8 1470.4h.01M616 1471.7h.01M617.4 1466.3h.01M619.8 1464.9h.01M622.1 1470.9h.01M624.1 1469.9h.01M624.2 1465.6h.01M628 1468.4h.01M629 1466.3h.01M630 1462.6h.01M631.4 1467.2h.01M633.7 1467.5h.01M634.8 1465.5h.01M637.9 1459h.01M640 1463.9h.01M641.9 1463.4h.01M643.6 1463.6h.01M644.7 1464.7h.01M646.8 1458.7h.01M649.8 1458.2h.01M650.3 1461h.01M652.9 1457.4h.01M652.9 1458.8h.01M656 1459.2h.01M657 1459.1h.01M660.1 1458.5h.01M661.8 1455.9h.01M663.1 1455.9h.01M664.1 1451.6h.01M667.3 1448.6h.01M667.5 1440.6h.01M671.2 1439.9h.01M671.2 1433.6h.01M674.5 1433.6h.01M675.6 1425h.01M676.7 1422.1h.01M678.4 1420.2h.01M681.5 1423.3h.01M682.7 1422.7h.01M683.8 1415h.01M686.7 1415.5h.01M687.3 1416h.01M690.3 1410.9h.01M691.5 1407.6h.01M692.6 1401.6h.01M695.7 1400h.01M697.3 1391.6h.01M698.6 1395h.01M701.9 1389.7h.01M701.6 1379h.01M703.7 1380.7h.01M705.5 1373.7h.01M707.4 1376.8h.01M709.9 1377h.01M710.6 1369.8h.01M714.2 1369.6h.01M715.7 1373.1h.01M716.3 1369.9h.01M719.4 1367.6h.01M721.7 1367.5h.01M721.6 1371.9h.01M723.3 1374.5h.01M725.8 1366.8h.01M727 1370.3h.01M730.5 1367.7h.01M731.2 1369.8h.01M733.6 1370.7h.01M734.6 1367.4h.01M737.7 1371.1h.01M738.4 1371.1h.01M739.6 1368.9h.01M743.2 1365.9h.01M744.5 1360.7h.01M746.6 1364.4h.01M747.8 1362.1h.01M748.6 1362.8h.01M751.3 1359.3h.01M752.2 1357.9h.01M754.2 1357.4h.01M755.5 1350.8h.01M757.7 1351.5h.01M761.1 1346.9h.01M762.1 1345.7h.01M763.5 1346.4h.01M764.8 1346.5h.01M767 1343.3h.01M769.5 1341.8h.01M772.1 1340.4h.01M774 1338.3h.01M775.7 1336.1h.01M775.2 1335h.01M778.7 1334.7h.01M779.5 1336.9h.01M780.7 1334.5h.01M783.4 1330.1h.01M786.4 1330.5h.01M786.7 1331.9h.01M789.9 1326.9h.01M789.9 1331.6h.01M792.4 1327h.01M794.3 1328.1h.01M796 1326.4h.01M798.1 1319.7h.01M799.8 1324.7h.01M801.7 1319.8h.01M802.3 1321h.01M804.9 1316.7h.01M806.7 1316.3h.01M808.4 1314h.01M810.5 1310.8h.01M811.7 1312.7h.01M815.1 1311.4h.01M816.1 1313.9h.01M818.5 1311.1h.01M819.9 1308.9h.01M820.7 1303.8h.01M822.1 1302.1h.01M825.3 1304.7h.01M825.7 1305h.01M828.5 1301h.01M829.4 1301.8h.01M831.2 1294.8h.01M833.9 1295.2h.01M835.9 1296.8h.01M175 1590h.01M270 1620h.01M365 1595h.01M255 1487.5h.01M500 1425h.01M490 1435h.01M641.3 1382.1h.01M712.4 1347h.01M823.9 1373.3h.01M731 1424.7h.01M680 1390h.01M690 1395h.01" stroke="#1273ae" stroke-width="20.4" stroke-linecap="round" fill="none"/>
<path d="M173.9 1513.4h.01M176.6 1515.8h.01M179 1517.2h.01M181.3 1518.4h.01M181.3 1517.9h.01M184.7 1521.3h.01M186.8 1520.1h.01M186.4 1524.3h.01M188.9 1525.7h.01M190.1 1525.4h.01M193.3 1525.7h.01M194.4 1528.1h.01M197.5 1535.4h.01M198.7 1535.5h.01M201.3 1535.5h.01M202.5 1536h.01M204.1 1538.6h.01M204.4 1545.8h.01M206.9 1547.7h.01M209.6 1546.1h.01M211.4 1549.3h.01M212.1 1549.8h.01M214.2 1543.1h.01M217.4 1543.7h.01M218.1 1550.1h.01M219.5 1549.6h.01M222.1 1549.8h.01M222.8 1550.4h.01M226.2 1546.3h.01M228.3 1553.1h.01M228.6 1553.5h.01M231.9 1547.2h.01M233.2 1554.2h.01M235.2 1547.9h.01M236 1551.6h.01M237.7 1550.4h.01M238.8 1547.5h.01M241.1 1551h.01M243.6 1555.4h.01M244.2 1550.7h.01M247.9 1554.6h.01M247.9 1553.4h.01M249.6 1555.6h.01M251.8 1552.8h.01M254.1 1552.1h.01M255.3 1550.8h.01M257.3 1552.9h.01M259.4 1552.6h.01M261.5 1553.2h.01M264.3 1552.1h.01M265.1 1552.7h.01M266.9 1551h.01M268 1551.9h.01M269.8 1552.8h.01M273.1 1553.9h.01M274.7 1549.1h.01M274.7 1549h.01M277.8 1548.2h.01M278.4 1555.1h.01M280.9 1547.6h.01M283 1552.5h.01M284.7 1547.9h.01M286.6 1547.3h.01M289 1554.2h.01M289.1 1551.1h.01M292.8 1551.6h.01M293 1546.9h.01M295.5 1546.6h.01M298.2 1550.3h.01M298.8 1552.2h.01M300.3 1550.1h.01M302.8 1546.7h.01M305.3 1551.3h.01M305.7 1549h.01M307.7 1552.9h.01M310.4 1552.9h.01M312.4 1551.5h.01M313.1 1551.8h.01M315 1551.4h.01M317.7 1548.7h.01M318.2 1549.3h.01M321.1 1549.8h.01M321.6 1546.1h.01M324.5 1550.8h.01M325.6 1550.9h.01M329.1 1544.3h.01M330.3 1546.5h.01M330.7 1544.9h.01M333.1 1543.1h.01M335.7 1546.4h.01M336.6 1549.5h.01M339.9 1546h.01M340.1 1546.9h.01M342.2 1549h.01M343.7 1542.7h.01M344.8 1542.8h.01M346.8 1548.5h.01M350 1545.7h.01M352.5 1545.8h.01M353.7 1541.9h.01M354.5 1545.3h.01M357.6 1542.4h.01M358.5 1542.2h.01M359.9 1544.3h.01M363.2 1547.3h.01M364.2 1539.4h.01M365.3 1544.3h.01M368.6 1539.9h.01M370.2 1545.6h.01M370.2 1545.5h.01M373.2 1544.8h.01M375.2 1543.2h.01M377.5 1543.6h.01M378.2 1540.3h.01M381.3 1539.1h.01M381.7 1537.9h.01M383.4 1541.1h.01M384.9 1539.6h.01M387.7 1539h.01M389.8 1539.8h.01M390.6 1541.2h.01M392.9 1538.7h.01M393.8 1542.7h.01M395.6 1537.6h.01M398.4 1541.7h.01M399.5 1534.9h.01M402.3 1541.3h.01M403.5 1541.4h.01M405 1540.2h.01M406 1538.3h.01M409.9 1534.8h.01M411.6 1537h.01M412.2 1532.2h.01M414.8 1534.6h.01M416.3 1532.8h.01M416.8 1531.7h.01M420.1 1531.6h.01M421.1 1535h.01M422.9 1533.7h.01M425 1535.8h.01M426.8 1531.5h.01M430 1530.3h.01M430.9 1533.6h.01M432 1534.2h.01M434.8 1531.7h.01M435.6 1528.5h.01M438.7 1535.1h.01M439.1 1529.5h.01M441.7 1532.9h.01M444 1532.4h.01M445.4 1531h.01M445.6 1529.6h.01M449.1 1527.8h.01M449.8 1528.4h.01M452.3 1524.9h.01M454.6 1530.1h.01M455.1 1526.2h.01M456.8 1527.2h.01M460.5 1526.8h.01M462.2 1524.8h.01M462.4 1527.2h.01M464 1523.8h.01M467 1525.3h.01M468.9 1524.2h.01M469.7 1529.2h.01M472.2 1522.8h.01M473.6 1522.4h.01M474.6 1525.9h.01M476.5 1522.8h.01M478.2 1521.8h.01M480.9 1522h.01M482.4 1523.9h.01M483.9 1521.3h.01M485.6 1527.5h.01M487.8 1523.3h.01M490.6 1525.7h.01M492.3 1526.3h.01M493.7 1520.3h.01M495.7 1522.3h.01M498 1520.4h.01M499.4 1518.2h.01M500.5 1520.6h.01M501.6 1524.2h.01M505.2 1519.3h.01M506.7 1524.3h.01M508.2 1519.7h.01M510.2 1519.7h.01M511.8 1521.5h.01M512.9 1521.3h.01M515.2 1520.4h.01M516.5 1521.4h.01M518 1519h.01M520.7 1514.9h.01M523.1 1519h.01M523.2 1521.1h.01M526.5 1521.3h.01M528.2 1517.7h.01M530.3 1516.2h.01M531.2 1515.9h.01M532.8 1520.3h.01M535 1516.4h.01M536.5 1514.7h.01M538 1519.3h.01M541 1515.2h.01M542.4 1517.7h.01M543.7 1512.8h.01M545.7 1513.9h.01M548.4 1516.9h.01M550.3 1514.9h.01M551.3 1510.3h.01M554 1515.3h.01M554.9 1514.1h.01M557.6 1510h.01M558.6 1514.7h.01M559.5 1507.8h.01M563.1 1513.1h.01M562.7 1510.2h.01M565.9 1510.8h.01M567.7 1509.1h.01M569.5 1509h.01M570 1504.9h.01M572.3 1510.4h.01M574.5 1507.3h.01M577.5 1502.7h.01M577.5 1503.6h.01M581 1506.5h.01M580.9 1500.7h.01M582.8 1506.9h.01M585.2 1506h.01M588 1506.2h.01M589.1 1500.1h.01M590.8 1504.4h.01M593.7 1499.9h.01M594.4 1502.5h.01M596 1497.4h.01M597.5 1498.8h.01M599.2 1500.5h.01M602 1501.2h.01M604 1496.8h.01M604.4 1494.5h.01M607.9 1497.1h.01M607.9 1495.4h.01M611.2 1497.3h.01M613.2 1497.5h.01M614.2 1495h.01M615 1494.4h.01M617.8 1490.2h.01M619 1493.5h.01M620.7 1490h.01M622.9 1492.7h.01M624.3 1486.7h.01M626 1491.1h.01M627.5 1489.3h.01M630.4 1487.2h.01M631.8 1487.9h.01M632.9 1485.5h.01M635.6 1483.5h.01M637.7 1484.2h.01M638.4 1482.1h.01M640.8 1485.7h.01M643.7 1483.6h.01M643.7 1484h.01M647.6 1478.9h.01M648 1477.9h.01M650.4 1477.9h.01M653.1 1479.7h.01M654.1 1478.4h.01M655.2 1475.1h.01M658.3 1476.5h.01M658.6 1476.5h.01M660.2 1475.4h.01M662.3 1480h.01M665.5 1473.7h.01M667.2 1471.1h.01M668.4 1476.9h.01M669.3 1470.6h.01M672.5 1473.7h.01M674.7 1469h.01M674.6 1467.4h.01M676.8 1466.5h.01M679.3 1466h.01M680.7 1468.6h.01M681.6 1469.1h.01M685.6 1465.8h.01M686.2 1464.8h.01M689.2 1467.7h.01M690.9 1463.1h.01M691.2 1459.2h.01M692.4 1465.8h.01M695.4 1460.8h.01M696.2 1463.8h.01M697.7 1460.5h.01M700.8 1460.2h.01M703 1458.8h.01M704.3 1455.9h.01M706.7 1452.6h.01M707.3 1456.9h.01M710.5 1455h.01M710.3 1455.4h.01M714.3 1451.5h.01M714.7 1449.8h.01M717.1 1447.5h.01M717.7 1453.2h.01M720.4 1448.5h.01M721.7 1443.9h.01M723 1443.1h.01M726.3 1448h.01M728.7 1448.8h.01M728.6 1440.2h.01M731.6 1441.6h.01M734 1442.3h.01M734.7 1441h.01M736.1 1441.3h.01M737.6 1443.7h.01M740.9 1441.9h.01M743.1 1439.7h.01M744.8 1439.3h.01M745.5 1432.8h.01M747.4 1436.1h.01M749.8 1437.9h.01M751.3 1430.8h.01M751.8 1436.3h.01M755.5 1431.7h.01M755.4 1428.5h.01M757.3 1434.1h.01M759.8 1429.7h.01M762.6 1427.1h.01M763.7 1429h.01M765.2 1424.5h.01M767 1423.7h.01M768.6 1425.2h.01M770.1 1429.2h.01M773.1 1427.8h.01M775.4 1421.9h.01M775.3 1426.8h.01M778 1423.5h.01M780.7 1420h.01M781.8 1418.9h.01M782.7 1416h.01M784.6 1416.9h.01M787.6 1418.2h.01M789.5 1415.6h.01M789.9 1417.1h.01M791.9 1417.7h.01M793.9 1413h.01M796.6 1411.5h.01M798.3 1412.2h.01M798.6 1413.2h.01M801.7 1408.1h.01M803.1 1410.1h.01M805.5 1407.1h.01M806.9 1412.5h.01M807.4 1409.3h.01M810 1406.5h.01M811.7 1405.3h.01M814 1408h.01M816.7 1407.1h.01M818.7 1401.8h.01M820.1 1404.8h.01M820.3 1402.4h.01M823.2 1397.2h.01M825.1 1400h.01M827 1393.5h.01M829.4 1395.2h.01M830.9 1392.5h.01M832.2 1390.6h.01M833.9 1394.3h.01M835.3 1393.7h.01M837.3 1387.3h.01M838.1 1386.1h.01M840.6 1392h.01M842.4 1389.9h.01M844.9 1387.8h.01M846.8 1382.7h.01M175 1600h.01M270 1612h.01M365 1600h.01M455 1585h.01M547.5 1582.5h.01M640 1557.5h.01M651.2 1434.5h.01M823.9 1467.3h.01M720 1560h.01" stroke="#4fb5f2" stroke-width="20.4" stroke-linecap="round" fill="none"/>
<path d="M176.6 1513.9h.01M178.6 1509.7h.01M177 1512.8h.01M181.4 1514h.01M181.9 1521.2h.01M184.1 1519.7h.01M187.4 1523.5h.01M186.2 1526.6h.01M187.8 1529.8h.01M189.8 1534.6h.01M191.2 1528.4h.01M193.6 1534h.01M196.2 1534.5h.01M198.2 1538.8h.01M199.2 1536.9h.01M201 1536.4h.01M204.3 1549.3h.01M207.3 1551.5h.01M205.8 1549.5h.01M207.4 1552h.01M212.4 1548.2h.01M214.8 1548.8h.01M214.8 1547.8h.01M217.7 1551.8h.01M218.2 1550.6h.01M221.1 1546.4h.01M222.4 1547.1h.01M222.4 1547.2h.01M225.5 1560.6h.01M226 1549.6h.01M229.1 1548.9h.01M230.2 1555.4h.01M230.8 1562.1h.01M233.9 1558.4h.01M234.6 1564.1h.01M236.7 1557.4h.01M238.1 1553.4h.01M240.1 1556.9h.01M241.7 1558.2h.01M245.5 1554.5h.01M248.1 1553h.01M249.1 1563.3h.01M251.1 1552.1h.01M250.6 1552.6h.01M252.6 1559.3h.01M257.9 1557.1h.01M259 1555.7h.01M261.6 1557.3h.01M260.1 1554.5h.01M261.6 1553h.01M266.8 1561.9h.01M265.3 1560.2h.01M268.4 1552.7h.01M272.4 1555h.01M272.5 1556.6h.01M273.9 1565.4h.01M276.9 1554.8h.01M278.5 1557.9h.01M278.3 1559.1h.01M280.1 1562.6h.01M282.1 1552.6h.01M286.3 1553.5h.01M287.5 1563.2h.01M289.4 1564.2h.01M289.2 1556.1h.01M292.6 1552.4h.01M295.9 1559.9h.01M296.4 1558.8h.01M297.4 1553.2h.01M297.5 1554h.01M299 1559.1h.01M301.5 1563.1h.01M303 1554.6h.01M307.9 1558.8h.01M307.8 1560.2h.01M309.6 1552.1h.01M313.8 1562h.01M314.6 1553.6h.01M315.4 1550.8h.01M315.3 1562.7h.01M318.7 1552.4h.01M322 1556.6h.01M323.3 1550.6h.01M324.2 1554.7h.01M325.3 1551.3h.01M329.6 1559h.01M330.1 1552.3h.01M332.2 1554.1h.01M331.3 1556.9h.01M335.9 1561.5h.01M338.4 1549h.01M338 1548.3h.01M338.8 1554h.01M341.2 1548.2h.01M344.7 1560.1h.01M347.4 1547.8h.01M347 1547.4h.01M349.3 1559.8h.01M350.1 1556.7h.01M353.2 1553.6h.01M356.4 1550.5h.01M356.1 1556.3h.01M357.1 1547.3h.01M360 1551.2h.01M361.4 1549.1h.01M365.6 1551.1h.01M365 1556.2h.01M369.1 1554.8h.01M371.3 1546.6h.01M371 1556.1h.01M375 1547.4h.01M375.8 1547.4h.01M376.2 1554.8h.01M379.5 1544.9h.01M379.2 1557.4h.01M382.3 1551.9h.01M382.8 1550h.01M384.6 1545.4h.01M386.5 1551.1h.01M389.3 1550.5h.01M390.3 1549.1h.01M394.4 1555.8h.01M396.3 1546h.01M397 1553.3h.01M397.5 1549.1h.01M401.5 1552.1h.01M402.8 1543.2h.01M401.7 1551.6h.01M405.7 1544.2h.01M405.1 1544.9h.01M409.5 1546.6h.01M411.4 1543.5h.01M413.2 1542.7h.01M416.1 1544.6h.01M414.1 1552.1h.01M417.2 1546.5h.01M418.3 1543.4h.01M421.2 1544.5h.01M423.4 1544h.01M424.9 1540.6h.01M427 1548.4h.01M430.5 1549.9h.01M428.8 1544.8h.01M433.5 1549.6h.01M432.3 1539.8h.01M436 1545.6h.01M436.3 1542.9h.01M439 1550.1h.01M440.4 1550.2h.01M444.6 1542.2h.01M446.5 1539.8h.01M446.3 1539.9h.01M447.9 1542.3h.01M451.5 1549.9h.01M451.5 1542.9h.01M456 1540.3h.01M455.7 1546.2h.01M458.3 1539.9h.01M458.6 1539.7h.01M462.3 1547.7h.01M464.4 1543.3h.01M462.8 1549.8h.01M464.9 1540.2h.01M466.4 1542.5h.01M471 1549.8h.01M472.2 1537.9h.01M475.4 1537.9h.01M474.4 1539.4h.01M479 1542h.01M480.6 1543.9h.01M480.9 1546.9h.01M481.6 1539.6h.01M486.3 1544.1h.01M485.9 1544.3h.01M489.2 1545.3h.01M490 1543.9h.01M490.7 1541.7h.01M495.2 1547.6h.01M493.4 1538.3h.01M496.2 1539.1h.01M498.2 1538.3h.01M500.7 1537.6h.01M503.6 1534.5h.01M506.3 1536.5h.01M507.9 1543.2h.01M509.6 1539.7h.01M509.1 1542h.01M510.3 1539.1h.01M513.6 1534.8h.01M516.5 1539.3h.01M517.1 1542.2h.01M520.5 1534.5h.01M519.3 1534.1h.01M524.3 1538.2h.01M525.1 1534.3h.01M527.8 1533.6h.01M528.5 1532h.01M531.1 1536.9h.01M531.9 1539.6h.01M532 1537.4h.01M532.9 1541.8h.01M536.6 1534.5h.01M538.2 1536.1h.01M539 1535.3h.01M542.9 1537.8h.01M546.1 1540.2h.01M547.2 1531.6h.01M547.7 1532.7h.01M548.3 1533.6h.01M551.5 1534.6h.01M552.6 1533.6h.01M556.8 1534.1h.01M558.4 1541.8h.01M558.9 1541.3h.01M562.3 1538.8h.01M562.9 1530.1h.01M562.5 1527.5h.01M564.4 1533.8h.01M567.1 1536.7h.01M568.4 1534.5h.01M570.4 1528.6h.01M574 1529.3h.01M574.7 1528.4h.01M577 1527h.01M576.4 1533h.01M580 1533h.01M580 1534.4h.01M581.7 1536.6h.01M587.2 1534.1h.01M586.4 1531.6h.01M591.1 1532.2h.01M591.5 1522.3h.01M590.7 1530.3h.01M594.3 1528.1h.01M594.9 1525.2h.01M599.6 1525.7h.01M601.8 1522.6h.01M601.7 1528.9h.01M604.2 1530.9h.01M606.3 1530.8h.01M605.1 1520.1h.01M607.3 1521.5h.01M611.5 1525.9h.01M613.3 1526.5h.01M614.5 1520.4h.01M617.5 1528.3h.01M618.9 1530.3h.01M619.2 1522.9h.01M621.3 1521.6h.01M623.2 1525.2h.01M625.4 1518.6h.01M627.7 1516.8h.01M627.4 1521.1h.01M631.8 1518.8h.01M633.6 1523.1h.01M634.8 1518.9h.01M637.8 1523.6h.01M635.8 1525.5h.01M639.3 1525.6h.01M642 1527.1h.01M644.7 1522.6h.01M645.9 1513.9h.01M647.8 1523h.01M650.3 1523h.01M650.7 1523h.01M652.4 1518.6h.01M655.8 1518.5h.01M653.9 1511.9h.01M656.8 1517.3h.01M659.4 1511.6h.01M661.2 1523.7h.01M663.9 1519.8h.01M664.7 1522h.01M664.7 1520.2h.01M669.1 1514.2h.01M670 1510.7h.01M669.7 1512.9h.01M672.9 1515.2h.01M674.8 1520h.01M675.7 1518.7h.01M679.2 1509.8h.01M682.4 1514.1h.01M680.9 1518h.01M683.4 1513.5h.01M687 1515.5h.01M688.9 1516.3h.01M690.9 1506.8h.01M691.8 1510.7h.01M691.9 1509.4h.01M696.4 1509.1h.01M696.5 1509h.01M699.1 1512.6h.01M702.1 1505.5h.01M701.4 1505.4h.01M705.7 1513.1h.01M705.3 1511.7h.01M708 1512.9h.01M709.9 1511.7h.01M711.6 1503.4h.01M714.7 1502.8h.01M716.2 1505h.01M716.1 1503.7h.01M720.3 1500.7h.01M718.7 1508.7h.01M720.6 1498.8h.01M723.9 1505.9h.01M727.8 1497.1h.01M726.5 1507.9h.01M729.7 1505.4h.01M730.6 1496.9h.01M734.6 1495.1h.01M733.8 1496.8h.01M735.9 1493.4h.01M737.5 1493h.01M740.3 1499.7h.01M742.1 1490.4h.01M744.2 1498.8h.01M744.2 1495h.01M749.4 1499.3h.01M749 1490.8h.01M749.6 1487.2h.01M751.7 1492.9h.01M754.6 1487.9h.01M756.2 1491.2h.01M759.5 1497.4h.01M761.9 1490.8h.01M763.3 1492.2h.01M761.9 1484h.01M765.8 1492.1h.01M767.8 1488.8h.01M769.4 1490.8h.01M771.7 1483h.01M772.5 1485.1h.01M774.3 1485.5h.01M774.4 1490.6h.01M778.1 1491.3h.01M777.9 1479.9h.01M780 1490.3h.01M783.4 1488.1h.01M783.4 1487.6h.01M785.2 1489.4h.01M788.9 1489.7h.01M791.2 1484.2h.01M791 1484.2h.01M795.3 1483.5h.01M796.8 1487h.01M798.6 1483.2h.01M799.7 1480.2h.01M802.3 1485.1h.01M804.2 1474.5h.01M804 1481.4h.01M807.1 1485.4h.01M810.6 1484.8h.01M810.8 1482h.01M813.7 1473.7h.01M813.2 1471.7h.01M816.3 1483.9h.01M815.5 1472.6h.01M818.1 1481.4h.01M820.7 1473h.01M822.5 1473.6h.01M823.8 1477.7h.01M827.3 1473h.01M828.6 1469.7h.01M832.2 1470.5h.01M832.2 1482.8h.01M833.1 1472.6h.01M836.6 1474.9h.01M836.4 1476.2h.01M840.6 1477.3h.01M839.9 1477.1h.01M844.6 1470.3h.01M845.2 1474.4h.01M847.1 1469.1h.01M847.1 1471.8h.01M851.4 1472.2h.01M851.1 1477h.01M852.1 1470.9h.01M855.6 1471.1h.01M857.6 1474.5h.01M857.5 1467.8h.01M862 1471.6h.01M861.1 1466.7h.01M864.1 1477.2h.01M865 1479.2h.01M866 1473.5h.01M870.6 1472.5h.01M175 1595h.01M270 1605h.01M365 1607h.01M455 1597.5h.01M547.5 1585h.01M640 1575h.01M731 1554.8h.01M823.9 1537.3h.01M257 1532h.01M666.5 1493.6h.01M520 1502.3h.01" stroke="#ade0fb" stroke-width="20.4" stroke-linecap="round" fill="none"/>
<path d="M989.4 1356.3h.01M993.4 1372.7h.01M996.7 1381.9h.01M1000.1 1396.6h.01M1003.4 1399.4h.01M1008 1404h.01M1011.4 1411.2h.01M1015.1 1413h.01M1018.4 1414.8h.01M1021.8 1419.1h.01M1024.7 1424.4h.01M1028.5 1424.7h.01M1031.4 1428.6h.01M1035.2 1427.6h.01M1038.6 1433h.01M1041.5 1432.3h.01M1046.2 1436.2h.01M1049.2 1435.7h.01M1052 1439.4h.01M1056.6 1440.8h.01M1060.5 1445h.01M1063.2 1447.7h.01M1066.4 1450.2h.01M1070.1 1446.3h.01M1074.7 1450.3h.01M1078 1448.8h.01M1080.3 1451.8h.01M1085 1450.2h.01M1087.9 1454.9h.01M1091.1 1453.7h.01M1095.6 1454.8h.01M1098.6 1456.2h.01M1102.5 1454.6h.01M1105.4 1454.2h.01M1108.5 1458h.01M1113.1 1455.2h.01M1116.3 1456.4h.01M1119.6 1455.1h.01M1122.5 1453.8h.01M1126.3 1452.5h.01M1130.4 1453.1h.01M1133.5 1454h.01M1136.5 1456h.01M1140.9 1454.2h.01M1143.1 1452h.01M1147.6 1449.2h.01M1151.2 1452.8h.01M1155.1 1450.3h.01M1157 1447.8h.01M1161.8 1446.7h.01M1165 1449h.01M1168.2 1449h.01M1171.1 1447.3h.01M1175.1 1448.1h.01M1178.6 1443.4h.01M1182 1444.7h.01M1185 1446.1h.01M1189.6 1442h.01M1193 1445.3h.01M1196.5 1440.9h.01M1200.1 1442h.01M1203.6 1437.6h.01M1205.9 1437.1h.01M1210.2 1439.1h.01M1213.1 1438.1h.01M1216.5 1433.8h.01M1220.6 1436.4h.01M1225.1 1429.9h.01M1227.3 1431.3h.01M1230.9 1433.4h.01M1235 1428.9h.01M1238.5 1430.3h.01M1242.4 1431h.01M1245.2 1429.6h.01M1249.7 1427.5h.01M1252.7 1426.4h.01M1255.6 1423.6h.01M1258.6 1422.9h.01M1262.5 1422.8h.01M1266.6 1422.1h.01M1270.3 1419.8h.01M1273.3 1418.8h.01M1277.2 1419.1h.01M1279.9 1418.1h.01M1283.3 1412.1h.01M1287.8 1412.3h.01M1291.4 1412.1h.01M1294 1414h.01M1298.3 1407.7h.01M1302.1 1407.3h.01M1305.1 1410.5h.01M1308.9 1407h.01M1312.6 1407.9h.01M1314.8 1409.6h.01M1318.9 1405.7h.01M1322.2 1404.7h.01M1325.9 1406h.01M1328.7 1403.6h.01M1332.4 1405h.01M1335.8 1402h.01M1340.1 1401.5h.01M1343.1 1402h.01M1345.9 1406.3h.01M1350.9 1408.7h.01M1353.9 1408.1h.01M1356.5 1407.5h.01M1361.7 1405.7h.01M1364 1405h.01M1367.5 1401.6h.01M1371.1 1404.8h.01M1374.2 1399.7h.01M1378.8 1399.6h.01M1381.1 1399.6h.01M1386 1403.4h.01M1389.6 1399.3h.01M1393 1397.4h.01M1395.8 1399.8h.01M1399.2 1401.7h.01M1403.3 1397.6h.01M1406.7 1397.6h.01M1409.1 1392.8h.01M1413 1394.3h.01M1417.4 1388.2h.01M1421.2 1384.8h.01M1423.5 1384.1h.01M1427.3 1387.5h.01M1431.3 1382.3h.01M1433.8 1387.1h.01M1437.4 1387.9h.01M1441.5 1387.8h.01M1445.2 1387.4h.01M1447.7 1388.1h.01M1451.9 1382.7h.01M1454.4 1373.6h.01M1458.9 1375h.01M1462.1 1374.7h.01M1464.9 1370.6h.01M1469.6 1376.5h.01M1472.5 1373h.01M1476 1375.2h.01M1479.6 1374.9h.01M1483.8 1374.2h.01M1487.5 1380.6h.01M1491.1 1383.7h.01M1494.3 1383.5h.01M1497.8 1389.2h.01M1547.2 1418.6h.01M1551 1418.8h.01M1554.9 1417.4h.01M1558.7 1414.9h.01M1562.2 1414.2h.01M1565 1415.9h.01M1568.9 1413.4h.01M1572.9 1412.4h.01M1574.6 1412.1h.01M1579.2 1411.9h.01M1583.4 1411.4h.01M1586.9 1411.2h.01M1590.4 1408.5h.01M1592.5 1408.7h.01M1597.2 1410.1h.01M1600.3 1407h.01M1603.1 1404.3h.01M1450.5 1340.5h.01M1525.7 1448.3h.01M1230 1462h.01" stroke="#0a3a58" stroke-width="20.4" stroke-linecap="round" fill="none"/>
<path d="M989.7 1355.4h.01M994.2 1372.9h.01M996.9 1387.8h.01M999.4 1399.5h.01M1004.1 1410.6h.01M1008.1 1413.9h.01M1011.1 1419h.01M1014.8 1417.6h.01M1018.5 1423.5h.01M1021.6 1422.1h.01M1025.6 1428h.01M1027.7 1430.7h.01M1031.2 1430.9h.01M1035.7 1438.4h.01M1038.8 1438.2h.01M1042 1440.7h.01M1045.3 1442.8h.01M1049.6 1449h.01M1052.8 1450.1h.01M1055.7 1453.3h.01M1060 1450.1h.01M1063.4 1453.6h.01M1067.5 1456.7h.01M1069.6 1457.6h.01M1073 1458.1h.01M1077.9 1457.8h.01M1081.1 1460.7h.01M1083.6 1465.1h.01M1088.2 1463h.01M1090.8 1465h.01M1095.2 1469.7h.01M1098.3 1465.5h.01M1100.9 1468.1h.01M1105.8 1468.5h.01M1108.9 1468.6h.01M1112 1473.1h.01M1116.1 1469.9h.01M1118.7 1471.8h.01M1122.4 1473.1h.01M1126.8 1472h.01M1129.3 1474.7h.01M1133.8 1476.8h.01M1136.1 1475.8h.01M1140.6 1475.6h.01M1144.4 1474h.01M1147.4 1478h.01M1151.7 1474.1h.01M1154.7 1476.3h.01M1158.2 1477.7h.01M1161.8 1475.7h.01M1165.5 1477.2h.01M1168.8 1476.7h.01M1171.1 1477.1h.01M1175.6 1480.5h.01M1178.8 1477h.01M1183.1 1479.4h.01M1185.7 1478.9h.01M1188.9 1478h.01M1192.6 1476.5h.01M1195.6 1476.4h.01M1200.3 1479.6h.01M1212.2 1455.3h.01M1215 1454.2h.01M1219.9 1448.8h.01M1223.7 1454.5h.01M1226.2 1452.3h.01M1230 1452.1h.01M1232.2 1451.7h.01M1237.7 1452.6h.01M1239.7 1455.6h.01M1243.6 1449.8h.01M1247.5 1449.6h.01M1251.1 1452.9h.01M1253.6 1448.9h.01M1258 1446.9h.01M1262.1 1450.2h.01M1264 1448.7h.01M1268.5 1446.6h.01M1272.2 1446.8h.01M1275.2 1446.2h.01M1279 1442.8h.01M1282.5 1443.6h.01M1285.1 1449h.01M1288.6 1447.4h.01M1292.2 1450.4h.01M1297.5 1445.2h.01M1300.8 1449.9h.01M1302.6 1445.9h.01M1306.1 1445h.01M1310.4 1447.5h.01M1313.7 1445.3h.01M1317.4 1451.5h.01M1320.5 1449.6h.01M1323.7 1450.3h.01M1328 1451.6h.01M1330.3 1448.1h.01M1334.6 1443.1h.01M1337.9 1444.5h.01M1341.2 1439.8h.01M1344.2 1439.8h.01M1349.5 1434.8h.01M1352.3 1429.4h.01M1355.6 1429.6h.01M1359.3 1429.8h.01M1362.4 1428.5h.01M1365.8 1421.8h.01M1368.9 1421.9h.01M1374.3 1425.5h.01M1377.4 1421.1h.01M1379.6 1421.5h.01M1384.2 1420.1h.01M1387.4 1422.3h.01M1391.4 1425.1h.01M1393.5 1423.1h.01M1398.5 1428.4h.01M1401.3 1428.5h.01M1404.1 1425.6h.01M1408.6 1422.8h.01M1411.9 1429.2h.01M1414.6 1421.5h.01M1419.2 1425.1h.01M1421.7 1420.5h.01M1425.4 1416.3h.01M1429.9 1414.9h.01M1433.5 1415.9h.01M1435.3 1414.3h.01M1438.9 1411.4h.01M1442.3 1408.2h.01M1446.7 1404.8h.01M1450.9 1403.4h.01M1452.7 1395.8h.01M1458.5 1395.2h.01M1461.6 1393.7h.01M1465 1388.3h.01M1467.8 1393h.01M1471.1 1392.8h.01M1475.6 1393.8h.01M1477.6 1394.8h.01M1482 1389.3h.01M1486 1390.3h.01M1488.4 1391.9h.01M1492.3 1390.2h.01M1496.6 1395.5h.01M1498.8 1396.7h.01M1501.7 1389.6h.01M1506.9 1389.7h.01M1509.1 1386.8h.01M1512.9 1385.8h.01M1517.1 1383.6h.01M1520.1 1388.7h.01M1524 1382.2h.01M1526.4 1385h.01M1544.1 1384h.01M1548.3 1384.6h.01M1552.2 1384.8h.01M1556.3 1382.8h.01M1559 1381.1h.01M1563.3 1381.9h.01M1566.4 1382.9h.01M1569.3 1382h.01M1573.5 1379h.01M1577 1376.8h.01M1579.1 1380.7h.01M1584.4 1376.9h.01M1586.8 1374.1h.01M1591.3 1372.4h.01M1594.3 1373.6h.01M1597.4 1372h.01M1600.8 1368.4h.01M1002.7 1465.1h.01M1177.7 1561.1h.01M1359.6 1561.1h.01M1547.5 1570h.01M1578.1 1558.1h.01M1609.8 1572h.01M1251.9 1476h.01M1525 1395h.01" stroke="#1273ae" stroke-width="20.4" stroke-linecap="round" fill="none"/>
<path d="M989.3 1388.9h.01M993.7 1396h.01M997.4 1408h.01M999.9 1412.4h.01M1002.9 1417.9h.01M1007.5 1421.5h.01M1011.7 1425.4h.01M1014.3 1427.6h.01M1017.4 1435.4h.01M1021.1 1439.2h.01M1025.4 1441.3h.01M1027.7 1449.5h.01M1032.6 1451.7h.01M1034.5 1459.1h.01M1039 1458.4h.01M1041.7 1462.1h.01M1046.6 1462.1h.01M1049.7 1464.4h.01M1053 1467.2h.01M1056.4 1466.8h.01M1060.5 1473.1h.01M1063.3 1470.7h.01M1067.3 1470.6h.01M1069.5 1475.5h.01M1073.9 1477.9h.01M1076.5 1483.2h.01M1081.1 1482.9h.01M1084.6 1491.6h.01M1087.4 1493.9h.01M1092.1 1495.7h.01M1094.8 1495.5h.01M1098.1 1499h.01M1101.2 1498h.01M1105.4 1500.3h.01M1109.5 1497.3h.01M1112.5 1498.2h.01M1115.9 1495.2h.01M1118.7 1496.5h.01M1122.7 1494.5h.01M1126 1493.1h.01M1129.9 1493.3h.01M1132.6 1497.4h.01M1136.1 1497h.01M1140.3 1494.3h.01M1143.9 1495.9h.01M1148 1499h.01M1150.7 1496.3h.01M1154.5 1495.8h.01M1157.9 1496.6h.01M1160.9 1501.2h.01M1165.3 1499.7h.01M1169.1 1497.9h.01M1171.5 1500.6h.01M1182.6 1528.4h.01M1185.5 1515.1h.01M1189.1 1506.5h.01M1192.6 1506.9h.01M1195.9 1507.8h.01M1200 1503h.01M1203.4 1504.3h.01M1206.7 1505.7h.01M1211.2 1504.6h.01M1214.9 1504.9h.01M1217.1 1501.8h.01M1221.2 1501.8h.01M1224.5 1502.5h.01M1228.7 1502.6h.01M1232.3 1502.4h.01M1234.3 1503.1h.01M1238.1 1496.2h.01M1241.3 1493.3h.01M1246 1489.2h.01M1250 1487.8h.01M1253.5 1492.1h.01M1255.6 1488.8h.01M1258.9 1492.6h.01M1262.8 1496.1h.01M1266 1496.3h.01M1270 1492.5h.01M1274.1 1496.8h.01M1276.7 1496.1h.01M1280.1 1495.6h.01M1284.3 1498.7h.01M1287.2 1497.9h.01M1292.1 1498.9h.01M1294.7 1498.3h.01M1297.3 1501.7h.01M1301.2 1503.1h.01M1304.7 1501.5h.01M1309 1503.9h.01M1311.9 1504.6h.01M1315.8 1505.4h.01M1319.7 1505.6h.01M1322.3 1500.9h.01M1325.3 1501.3h.01M1329.5 1499.4h.01M1332.6 1498.9h.01M1336.4 1495.4h.01M1340.8 1497.9h.01M1343.1 1498.9h.01M1347.3 1501.6h.01M1345.7 1527.5h.01M1351.6 1513.6h.01M1359.6 1473.8h.01M1362.4 1473.9h.01M1367.4 1476.8h.01M1370 1473.2h.01M1374.5 1480.8h.01M1377.7 1476h.01M1380.8 1480.1h.01M1384.2 1480.8h.01M1387.8 1473.2h.01M1390.7 1479h.01M1395.6 1477.2h.01M1397.5 1471.3h.01M1401.8 1468.5h.01M1405.9 1470.7h.01M1409.1 1470.9h.01M1411.8 1472.6h.01M1415.1 1469.6h.01M1418.9 1470.8h.01M1423 1468.8h.01M1425.7 1466.9h.01M1428.6 1468.3h.01M1432.1 1467.5h.01M1437.6 1469.3h.01M1439.9 1471.1h.01M1444.6 1469.6h.01M1446.7 1469.9h.01M1451.2 1467.8h.01M1454 1464.7h.01M1457.2 1466h.01M1461.1 1465h.01M1465.2 1463h.01M1467.3 1461.9h.01M1471.9 1460.3h.01M1474.7 1460.4h.01M1477.6 1464.9h.01M1481.8 1463.7h.01M1485.6 1463.3h.01M1488.3 1458.3h.01M1492.1 1460.3h.01M1495.6 1458.7h.01M1498.9 1455.4h.01M1503.9 1461.7h.01M1507.2 1465.7h.01M1510.8 1461.8h.01M1513.1 1466.3h.01M1518 1464.7h.01M1521.1 1465h.01M1523.4 1465.8h.01M1527.5 1469.8h.01M1531.9 1464.9h.01M1535.6 1462.1h.01M1537.2 1463.9h.01M1541.3 1465.5h.01M1544.1 1464.4h.01M1548.1 1462.6h.01M1551.1 1462.4h.01M1556.3 1459.2h.01M1559.8 1459.9h.01M1563.3 1458.4h.01M1567.1 1456.9h.01M1570 1455.6h.01M1574.1 1451.7h.01M1577.1 1452.6h.01M1580.5 1451.5h.01M1583.3 1454.3h.01M1586.9 1453.4h.01M1590.9 1448.8h.01M1594.5 1449h.01M1597.4 1449.8h.01M1600.8 1447.1h.01M1002.7 1561.1h.01" stroke="#4fb5f2" stroke-width="20.4" stroke-linecap="round" fill="none"/>
<path d="M989.2 1345.3h.01M993.8 1357.8h.01M997 1369h.01M1000.6 1378.4h.01M1003.5 1386.9h.01M1007.2 1389.5h.01M1010.4 1394.6h.01M1013.9 1396h.01M1017 1399.8h.01M1022.1 1398h.01M1024.7 1400.7h.01M1028.1 1408.9h.01M1032 1408.1h.01M1036.1 1413.9h.01M1038 1415.8h.01M1041.7 1421.8h.01M1045.6 1422.3h.01M1049.9 1425.4h.01M1052 1425.1h.01M1055.7 1431.3h.01M1060 1431.9h.01M1063 1432.7h.01M1066 1438.5h.01M1070.8 1440.1h.01M1074.1 1442h.01M1076.5 1441.6h.01M1081.3 1449h.01M1085.2 1447.7h.01M1088.2 1452.4h.01M1091.6 1454.9h.01M1095.6 1453.1h.01M1098.7 1456.5h.01M1102.4 1461.6h.01M1106.1 1462.7h.01M1109.6 1460.6h.01M1111.6 1463.5h.01M1116.2 1466.4h.01M1119.9 1462.7h.01M1123.1 1465.6h.01M1125.7 1465.4h.01M1130.3 1463.8h.01M1134 1464.1h.01M1136 1465.7h.01M1140.8 1468.6h.01M1144.5 1465.5h.01M1146.8 1466h.01M1150.3 1467.6h.01M1155.2 1469.2h.01M1157.5 1470.9h.01M1161.4 1465.3h.01M1164 1468.4h.01M1167.7 1466.7h.01M1171.6 1468.7h.01M1176.1 1465.7h.01M1179.6 1468.1h.01M1182 1467.8h.01M1185.5 1469.1h.01M1189.1 1472h.01M1192.5 1468.5h.01M1197.1 1471.6h.01M1199 1469.8h.01M1203.5 1466.9h.01M1206.5 1466.6h.01M1209.6 1468.2h.01M1213 1467.9h.01M1217.3 1468.7h.01M1221.4 1465.3h.01M1223.7 1469.1h.01M1227.7 1466.2h.01M1230.7 1466.2h.01M1235.6 1467.4h.01M1238.4 1468.5h.01M1242.3 1468h.01M1245.1 1469.4h.01M1248.5 1465.7h.01M1253.2 1470.7h.01M1255.7 1469.4h.01M1259.9 1467.2h.01M1262.2 1465.7h.01M1267 1470.4h.01M1269.7 1470.1h.01M1273.3 1466.7h.01M1276.4 1467.1h.01M1280.1 1468.7h.01M1284.6 1467.6h.01M1287.2 1465.4h.01M1291.6 1467.2h.01M1294.5 1463.1h.01M1298.7 1465.1h.01M1301.3 1464.1h.01M1305.6 1468.4h.01M1308.1 1467.9h.01M1312.7 1468.3h.01M1314.6 1463.6h.01M1318.5 1466h.01M1321.8 1464.1h.01M1325.3 1468.8h.01M1329.9 1464h.01M1332.7 1468h.01M1335.9 1464.8h.01M1339.4 1465.1h.01M1343.3 1458.7h.01M1347.2 1455.4h.01M1349.9 1456.8h.01M1354.5 1450h.01M1356.6 1452.9h.01M1360.7 1451.9h.01M1364 1447.7h.01M1367.1 1450.1h.01M1371.7 1452.8h.01M1374.5 1449.8h.01M1378.7 1451.4h.01M1382.3 1451.8h.01M1385.4 1451.8h.01M1388.7 1452h.01M1392.2 1448h.01M1396.4 1448.2h.01M1399.4 1451.7h.01M1403 1450.5h.01M1407.2 1448.4h.01M1409.8 1450.7h.01M1414.2 1447h.01M1416 1449.6h.01M1420.6 1446.5h.01M1424.5 1448.8h.01M1427.1 1444.5h.01M1430.9 1443.4h.01M1434.2 1441.7h.01M1438.4 1442.2h.01M1442 1443.9h.01M1444.8 1439.6h.01M1447.4 1439.5h.01M1452.4 1440.6h.01M1455.8 1437.4h.01M1459.3 1442.2h.01M1461.4 1436.6h.01M1466.4 1437.6h.01M1469 1439.9h.01M1473.5 1440.3h.01M1475.9 1437.3h.01M1479.1 1436.3h.01M1483.9 1434.6h.01M1486.8 1436h.01M1489.5 1433h.01M1493.6 1436.1h.01M1497.7 1433.6h.01M1500.3 1434.4h.01M1503.8 1433.3h.01M1507.4 1433.9h.01M1510.5 1428.5h.01M1515.5 1428.6h.01M1518.5 1429.7h.01M1521.9 1431.4h.01M1525.3 1431h.01M1529.2 1429.7h.01M1532.7 1429.5h.01M1536.3 1432.5h.01M1539.6 1431.8h.01M1543.6 1437.2h.01M1547 1437.3h.01M1550.3 1433.1h.01M1553.2 1434.6h.01M1556 1437.7h.01M1561.2 1439.2h.01M1563.6 1434.4h.01M1567.5 1433.4h.01M1571.4 1437.3h.01M1574.5 1436.4h.01M1577.3 1435.6h.01M1581 1432.6h.01M1585.6 1431.9h.01M1588.8 1429.5h.01M1591 1433.4h.01M1596.1 1432.2h.01M1598.8 1428.9h.01M1601.5 1432.7h.01M1606.5 1429h.01M1609.6 1430.7h.01M1612.8 1430.6h.01M1616.3 1428.3h.01M1619.3 1429.5h.01M1623.1 1430.7h.01M1627.7 1434.3h.01M1630.7 1431.4h.01" stroke="#ade0fb" stroke-width="20.4" stroke-linecap="round" fill="none"/>
<text font-size="46" text-anchor="end" transform="translate(149 114.8)">180</text>
<text font-size="46" text-anchor="end" transform="translate(149 275)">160</text>
<text font-size="46" text-anchor="end" transform="translate(149 435.3)">140</text>
<text font-size="46" text-anchor="end" transform="translate(149 595.5)">120</text>
<text font-size="46" text-anchor="end" transform="translate(149 680)">1</text>
<text font-size="46" text-anchor="end" transform="translate(149 794.6)">0.95</text>
<text font-size="46" text-anchor="end" transform="translate(149 909.2)">0.9</text>
<text font-size="46" text-anchor="end" transform="translate(149 1023.7)">0.85</text>
<text font-size="46" text-anchor="end" transform="translate(149 1138.3)">0.8</text>
<text font-size="46" text-anchor="end" transform="translate(149 1187.8)">1.3</text>
<text font-size="46" text-anchor="end" transform="translate(149 1307.9)">1.2</text>
<text font-size="46" text-anchor="end" transform="translate(149 1428)">1.1</text>
<text font-size="46" text-anchor="end" transform="translate(149 1548.2)">1</text>
<text font-size="46" text-anchor="end" transform="translate(149 1668.3)">0.9</text>
<text font-size="46" text-anchor="start" transform="translate(1729 777.9)">1.04</text>
<text font-size="46" text-anchor="start" transform="translate(1729 938.3)">1</text>
<text font-size="46" text-anchor="start" transform="translate(1729 1098.7)">0.96</text>
<text font-size="46" text-anchor="start" transform="translate(1729 1220.3)">1.04</text>
<text font-size="46" text-anchor="start" transform="translate(1729 1348.5)">1</text>
<text font-size="46" text-anchor="start" transform="translate(1729 1476.6)">0.96</text>
<text font-size="46" text-anchor="start" transform="translate(1729 1604.7)">0.92</text>
<text font-size="46" text-anchor="middle" transform="translate(173.5 1719)">0</text>
<text font-size="46" text-anchor="middle" transform="translate(354.1 1719)">100</text>
<text font-size="46" text-anchor="middle" transform="translate(534.6 1719)">200</text>
<text font-size="46" text-anchor="middle" transform="translate(715.1 1719)">300</text>
<text font-size="46" text-anchor="middle" transform="translate(895.7 1719)">400</text>
<text font-size="46" text-anchor="middle" transform="translate(981.7 1719)">0</text>
<text font-size="46" text-anchor="middle" transform="translate(1222.5 1719)">400</text>
<text font-size="46" text-anchor="middle" transform="translate(1463.2 1719)">800</text>
<text font-size="46" text-anchor="middle" transform="translate(1704 1719)">1200</text>
<text font-size="46" text-anchor="middle" transform="translate(534.6 1772)">Cycle</text>
<text font-size="46" text-anchor="middle" transform="translate(1342.8 1772)">Cycle</text>
<text font-size="46" text-anchor="middle" transform="translate(48 340.5) rotate(-90) scale(1.0120 1)">Capacity (mAh)</text>
<text font-size="46" text-anchor="middle" transform="translate(35.4 889.5) rotate(-90) scale(1.0120 1)">Normalized Capacity</text>
<text font-size="46" text-anchor="middle" transform="translate(61.6 1420.3) rotate(-90) scale(1.0120 1)">Normalized &#916;V</text>
<text font-size="45.5" text-anchor="middle" transform="translate(533.8 34.7) scale(1.0320 1)">NMC811/AGC</text>
<text font-size="45.5" text-anchor="middle" transform="translate(533.8 86.5) scale(1.0320 1)">70 &#176;C; 2VC1DTD; C/3:C/3</text>
<text font-size="45.5" text-anchor="middle" transform="translate(1342.3 34.7) scale(1.0320 1)">NMC811/AGC</text>
<text font-size="45.5" text-anchor="middle" transform="translate(1342.3 86.5) scale(1.0320 1)">40 &#176;C; 2VC1DTD; C/3:C/3</text>
<text font-size="46" text-anchor="end" font-weight="bold" transform="translate(869 163.5)">a</text>
<text font-size="46" text-anchor="end" font-weight="bold" transform="translate(1679 163.5)">b</text>
<text font-size="46" text-anchor="end" font-weight="bold" transform="translate(871.5 705)">c</text>
<text font-size="46" text-anchor="end" font-weight="bold" transform="translate(1679.5 705)">d</text>
<text font-size="46" text-anchor="end" font-weight="bold" transform="translate(871.5 1236)">e</text>
<text font-size="46" text-anchor="end" font-weight="bold" transform="translate(1679 1236)">f</text>
<circle cx="1175.5" cy="427.6" r="21.3" fill="#ade0fb"/>
<text font-size="46" text-anchor="start" transform="translate(1230 443.9)">4.04 V</text>
<circle cx="1175.5" cy="492.3" r="21.3" fill="#4fb5f2"/>
<text font-size="46" text-anchor="start" transform="translate(1230 508.6)">4.06 V</text>
<circle cx="1431.2" cy="427.6" r="21.3" fill="#1273ae"/>
<text font-size="46" text-anchor="start" transform="translate(1485.7 443.9)">4.08 V</text>
<circle cx="1431.2" cy="492.3" r="21.3" fill="#0a3a58"/>
<text font-size="46" text-anchor="start" transform="translate(1485.7 508.6)">4.10 V</text>
</svg></div></body></html>
